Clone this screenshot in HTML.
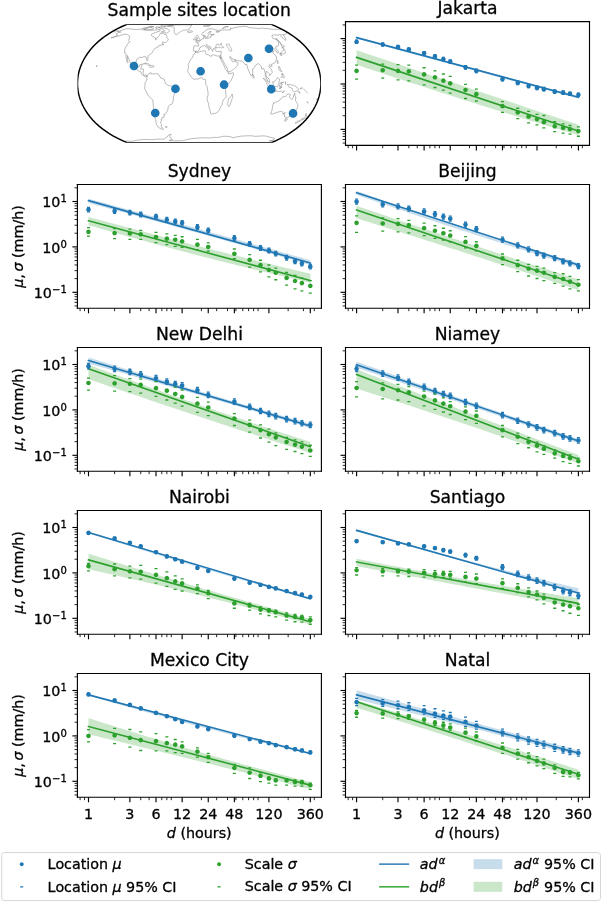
<!DOCTYPE html>
<html><head><meta charset="utf-8"><title>Figure</title>
<style>html,body{margin:0;padding:0;background:#fff;width:602px;height:902px;overflow:hidden}svg{display:block}text{stroke:#000;stroke-width:0.3px}</style>
</head><body>
<svg width="602" height="902" viewBox="0 0 602 902" version="1.1"><defs><style type="text/css">*{stroke-linejoin: round; stroke-linecap: butt}</style></defs><g><g><path d="M 0 902 L 602 902 L 602 0 L 0 0 z " style="fill: #ffffff"/></g><g><g><path d="M 345.5 145.4 L 589.5 145.4 L 589.5 21.6 L 345.5 21.6 z " style="fill: #ffffff"/></g><g><defs><path id="m960c90e449" d="M 356.59 -865.38 L 356.59 -863.31 L 360.35 -862.28 L 364.11 -861.25 L 367.86 -860.23 L 371.62 -859.20 L 375.38 -858.18 L 379.14 -857.15 L 382.90 -856.13 L 386.66 -855.10 L 390.42 -854.08 L 394.18 -853.05 L 397.94 -852.03 L 401.70 -851.01 L 405.46 -849.99 L 409.22 -848.97 L 412.98 -847.95 L 416.74 -846.93 L 420.50 -845.91 L 424.26 -844.89 L 428.02 -843.87 L 431.78 -842.85 L 435.54 -841.83 L 439.30 -840.81 L 443.06 -839.80 L 446.82 -838.78 L 450.58 -837.77 L 454.34 -836.75 L 458.10 -835.73 L 461.86 -834.72 L 465.62 -833.71 L 469.37 -832.69 L 473.13 -831.68 L 476.89 -830.67 L 480.65 -829.65 L 484.41 -828.64 L 488.17 -827.63 L 491.93 -826.62 L 495.69 -825.61 L 499.45 -824.60 L 503.21 -823.59 L 506.97 -822.58 L 510.73 -821.57 L 514.49 -820.57 L 518.25 -819.56 L 522.01 -818.55 L 525.77 -817.55 L 529.53 -816.54 L 533.29 -815.53 L 537.05 -814.53 L 540.81 -813.53 L 544.57 -812.52 L 548.33 -811.52 L 552.09 -810.51 L 555.85 -809.51 L 559.61 -808.51 L 563.37 -807.51 L 567.13 -806.51 L 570.88 -805.51 L 574.64 -804.51 L 578.40 -803.51 L 578.40 -806.00 L 578.40 -806.00 L 574.64 -806.98 L 570.88 -807.96 L 567.13 -808.94 L 563.37 -809.92 L 559.61 -810.90 L 555.85 -811.89 L 552.09 -812.87 L 548.33 -813.86 L 544.57 -814.84 L 540.81 -815.83 L 537.05 -816.82 L 533.29 -817.81 L 529.53 -818.80 L 525.77 -819.79 L 522.01 -820.78 L 518.25 -821.77 L 514.49 -822.77 L 510.73 -823.76 L 506.97 -824.76 L 503.21 -825.76 L 499.45 -826.75 L 495.69 -827.75 L 491.93 -828.75 L 488.17 -829.75 L 484.41 -830.76 L 480.65 -831.76 L 476.89 -832.76 L 473.13 -833.77 L 469.37 -834.77 L 465.62 -835.78 L 461.86 -836.79 L 458.10 -837.80 L 454.34 -838.80 L 450.58 -839.81 L 446.82 -840.83 L 443.06 -841.84 L 439.30 -842.85 L 435.54 -843.87 L 431.78 -844.88 L 428.02 -845.90 L 424.26 -846.91 L 420.50 -847.93 L 416.74 -848.95 L 412.98 -849.97 L 409.22 -850.99 L 405.46 -852.01 L 401.70 -853.04 L 397.94 -854.06 L 394.18 -855.08 L 390.42 -856.11 L 386.66 -857.14 L 382.90 -858.16 L 379.14 -859.19 L 375.38 -860.22 L 371.62 -861.25 L 367.86 -862.28 L 364.11 -863.32 L 360.35 -864.35 L 356.59 -865.38 z "/></defs><g clip-path="url(#pa91a265807)"><use href="#m960c90e449" x="0" y="902" style="fill: #1f77b4; fill-opacity: 0.25"/></g></g><g><defs><path id="mf3bcea6b9d" d="M 356.59 -851.89 L 356.59 -837.35 L 360.35 -836.09 L 364.11 -834.82 L 367.86 -833.56 L 371.62 -832.30 L 375.38 -831.05 L 379.14 -829.79 L 382.90 -828.54 L 386.66 -827.29 L 390.42 -826.05 L 394.18 -824.80 L 397.94 -823.56 L 401.70 -822.32 L 405.46 -821.08 L 409.22 -819.85 L 412.98 -818.62 L 416.74 -817.39 L 420.50 -816.16 L 424.26 -814.93 L 428.02 -813.71 L 431.78 -812.49 L 435.54 -811.27 L 439.30 -810.06 L 443.06 -808.84 L 446.82 -807.63 L 450.58 -806.42 L 454.34 -805.22 L 458.10 -804.01 L 461.86 -802.81 L 465.62 -801.61 L 469.37 -800.42 L 473.13 -799.22 L 476.89 -798.03 L 480.65 -796.84 L 484.41 -795.65 L 488.17 -794.47 L 491.93 -793.29 L 495.69 -792.11 L 499.45 -790.93 L 503.21 -789.76 L 506.97 -788.58 L 510.73 -787.41 L 514.49 -786.24 L 518.25 -785.08 L 522.01 -783.92 L 525.77 -782.75 L 529.53 -781.60 L 533.29 -780.44 L 537.05 -779.29 L 540.81 -778.14 L 544.57 -776.99 L 548.33 -775.84 L 552.09 -774.70 L 555.85 -773.55 L 559.61 -772.41 L 563.37 -771.28 L 567.13 -770.14 L 570.88 -769.01 L 574.64 -767.88 L 578.40 -766.75 L 578.40 -777.14 L 578.40 -777.14 L 574.64 -778.40 L 570.88 -779.67 L 567.13 -780.94 L 563.37 -782.20 L 559.61 -783.47 L 555.85 -784.74 L 552.09 -786.00 L 548.33 -787.27 L 544.57 -788.54 L 540.81 -789.81 L 537.05 -791.07 L 533.29 -792.34 L 529.53 -793.61 L 525.77 -794.87 L 522.01 -796.14 L 518.25 -797.41 L 514.49 -798.67 L 510.73 -799.94 L 506.97 -801.21 L 503.21 -802.48 L 499.45 -803.74 L 495.69 -805.01 L 491.93 -806.28 L 488.17 -807.54 L 484.41 -808.81 L 480.65 -810.08 L 476.89 -811.34 L 473.13 -812.61 L 469.37 -813.88 L 465.62 -815.15 L 461.86 -816.41 L 458.10 -817.68 L 454.34 -818.95 L 450.58 -820.21 L 446.82 -821.48 L 443.06 -822.75 L 439.30 -824.01 L 435.54 -825.28 L 431.78 -826.55 L 428.02 -827.81 L 424.26 -829.08 L 420.50 -830.35 L 416.74 -831.62 L 412.98 -832.88 L 409.22 -834.15 L 405.46 -835.42 L 401.70 -836.68 L 397.94 -837.95 L 394.18 -839.22 L 390.42 -840.48 L 386.66 -841.75 L 382.90 -843.02 L 379.14 -844.29 L 375.38 -845.55 L 371.62 -846.82 L 367.86 -848.09 L 364.11 -849.35 L 360.35 -850.62 L 356.59 -851.89 z "/></defs><g clip-path="url(#pa91a265807)"><use href="#mf3bcea6b9d" x="0" y="902" style="fill: #2ca02c; fill-opacity: 0.25"/></g></g><g><g><g><defs><path id="m2c01bbbdb9" d="M 0 0 L 0 5.00 " style="stroke: #000000; stroke-width: 1.14"/></defs><g><use href="#m2c01bbbdb9" x="356.59" y="145.4" style="stroke: #000000; stroke-width: 1.14"/></g></g></g><use href="#m2c01bbbdb9" x="397.99" y="145.4" style="stroke: #000000; stroke-width: 1.14"/><use href="#m2c01bbbdb9" x="424.11" y="145.4" style="stroke: #000000; stroke-width: 1.14"/><use href="#m2c01bbbdb9" x="450.23" y="145.4" style="stroke: #000000; stroke-width: 1.14"/><use href="#m2c01bbbdb9" x="476.35" y="145.4" style="stroke: #000000; stroke-width: 1.14"/><use href="#m2c01bbbdb9" x="502.47" y="145.4" style="stroke: #000000; stroke-width: 1.14"/><use href="#m2c01bbbdb9" x="537.00" y="145.4" style="stroke: #000000; stroke-width: 1.14"/><use href="#m2c01bbbdb9" x="578.40" y="145.4" style="stroke: #000000; stroke-width: 1.14"/><g><g><defs><path id="m645ac34a00" d="M 0 0 L 0 2.86 " style="stroke: #000000; stroke-width: 0.85"/></defs><g><use href="#m645ac34a00" x="348.18" y="145.4" style="stroke: #000000; stroke-width: 0.85"/></g></g></g><use href="#m645ac34a00" x="352.62" y="145.4" style="stroke: #000000; stroke-width: 0.85"/><use href="#m645ac34a00" x="382.71" y="145.4" style="stroke: #000000; stroke-width: 0.85"/><use href="#m645ac34a00" x="408.83" y="145.4" style="stroke: #000000; stroke-width: 0.85"/><use href="#m645ac34a00" x="417.24" y="145.4" style="stroke: #000000; stroke-width: 0.85"/><use href="#m645ac34a00" x="429.92" y="145.4" style="stroke: #000000; stroke-width: 0.85"/><use href="#m645ac34a00" x="434.95" y="145.4" style="stroke: #000000; stroke-width: 0.85"/><use href="#m645ac34a00" x="439.39" y="145.4" style="stroke: #000000; stroke-width: 0.85"/><use href="#m645ac34a00" x="469.48" y="145.4" style="stroke: #000000; stroke-width: 0.85"/><use href="#m645ac34a00" x="484.76" y="145.4" style="stroke: #000000; stroke-width: 0.85"/><use href="#m645ac34a00" x="495.60" y="145.4" style="stroke: #000000; stroke-width: 0.85"/><use href="#m645ac34a00" x="504.01" y="145.4" style="stroke: #000000; stroke-width: 0.85"/><use href="#m645ac34a00" x="510.88" y="145.4" style="stroke: #000000; stroke-width: 0.85"/><use href="#m645ac34a00" x="516.69" y="145.4" style="stroke: #000000; stroke-width: 0.85"/><use href="#m645ac34a00" x="521.72" y="145.4" style="stroke: #000000; stroke-width: 0.85"/><use href="#m645ac34a00" x="526.16" y="145.4" style="stroke: #000000; stroke-width: 0.85"/><use href="#m645ac34a00" x="556.25" y="145.4" style="stroke: #000000; stroke-width: 0.85"/><use href="#m645ac34a00" x="571.53" y="145.4" style="stroke: #000000; stroke-width: 0.85"/><use href="#m645ac34a00" x="582.37" y="145.4" style="stroke: #000000; stroke-width: 0.85"/></g><g><g><g><defs><path id="m370a196e71" d="M 0 0 L -5.00 0 " style="stroke: #000000; stroke-width: 1.14"/></defs><g><use href="#m370a196e71" x="345.5" y="129.4" style="stroke: #000000; stroke-width: 1.14"/></g></g></g><use href="#m370a196e71" x="345.5" y="84" style="stroke: #000000; stroke-width: 1.14"/><use href="#m370a196e71" x="345.5" y="38.6" style="stroke: #000000; stroke-width: 1.14"/><g><g><defs><path id="m23b3c730b1" d="M 0 0 L -2.86 0 " style="stroke: #000000; stroke-width: 0.85"/></defs><g><use href="#m23b3c730b1" x="345.5" y="143.06" style="stroke: #000000; stroke-width: 0.85"/></g></g></g><use href="#m23b3c730b1" x="345.5" y="139.47" style="stroke: #000000; stroke-width: 0.85"/><use href="#m23b3c730b1" x="345.5" y="136.43" style="stroke: #000000; stroke-width: 0.85"/><use href="#m23b3c730b1" x="345.5" y="133.79" style="stroke: #000000; stroke-width: 0.85"/><use href="#m23b3c730b1" x="345.5" y="131.47" style="stroke: #000000; stroke-width: 0.85"/><use href="#m23b3c730b1" x="345.5" y="115.73" style="stroke: #000000; stroke-width: 0.85"/><use href="#m23b3c730b1" x="345.5" y="107.73" style="stroke: #000000; stroke-width: 0.85"/><use href="#m23b3c730b1" x="345.5" y="102.06" style="stroke: #000000; stroke-width: 0.85"/><use href="#m23b3c730b1" x="345.5" y="97.66" style="stroke: #000000; stroke-width: 0.85"/><use href="#m23b3c730b1" x="345.5" y="94.07" style="stroke: #000000; stroke-width: 0.85"/><use href="#m23b3c730b1" x="345.5" y="91.03" style="stroke: #000000; stroke-width: 0.85"/><use href="#m23b3c730b1" x="345.5" y="88.39" style="stroke: #000000; stroke-width: 0.85"/><use href="#m23b3c730b1" x="345.5" y="86.07" style="stroke: #000000; stroke-width: 0.85"/><use href="#m23b3c730b1" x="345.5" y="70.33" style="stroke: #000000; stroke-width: 0.85"/><use href="#m23b3c730b1" x="345.5" y="62.33" style="stroke: #000000; stroke-width: 0.85"/><use href="#m23b3c730b1" x="345.5" y="56.66" style="stroke: #000000; stroke-width: 0.85"/><use href="#m23b3c730b1" x="345.5" y="52.26" style="stroke: #000000; stroke-width: 0.85"/><use href="#m23b3c730b1" x="345.5" y="48.67" style="stroke: #000000; stroke-width: 0.85"/><use href="#m23b3c730b1" x="345.5" y="45.63" style="stroke: #000000; stroke-width: 0.85"/><use href="#m23b3c730b1" x="345.5" y="42.99" style="stroke: #000000; stroke-width: 0.85"/><use href="#m23b3c730b1" x="345.5" y="40.67" style="stroke: #000000; stroke-width: 0.85"/><use href="#m23b3c730b1" x="345.5" y="24.93" style="stroke: #000000; stroke-width: 0.85"/></g><g><path d="M 356.59 37.64 L 578.40 97.24 " clip-path="url(#pa91a265807)" style="fill: none; stroke: #1f77b4; stroke-width: 1.6; stroke-linecap: square"/></g><g><path d="M 356.59 57.37 L 578.40 131.08 " clip-path="url(#pa91a265807)" style="fill: none; stroke: #2ca02c; stroke-width: 1.6; stroke-linecap: square"/></g><g><defs><path id="m92d5d42935" d="M 1.5 0 L -1.5 -0 " style="stroke: #1f77b4; stroke-width: 1.3"/></defs><g clip-path="url(#pa91a265807)"><use href="#m92d5d42935" x="356.59" y="40.14" style="fill: #1f77b4; stroke: #1f77b4; stroke-width: 1.3"/><use href="#m92d5d42935" x="382.71" y="42.84" style="fill: #1f77b4; stroke: #1f77b4; stroke-width: 1.3"/><use href="#m92d5d42935" x="397.99" y="45.33" style="fill: #1f77b4; stroke: #1f77b4; stroke-width: 1.3"/><use href="#m92d5d42935" x="408.83" y="47.82" style="fill: #1f77b4; stroke: #1f77b4; stroke-width: 1.3"/><use href="#m92d5d42935" x="424.11" y="51.56" style="fill: #1f77b4; stroke: #1f77b4; stroke-width: 1.3"/><use href="#m92d5d42935" x="434.95" y="54.67" style="fill: #1f77b4; stroke: #1f77b4; stroke-width: 1.3"/><use href="#m92d5d42935" x="443.36" y="57.37" style="fill: #1f77b4; stroke: #1f77b4; stroke-width: 1.3"/><use href="#m92d5d42935" x="450.23" y="59.86" style="fill: #1f77b4; stroke: #1f77b4; stroke-width: 1.3"/><use href="#m92d5d42935" x="465.51" y="65.68" style="fill: #1f77b4; stroke: #1f77b4; stroke-width: 1.3"/><use href="#m92d5d42935" x="476.35" y="69.21" style="fill: #1f77b4; stroke: #1f77b4; stroke-width: 1.3"/><use href="#m92d5d42935" x="502.47" y="77.51" style="fill: #1f77b4; stroke: #1f77b4; stroke-width: 1.3"/><use href="#m92d5d42935" x="517.75" y="81.25" style="fill: #1f77b4; stroke: #1f77b4; stroke-width: 1.3"/><use href="#m92d5d42935" x="528.59" y="84.36" style="fill: #1f77b4; stroke: #1f77b4; stroke-width: 1.3"/><use href="#m92d5d42935" x="537.00" y="86.23" style="fill: #1f77b4; stroke: #1f77b4; stroke-width: 1.3"/><use href="#m92d5d42935" x="543.87" y="87.48" style="fill: #1f77b4; stroke: #1f77b4; stroke-width: 1.3"/><use href="#m92d5d42935" x="554.71" y="89.97" style="fill: #1f77b4; stroke: #1f77b4; stroke-width: 1.3"/><use href="#m92d5d42935" x="563.12" y="91.01" style="fill: #1f77b4; stroke: #1f77b4; stroke-width: 1.3"/><use href="#m92d5d42935" x="569.99" y="92.05" style="fill: #1f77b4; stroke: #1f77b4; stroke-width: 1.3"/><use href="#m92d5d42935" x="578.40" y="93.08" style="fill: #1f77b4; stroke: #1f77b4; stroke-width: 1.3"/></g></g><g><g clip-path="url(#pa91a265807)"><use href="#m92d5d42935" x="356.59" y="43.46" style="fill: #1f77b4; stroke: #1f77b4; stroke-width: 1.3"/><use href="#m92d5d42935" x="382.71" y="46.16" style="fill: #1f77b4; stroke: #1f77b4; stroke-width: 1.3"/><use href="#m92d5d42935" x="397.99" y="48.65" style="fill: #1f77b4; stroke: #1f77b4; stroke-width: 1.3"/><use href="#m92d5d42935" x="408.83" y="51.14" style="fill: #1f77b4; stroke: #1f77b4; stroke-width: 1.3"/><use href="#m92d5d42935" x="424.11" y="54.88" style="fill: #1f77b4; stroke: #1f77b4; stroke-width: 1.3"/><use href="#m92d5d42935" x="434.95" y="57.99" style="fill: #1f77b4; stroke: #1f77b4; stroke-width: 1.3"/><use href="#m92d5d42935" x="443.36" y="60.69" style="fill: #1f77b4; stroke: #1f77b4; stroke-width: 1.3"/><use href="#m92d5d42935" x="450.23" y="63.18" style="fill: #1f77b4; stroke: #1f77b4; stroke-width: 1.3"/><use href="#m92d5d42935" x="465.51" y="69.00" style="fill: #1f77b4; stroke: #1f77b4; stroke-width: 1.3"/><use href="#m92d5d42935" x="476.35" y="72.53" style="fill: #1f77b4; stroke: #1f77b4; stroke-width: 1.3"/><use href="#m92d5d42935" x="502.47" y="80.83" style="fill: #1f77b4; stroke: #1f77b4; stroke-width: 1.3"/><use href="#m92d5d42935" x="517.75" y="84.57" style="fill: #1f77b4; stroke: #1f77b4; stroke-width: 1.3"/><use href="#m92d5d42935" x="528.59" y="87.69" style="fill: #1f77b4; stroke: #1f77b4; stroke-width: 1.3"/><use href="#m92d5d42935" x="537.00" y="89.55" style="fill: #1f77b4; stroke: #1f77b4; stroke-width: 1.3"/><use href="#m92d5d42935" x="543.87" y="90.80" style="fill: #1f77b4; stroke: #1f77b4; stroke-width: 1.3"/><use href="#m92d5d42935" x="554.71" y="93.29" style="fill: #1f77b4; stroke: #1f77b4; stroke-width: 1.3"/><use href="#m92d5d42935" x="563.12" y="94.33" style="fill: #1f77b4; stroke: #1f77b4; stroke-width: 1.3"/><use href="#m92d5d42935" x="569.99" y="95.37" style="fill: #1f77b4; stroke: #1f77b4; stroke-width: 1.3"/><use href="#m92d5d42935" x="578.40" y="96.41" style="fill: #1f77b4; stroke: #1f77b4; stroke-width: 1.3"/></g></g><g><defs><path id="m8536452fce" d="M 1.5 0 L -1.5 -0 " style="stroke: #2ca02c; stroke-width: 1.3"/></defs><g clip-path="url(#pa91a265807)"><use href="#m8536452fce" x="356.59" y="65.05" style="fill: #2ca02c; stroke: #2ca02c; stroke-width: 1.3"/><use href="#m8536452fce" x="382.71" y="64.22" style="fill: #2ca02c; stroke: #2ca02c; stroke-width: 1.3"/><use href="#m8536452fce" x="397.99" y="64.64" style="fill: #2ca02c; stroke: #2ca02c; stroke-width: 1.3"/><use href="#m8536452fce" x="408.83" y="65.05" style="fill: #2ca02c; stroke: #2ca02c; stroke-width: 1.3"/><use href="#m8536452fce" x="424.11" y="67.75" style="fill: #2ca02c; stroke: #2ca02c; stroke-width: 1.3"/><use href="#m8536452fce" x="434.95" y="70.87" style="fill: #2ca02c; stroke: #2ca02c; stroke-width: 1.3"/><use href="#m8536452fce" x="443.36" y="73.98" style="fill: #2ca02c; stroke: #2ca02c; stroke-width: 1.3"/><use href="#m8536452fce" x="450.23" y="76.47" style="fill: #2ca02c; stroke: #2ca02c; stroke-width: 1.3"/><use href="#m8536452fce" x="465.51" y="84.36" style="fill: #2ca02c; stroke: #2ca02c; stroke-width: 1.3"/><use href="#m8536452fce" x="476.35" y="89.14" style="fill: #2ca02c; stroke: #2ca02c; stroke-width: 1.3"/><use href="#m8536452fce" x="502.47" y="101.60" style="fill: #2ca02c; stroke: #2ca02c; stroke-width: 1.3"/><use href="#m8536452fce" x="517.75" y="108.24" style="fill: #2ca02c; stroke: #2ca02c; stroke-width: 1.3"/><use href="#m8536452fce" x="528.59" y="111.36" style="fill: #2ca02c; stroke: #2ca02c; stroke-width: 1.3"/><use href="#m8536452fce" x="537.00" y="114.47" style="fill: #2ca02c; stroke: #2ca02c; stroke-width: 1.3"/><use href="#m8536452fce" x="543.87" y="115.51" style="fill: #2ca02c; stroke: #2ca02c; stroke-width: 1.3"/><use href="#m8536452fce" x="554.71" y="121.74" style="fill: #2ca02c; stroke: #2ca02c; stroke-width: 1.3"/><use href="#m8536452fce" x="563.12" y="123.82" style="fill: #2ca02c; stroke: #2ca02c; stroke-width: 1.3"/><use href="#m8536452fce" x="569.99" y="125.48" style="fill: #2ca02c; stroke: #2ca02c; stroke-width: 1.3"/><use href="#m8536452fce" x="578.40" y="126.93" style="fill: #2ca02c; stroke: #2ca02c; stroke-width: 1.3"/></g></g><g><g clip-path="url(#pa91a265807)"><use href="#m8536452fce" x="356.59" y="79.17" style="fill: #2ca02c; stroke: #2ca02c; stroke-width: 1.3"/><use href="#m8536452fce" x="382.71" y="78.13" style="fill: #2ca02c; stroke: #2ca02c; stroke-width: 1.3"/><use href="#m8536452fce" x="397.99" y="79.80" style="fill: #2ca02c; stroke: #2ca02c; stroke-width: 1.3"/><use href="#m8536452fce" x="408.83" y="80.83" style="fill: #2ca02c; stroke: #2ca02c; stroke-width: 1.3"/><use href="#m8536452fce" x="424.11" y="84.78" style="fill: #2ca02c; stroke: #2ca02c; stroke-width: 1.3"/><use href="#m8536452fce" x="434.95" y="87.48" style="fill: #2ca02c; stroke: #2ca02c; stroke-width: 1.3"/><use href="#m8536452fce" x="443.36" y="90.18" style="fill: #2ca02c; stroke: #2ca02c; stroke-width: 1.3"/><use href="#m8536452fce" x="450.23" y="93.08" style="fill: #2ca02c; stroke: #2ca02c; stroke-width: 1.3"/><use href="#m8536452fce" x="465.51" y="98.48" style="fill: #2ca02c; stroke: #2ca02c; stroke-width: 1.3"/><use href="#m8536452fce" x="476.35" y="100.98" style="fill: #2ca02c; stroke: #2ca02c; stroke-width: 1.3"/><use href="#m8536452fce" x="502.47" y="112.40" style="fill: #2ca02c; stroke: #2ca02c; stroke-width: 1.3"/><use href="#m8536452fce" x="517.75" y="118.62" style="fill: #2ca02c; stroke: #2ca02c; stroke-width: 1.3"/><use href="#m8536452fce" x="528.59" y="122.78" style="fill: #2ca02c; stroke: #2ca02c; stroke-width: 1.3"/><use href="#m8536452fce" x="537.00" y="124.85" style="fill: #2ca02c; stroke: #2ca02c; stroke-width: 1.3"/><use href="#m8536452fce" x="543.87" y="127.97" style="fill: #2ca02c; stroke: #2ca02c; stroke-width: 1.3"/><use href="#m8536452fce" x="554.71" y="131.71" style="fill: #2ca02c; stroke: #2ca02c; stroke-width: 1.3"/><use href="#m8536452fce" x="563.12" y="133.16" style="fill: #2ca02c; stroke: #2ca02c; stroke-width: 1.3"/><use href="#m8536452fce" x="569.99" y="134.20" style="fill: #2ca02c; stroke: #2ca02c; stroke-width: 1.3"/><use href="#m8536452fce" x="578.40" y="136.27" style="fill: #2ca02c; stroke: #2ca02c; stroke-width: 1.3"/></g></g><g><defs><path id="m392b33b074" d="M 0 2.3 C 0.60 2.3 1.19 2.05 1.62 1.62 C 2.05 1.19 2.3 0.60 2.3 0 C 2.3 -0.60 2.05 -1.19 1.62 -1.62 C 1.19 -2.05 0.60 -2.3 0 -2.3 C -0.60 -2.3 -1.19 -2.05 -1.62 -1.62 C -2.05 -1.19 -2.3 -0.60 -2.3 0 C -2.3 0.60 -2.05 1.19 -1.62 1.62 C -1.19 2.05 -0.60 2.3 0 2.3 z "/></defs><g clip-path="url(#pa91a265807)"><use href="#m392b33b074" x="356.59" y="41.80" style="fill: #1f77b4"/><use href="#m392b33b074" x="382.71" y="44.50" style="fill: #1f77b4"/><use href="#m392b33b074" x="397.99" y="46.99" style="fill: #1f77b4"/><use href="#m392b33b074" x="408.83" y="49.48" style="fill: #1f77b4"/><use href="#m392b33b074" x="424.11" y="53.22" style="fill: #1f77b4"/><use href="#m392b33b074" x="434.95" y="56.33" style="fill: #1f77b4"/><use href="#m392b33b074" x="443.36" y="59.03" style="fill: #1f77b4"/><use href="#m392b33b074" x="450.23" y="61.52" style="fill: #1f77b4"/><use href="#m392b33b074" x="465.51" y="67.34" style="fill: #1f77b4"/><use href="#m392b33b074" x="476.35" y="70.87" style="fill: #1f77b4"/><use href="#m392b33b074" x="502.47" y="79.17" style="fill: #1f77b4"/><use href="#m392b33b074" x="517.75" y="82.91" style="fill: #1f77b4"/><use href="#m392b33b074" x="528.59" y="86.02" style="fill: #1f77b4"/><use href="#m392b33b074" x="537.00" y="87.89" style="fill: #1f77b4"/><use href="#m392b33b074" x="543.87" y="89.14" style="fill: #1f77b4"/><use href="#m392b33b074" x="554.71" y="91.63" style="fill: #1f77b4"/><use href="#m392b33b074" x="563.12" y="92.67" style="fill: #1f77b4"/><use href="#m392b33b074" x="569.99" y="93.71" style="fill: #1f77b4"/><use href="#m392b33b074" x="578.40" y="94.75" style="fill: #1f77b4"/></g></g><g><defs><path id="mb3e0cefdb7" d="M 0 2.3 C 0.60 2.3 1.19 2.05 1.62 1.62 C 2.05 1.19 2.3 0.60 2.3 0 C 2.3 -0.60 2.05 -1.19 1.62 -1.62 C 1.19 -2.05 0.60 -2.3 0 -2.3 C -0.60 -2.3 -1.19 -2.05 -1.62 -1.62 C -2.05 -1.19 -2.3 -0.60 -2.3 0 C -2.3 0.60 -2.05 1.19 -1.62 1.62 C -1.19 2.05 -0.60 2.3 0 2.3 z "/></defs><g clip-path="url(#pa91a265807)"><use href="#mb3e0cefdb7" x="356.59" y="70.87" style="fill: #2ca02c"/><use href="#mb3e0cefdb7" x="382.71" y="70.24" style="fill: #2ca02c"/><use href="#mb3e0cefdb7" x="397.99" y="70.87" style="fill: #2ca02c"/><use href="#mb3e0cefdb7" x="408.83" y="71.28" style="fill: #2ca02c"/><use href="#mb3e0cefdb7" x="424.11" y="74.40" style="fill: #2ca02c"/><use href="#mb3e0cefdb7" x="434.95" y="77.30" style="fill: #2ca02c"/><use href="#mb3e0cefdb7" x="443.36" y="80.63" style="fill: #2ca02c"/><use href="#mb3e0cefdb7" x="450.23" y="83.33" style="fill: #2ca02c"/><use href="#mb3e0cefdb7" x="465.51" y="89.97" style="fill: #2ca02c"/><use href="#mb3e0cefdb7" x="476.35" y="94.12" style="fill: #2ca02c"/><use href="#mb3e0cefdb7" x="502.47" y="106.17" style="fill: #2ca02c"/><use href="#mb3e0cefdb7" x="517.75" y="112.40" style="fill: #2ca02c"/><use href="#mb3e0cefdb7" x="528.59" y="116.55" style="fill: #2ca02c"/><use href="#mb3e0cefdb7" x="537.00" y="119.25" style="fill: #2ca02c"/><use href="#mb3e0cefdb7" x="543.87" y="122.15" style="fill: #2ca02c"/><use href="#mb3e0cefdb7" x="554.71" y="126.31" style="fill: #2ca02c"/><use href="#mb3e0cefdb7" x="563.12" y="127.97" style="fill: #2ca02c"/><use href="#mb3e0cefdb7" x="569.99" y="129.01" style="fill: #2ca02c"/><use href="#mb3e0cefdb7" x="578.40" y="131.08" style="fill: #2ca02c"/></g></g><g><path d="M 345.5 145.4 L 345.5 21.6 " style="fill: none; stroke: #000000; stroke-width: 1.14; stroke-linejoin: miter; stroke-linecap: square"/></g><g><path d="M 589.5 145.4 L 589.5 21.6 " style="fill: none; stroke: #000000; stroke-width: 1.14; stroke-linejoin: miter; stroke-linecap: square"/></g><g><path d="M 345.5 145.4 L 589.5 145.4 " style="fill: none; stroke: #000000; stroke-width: 1.14; stroke-linejoin: miter; stroke-linecap: square"/></g><g><path d="M 345.5 21.6 L 589.5 21.6 " style="fill: none; stroke: #000000; stroke-width: 1.14; stroke-linejoin: miter; stroke-linecap: square"/></g><g><text style="font-size: 17.16px; font-family: 'DejaVu Sans', 'Liberation Sans', sans-serif; text-anchor: middle" x="467.5" y="13.92" transform="rotate(-0 467.5 13.92)">Jakarta</text></g></g><g><g><path d="M 77.4 308.3 L 321.4 308.3 L 321.4 184.5 L 77.4 184.5 z " style="fill: #ffffff"/></g><g><defs><path id="m7b9474c66c" d="M 88.49 -703.21 L 88.49 -699.06 L 92.25 -698.06 L 96.01 -697.05 L 99.76 -696.04 L 103.52 -695.04 L 107.28 -694.03 L 111.04 -693.01 L 114.80 -692.00 L 118.56 -690.98 L 122.32 -689.97 L 126.08 -688.95 L 129.84 -687.93 L 133.60 -686.91 L 137.36 -685.88 L 141.12 -684.86 L 144.88 -683.83 L 148.64 -682.80 L 152.40 -681.77 L 156.16 -680.74 L 159.92 -679.70 L 163.68 -678.67 L 167.44 -677.63 L 171.20 -676.59 L 174.96 -675.55 L 178.72 -674.51 L 182.48 -673.46 L 186.24 -672.42 L 190.00 -671.37 L 193.76 -670.32 L 197.52 -669.27 L 201.27 -668.22 L 205.03 -667.17 L 208.79 -666.11 L 212.55 -665.05 L 216.31 -663.99 L 220.07 -662.93 L 223.83 -661.87 L 227.59 -660.81 L 231.35 -659.74 L 235.11 -658.67 L 238.87 -657.60 L 242.63 -656.53 L 246.39 -655.46 L 250.15 -654.39 L 253.91 -653.31 L 257.67 -652.23 L 261.43 -651.16 L 265.19 -650.08 L 268.95 -648.99 L 272.71 -647.91 L 276.47 -646.82 L 280.23 -645.74 L 283.99 -644.65 L 287.75 -643.56 L 291.51 -642.46 L 295.27 -641.37 L 299.03 -640.27 L 302.78 -639.18 L 306.54 -638.08 L 310.30 -636.98 L 310.30 -641.75 L 310.30 -641.75 L 306.54 -642.82 L 302.78 -643.89 L 299.03 -644.96 L 295.27 -646.02 L 291.51 -647.09 L 287.75 -648.15 L 283.99 -649.22 L 280.23 -650.28 L 276.47 -651.34 L 272.71 -652.40 L 268.95 -653.46 L 265.19 -654.52 L 261.43 -655.58 L 257.67 -656.64 L 253.91 -657.69 L 250.15 -658.75 L 246.39 -659.80 L 242.63 -660.86 L 238.87 -661.91 L 235.11 -662.96 L 231.35 -664.01 L 227.59 -665.06 L 223.83 -666.11 L 220.07 -667.15 L 216.31 -668.20 L 212.55 -669.25 L 208.79 -670.29 L 205.03 -671.33 L 201.27 -672.38 L 197.52 -673.42 L 193.76 -674.46 L 190.00 -675.50 L 186.24 -676.54 L 182.48 -677.58 L 178.72 -678.61 L 174.96 -679.65 L 171.20 -680.68 L 167.44 -681.72 L 163.68 -682.75 L 159.92 -683.78 L 156.16 -684.82 L 152.40 -685.85 L 148.64 -686.87 L 144.88 -687.90 L 141.12 -688.93 L 137.36 -689.96 L 133.60 -690.98 L 129.84 -692.01 L 126.08 -693.03 L 122.32 -694.05 L 118.56 -695.08 L 114.80 -696.10 L 111.04 -697.12 L 107.28 -698.13 L 103.52 -699.15 L 99.76 -700.17 L 96.01 -701.19 L 92.25 -702.20 L 88.49 -703.21 z "/></defs><g clip-path="url(#pf2905efbd2)"><use href="#m7b9474c66c" x="0" y="902" style="fill: #1f77b4; fill-opacity: 0.25"/></g></g><g><defs><path id="mca5d4ab418" d="M 88.49 -685.15 L 88.49 -676.84 L 92.25 -675.75 L 96.01 -674.66 L 99.76 -673.58 L 103.52 -672.50 L 107.28 -671.42 L 111.04 -670.35 L 114.80 -669.28 L 118.56 -668.22 L 122.32 -667.16 L 126.08 -666.10 L 129.84 -665.05 L 133.60 -664.00 L 137.36 -662.96 L 141.12 -661.92 L 144.88 -660.88 L 148.64 -659.85 L 152.40 -658.82 L 156.16 -657.80 L 159.92 -656.78 L 163.68 -655.76 L 167.44 -654.75 L 171.20 -653.75 L 174.96 -652.74 L 178.72 -651.74 L 182.48 -650.75 L 186.24 -649.76 L 190.00 -648.77 L 193.76 -647.79 L 197.52 -646.81 L 201.27 -645.83 L 205.03 -644.86 L 208.79 -643.90 L 212.55 -642.93 L 216.31 -641.97 L 220.07 -641.02 L 223.83 -640.07 L 227.59 -639.12 L 231.35 -638.18 L 235.11 -637.24 L 238.87 -636.31 L 242.63 -635.38 L 246.39 -634.45 L 250.15 -633.53 L 253.91 -632.61 L 257.67 -631.70 L 261.43 -630.79 L 265.19 -629.88 L 268.95 -628.98 L 272.71 -628.08 L 276.47 -627.19 L 280.23 -626.30 L 283.99 -625.41 L 287.75 -624.53 L 291.51 -623.65 L 295.27 -622.78 L 299.03 -621.91 L 302.78 -621.05 L 306.54 -620.18 L 310.30 -619.33 L 310.30 -628.26 L 310.30 -628.26 L 306.54 -629.15 L 302.78 -630.05 L 299.03 -630.95 L 295.27 -631.85 L 291.51 -632.76 L 287.75 -633.66 L 283.99 -634.57 L 280.23 -635.48 L 276.47 -636.40 L 272.71 -637.31 L 268.95 -638.23 L 265.19 -639.15 L 261.43 -640.08 L 257.67 -641.00 L 253.91 -641.93 L 250.15 -642.86 L 246.39 -643.80 L 242.63 -644.73 L 238.87 -645.67 L 235.11 -646.61 L 231.35 -647.55 L 227.59 -648.50 L 223.83 -649.45 L 220.07 -650.40 L 216.31 -651.35 L 212.55 -652.30 L 208.79 -653.26 L 205.03 -654.22 L 201.27 -655.18 L 197.52 -656.15 L 193.76 -657.11 L 190.00 -658.08 L 186.24 -659.05 L 182.48 -660.03 L 178.72 -661.00 L 174.96 -661.98 L 171.20 -662.96 L 167.44 -663.95 L 163.68 -664.93 L 159.92 -665.92 L 156.16 -666.91 L 152.40 -667.90 L 148.64 -668.90 L 144.88 -669.90 L 141.12 -670.90 L 137.36 -671.90 L 133.60 -672.91 L 129.84 -673.91 L 126.08 -674.92 L 122.32 -675.93 L 118.56 -676.95 L 114.80 -677.97 L 111.04 -678.98 L 107.28 -680.01 L 103.52 -681.03 L 99.76 -682.06 L 96.01 -683.08 L 92.25 -684.12 L 88.49 -685.15 z "/></defs><g clip-path="url(#pf2905efbd2)"><use href="#mca5d4ab418" x="0" y="902" style="fill: #2ca02c; fill-opacity: 0.25"/></g></g><g><use href="#m2c01bbbdb9" x="88.49" y="308.3" style="stroke: #000000; stroke-width: 1.14"/><use href="#m2c01bbbdb9" x="129.89" y="308.3" style="stroke: #000000; stroke-width: 1.14"/><use href="#m2c01bbbdb9" x="156.01" y="308.3" style="stroke: #000000; stroke-width: 1.14"/><use href="#m2c01bbbdb9" x="182.13" y="308.3" style="stroke: #000000; stroke-width: 1.14"/><use href="#m2c01bbbdb9" x="208.25" y="308.3" style="stroke: #000000; stroke-width: 1.14"/><use href="#m2c01bbbdb9" x="234.37" y="308.3" style="stroke: #000000; stroke-width: 1.14"/><use href="#m2c01bbbdb9" x="268.90" y="308.3" style="stroke: #000000; stroke-width: 1.14"/><use href="#m2c01bbbdb9" x="310.30" y="308.3" style="stroke: #000000; stroke-width: 1.14"/><use href="#m645ac34a00" x="80.08" y="308.3" style="stroke: #000000; stroke-width: 0.85"/><use href="#m645ac34a00" x="84.52" y="308.3" style="stroke: #000000; stroke-width: 0.85"/><use href="#m645ac34a00" x="114.61" y="308.3" style="stroke: #000000; stroke-width: 0.85"/><use href="#m645ac34a00" x="140.73" y="308.3" style="stroke: #000000; stroke-width: 0.85"/><use href="#m645ac34a00" x="149.14" y="308.3" style="stroke: #000000; stroke-width: 0.85"/><use href="#m645ac34a00" x="161.82" y="308.3" style="stroke: #000000; stroke-width: 0.85"/><use href="#m645ac34a00" x="166.85" y="308.3" style="stroke: #000000; stroke-width: 0.85"/><use href="#m645ac34a00" x="171.29" y="308.3" style="stroke: #000000; stroke-width: 0.85"/><use href="#m645ac34a00" x="201.38" y="308.3" style="stroke: #000000; stroke-width: 0.85"/><use href="#m645ac34a00" x="216.66" y="308.3" style="stroke: #000000; stroke-width: 0.85"/><use href="#m645ac34a00" x="227.50" y="308.3" style="stroke: #000000; stroke-width: 0.85"/><use href="#m645ac34a00" x="235.91" y="308.3" style="stroke: #000000; stroke-width: 0.85"/><use href="#m645ac34a00" x="242.78" y="308.3" style="stroke: #000000; stroke-width: 0.85"/><use href="#m645ac34a00" x="248.59" y="308.3" style="stroke: #000000; stroke-width: 0.85"/><use href="#m645ac34a00" x="253.62" y="308.3" style="stroke: #000000; stroke-width: 0.85"/><use href="#m645ac34a00" x="258.06" y="308.3" style="stroke: #000000; stroke-width: 0.85"/><use href="#m645ac34a00" x="288.15" y="308.3" style="stroke: #000000; stroke-width: 0.85"/><use href="#m645ac34a00" x="303.43" y="308.3" style="stroke: #000000; stroke-width: 0.85"/><use href="#m645ac34a00" x="314.27" y="308.3" style="stroke: #000000; stroke-width: 0.85"/></g><g><g><g><g><use href="#m370a196e71" x="77.4" y="292.3" style="stroke: #000000; stroke-width: 1.14"/></g></g><g><g transform="translate(33.78 298.73)"><text><tspan x="0" y="-0.49" style="font-size: 14.3px; font-family: 'DejaVu Sans', 'Liberation Sans', sans-serif">1</tspan><tspan x="9.06" y="-0.49" style="font-size: 14.3px; font-family: 'DejaVu Sans', 'Liberation Sans', sans-serif">0</tspan><tspan x="18.26" y="-5.85" style="font-size: 10.01px; font-family: 'DejaVu Sans', 'Liberation Sans', sans-serif">−</tspan><tspan x="26.62" y="-5.85" style="font-size: 10.01px; font-family: 'DejaVu Sans', 'Liberation Sans', sans-serif">1</tspan></text></g></g></g><g><g><g><use href="#m370a196e71" x="77.4" y="246.9" style="stroke: #000000; stroke-width: 1.14"/></g></g><g><g transform="translate(42.22 253.33)"><text><tspan x="0" y="-0.36" style="font-size: 14.3px; font-family: 'DejaVu Sans', 'Liberation Sans', sans-serif">1</tspan><tspan x="9.06" y="-0.36" style="font-size: 14.3px; font-family: 'DejaVu Sans', 'Liberation Sans', sans-serif">0</tspan><tspan x="18.26" y="-5.72" style="font-size: 10.01px; font-family: 'DejaVu Sans', 'Liberation Sans', sans-serif">0</tspan></text></g></g></g><g><g><g><use href="#m370a196e71" x="77.4" y="201.5" style="stroke: #000000; stroke-width: 1.14"/></g></g><g><g transform="translate(42.22 207.93)"><text><tspan x="0" y="-0.49" style="font-size: 14.3px; font-family: 'DejaVu Sans', 'Liberation Sans', sans-serif">1</tspan><tspan x="9.06" y="-0.49" style="font-size: 14.3px; font-family: 'DejaVu Sans', 'Liberation Sans', sans-serif">0</tspan><tspan x="18.26" y="-5.85" style="font-size: 10.01px; font-family: 'DejaVu Sans', 'Liberation Sans', sans-serif">1</tspan></text></g></g></g><use href="#m23b3c730b1" x="77.4" y="305.96" style="stroke: #000000; stroke-width: 0.85"/><use href="#m23b3c730b1" x="77.4" y="302.37" style="stroke: #000000; stroke-width: 0.85"/><use href="#m23b3c730b1" x="77.4" y="299.33" style="stroke: #000000; stroke-width: 0.85"/><use href="#m23b3c730b1" x="77.4" y="296.69" style="stroke: #000000; stroke-width: 0.85"/><use href="#m23b3c730b1" x="77.4" y="294.37" style="stroke: #000000; stroke-width: 0.85"/><use href="#m23b3c730b1" x="77.4" y="278.63" style="stroke: #000000; stroke-width: 0.85"/><use href="#m23b3c730b1" x="77.4" y="270.63" style="stroke: #000000; stroke-width: 0.85"/><use href="#m23b3c730b1" x="77.4" y="264.96" style="stroke: #000000; stroke-width: 0.85"/><use href="#m23b3c730b1" x="77.4" y="260.56" style="stroke: #000000; stroke-width: 0.85"/><use href="#m23b3c730b1" x="77.4" y="256.97" style="stroke: #000000; stroke-width: 0.85"/><use href="#m23b3c730b1" x="77.4" y="253.93" style="stroke: #000000; stroke-width: 0.85"/><use href="#m23b3c730b1" x="77.4" y="251.29" style="stroke: #000000; stroke-width: 0.85"/><use href="#m23b3c730b1" x="77.4" y="248.97" style="stroke: #000000; stroke-width: 0.85"/><use href="#m23b3c730b1" x="77.4" y="233.23" style="stroke: #000000; stroke-width: 0.85"/><use href="#m23b3c730b1" x="77.4" y="225.23" style="stroke: #000000; stroke-width: 0.85"/><use href="#m23b3c730b1" x="77.4" y="219.56" style="stroke: #000000; stroke-width: 0.85"/><use href="#m23b3c730b1" x="77.4" y="215.16" style="stroke: #000000; stroke-width: 0.85"/><use href="#m23b3c730b1" x="77.4" y="211.57" style="stroke: #000000; stroke-width: 0.85"/><use href="#m23b3c730b1" x="77.4" y="208.53" style="stroke: #000000; stroke-width: 0.85"/><use href="#m23b3c730b1" x="77.4" y="205.89" style="stroke: #000000; stroke-width: 0.85"/><use href="#m23b3c730b1" x="77.4" y="203.57" style="stroke: #000000; stroke-width: 0.85"/><use href="#m23b3c730b1" x="77.4" y="187.83" style="stroke: #000000; stroke-width: 0.85"/><g><g transform="translate(22.86 287.87) rotate(-90)"><text><tspan x="0" y="-0.35" style="font-style: oblique; font-size: 14.3px; font-family: 'DejaVu Sans', 'Liberation Sans', sans-serif">μ</tspan><tspan x="16.37" y="-0.35" style="font-style: oblique; font-size: 14.3px; font-family: 'DejaVu Sans', 'Liberation Sans', sans-serif">σ</tspan><tspan x="9.06" y="-0.35" style="font-size: 14.3px; font-family: 'DejaVu Sans', 'Liberation Sans', sans-serif">,</tspan><tspan x="25.40" y="-0.35" style="font-size: 14.3px; font-family: 'DejaVu Sans', 'Liberation Sans', sans-serif"></tspan><tspan x="29.93" y="-0.35" style="font-size: 14.3px; font-family: 'DejaVu Sans', 'Liberation Sans', sans-serif">(</tspan><tspan x="35.49" y="-0.35" style="font-size: 14.3px; font-family: 'DejaVu Sans', 'Liberation Sans', sans-serif">m</tspan><tspan x="49.37" y="-0.35" style="font-size: 14.3px; font-family: 'DejaVu Sans', 'Liberation Sans', sans-serif">m</tspan><tspan x="63.25" y="-0.35" style="font-size: 14.3px; font-family: 'DejaVu Sans', 'Liberation Sans', sans-serif">/</tspan><tspan x="68.05" y="-0.35" style="font-size: 14.3px; font-family: 'DejaVu Sans', 'Liberation Sans', sans-serif">h</tspan><tspan x="77.08" y="-0.35" style="font-size: 14.3px; font-family: 'DejaVu Sans', 'Liberation Sans', sans-serif">)</tspan></text></g></g></g><g><path d="M 88.49 200.64 L 310.30 262.94 " clip-path="url(#pf2905efbd2)" style="fill: none; stroke: #1f77b4; stroke-width: 1.6; stroke-linecap: square"/></g><g><path d="M 88.49 220.79 L 310.30 280.59 " clip-path="url(#pf2905efbd2)" style="fill: none; stroke: #2ca02c; stroke-width: 1.6; stroke-linecap: square"/></g><g><g clip-path="url(#pf2905efbd2)"><use href="#m92d5d42935" x="88.49" y="207.29" style="fill: #1f77b4; stroke: #1f77b4; stroke-width: 1.3"/><use href="#m92d5d42935" x="114.61" y="208.74" style="fill: #1f77b4; stroke: #1f77b4; stroke-width: 1.3"/><use href="#m92d5d42935" x="129.89" y="210.40" style="fill: #1f77b4; stroke: #1f77b4; stroke-width: 1.3"/><use href="#m92d5d42935" x="140.73" y="212.27" style="fill: #1f77b4; stroke: #1f77b4; stroke-width: 1.3"/><use href="#m92d5d42935" x="156.01" y="214.35" style="fill: #1f77b4; stroke: #1f77b4; stroke-width: 1.3"/><use href="#m92d5d42935" x="166.85" y="217.46" style="fill: #1f77b4; stroke: #1f77b4; stroke-width: 1.3"/><use href="#m92d5d42935" x="175.26" y="219.12" style="fill: #1f77b4; stroke: #1f77b4; stroke-width: 1.3"/><use href="#m92d5d42935" x="182.13" y="220.58" style="fill: #1f77b4; stroke: #1f77b4; stroke-width: 1.3"/><use href="#m92d5d42935" x="197.41" y="224.73" style="fill: #1f77b4; stroke: #1f77b4; stroke-width: 1.3"/><use href="#m92d5d42935" x="208.25" y="228.05" style="fill: #1f77b4; stroke: #1f77b4; stroke-width: 1.3"/><use href="#m92d5d42935" x="234.37" y="235.74" style="fill: #1f77b4; stroke: #1f77b4; stroke-width: 1.3"/><use href="#m92d5d42935" x="249.65" y="241.55" style="fill: #1f77b4; stroke: #1f77b4; stroke-width: 1.3"/><use href="#m92d5d42935" x="260.49" y="245.70" style="fill: #1f77b4; stroke: #1f77b4; stroke-width: 1.3"/><use href="#m92d5d42935" x="268.90" y="248.19" style="fill: #1f77b4; stroke: #1f77b4; stroke-width: 1.3"/><use href="#m92d5d42935" x="275.77" y="251.31" style="fill: #1f77b4; stroke: #1f77b4; stroke-width: 1.3"/><use href="#m92d5d42935" x="286.61" y="255.46" style="fill: #1f77b4; stroke: #1f77b4; stroke-width: 1.3"/><use href="#m92d5d42935" x="295.02" y="258.99" style="fill: #1f77b4; stroke: #1f77b4; stroke-width: 1.3"/><use href="#m92d5d42935" x="301.89" y="261.28" style="fill: #1f77b4; stroke: #1f77b4; stroke-width: 1.3"/><use href="#m92d5d42935" x="310.30" y="264.39" style="fill: #1f77b4; stroke: #1f77b4; stroke-width: 1.3"/></g></g><g><g clip-path="url(#pf2905efbd2)"><use href="#m92d5d42935" x="88.49" y="211.86" style="fill: #1f77b4; stroke: #1f77b4; stroke-width: 1.3"/><use href="#m92d5d42935" x="114.61" y="213.31" style="fill: #1f77b4; stroke: #1f77b4; stroke-width: 1.3"/><use href="#m92d5d42935" x="129.89" y="214.97" style="fill: #1f77b4; stroke: #1f77b4; stroke-width: 1.3"/><use href="#m92d5d42935" x="140.73" y="216.84" style="fill: #1f77b4; stroke: #1f77b4; stroke-width: 1.3"/><use href="#m92d5d42935" x="156.01" y="218.92" style="fill: #1f77b4; stroke: #1f77b4; stroke-width: 1.3"/><use href="#m92d5d42935" x="166.85" y="222.03" style="fill: #1f77b4; stroke: #1f77b4; stroke-width: 1.3"/><use href="#m92d5d42935" x="175.26" y="223.69" style="fill: #1f77b4; stroke: #1f77b4; stroke-width: 1.3"/><use href="#m92d5d42935" x="182.13" y="225.15" style="fill: #1f77b4; stroke: #1f77b4; stroke-width: 1.3"/><use href="#m92d5d42935" x="197.41" y="229.30" style="fill: #1f77b4; stroke: #1f77b4; stroke-width: 1.3"/><use href="#m92d5d42935" x="208.25" y="232.62" style="fill: #1f77b4; stroke: #1f77b4; stroke-width: 1.3"/><use href="#m92d5d42935" x="234.37" y="240.30" style="fill: #1f77b4; stroke: #1f77b4; stroke-width: 1.3"/><use href="#m92d5d42935" x="249.65" y="246.12" style="fill: #1f77b4; stroke: #1f77b4; stroke-width: 1.3"/><use href="#m92d5d42935" x="260.49" y="250.27" style="fill: #1f77b4; stroke: #1f77b4; stroke-width: 1.3"/><use href="#m92d5d42935" x="268.90" y="252.76" style="fill: #1f77b4; stroke: #1f77b4; stroke-width: 1.3"/><use href="#m92d5d42935" x="275.77" y="255.88" style="fill: #1f77b4; stroke: #1f77b4; stroke-width: 1.3"/><use href="#m92d5d42935" x="286.61" y="260.03" style="fill: #1f77b4; stroke: #1f77b4; stroke-width: 1.3"/><use href="#m92d5d42935" x="295.02" y="263.56" style="fill: #1f77b4; stroke: #1f77b4; stroke-width: 1.3"/><use href="#m92d5d42935" x="301.89" y="265.84" style="fill: #1f77b4; stroke: #1f77b4; stroke-width: 1.3"/><use href="#m92d5d42935" x="310.30" y="268.96" style="fill: #1f77b4; stroke: #1f77b4; stroke-width: 1.3"/></g></g><g><g clip-path="url(#pf2905efbd2)"><use href="#m8536452fce" x="88.49" y="227.64" style="fill: #2ca02c; stroke: #2ca02c; stroke-width: 1.3"/><use href="#m8536452fce" x="114.61" y="228.68" style="fill: #2ca02c; stroke: #2ca02c; stroke-width: 1.3"/><use href="#m8536452fce" x="129.89" y="229.09" style="fill: #2ca02c; stroke: #2ca02c; stroke-width: 1.3"/><use href="#m8536452fce" x="140.73" y="230.34" style="fill: #2ca02c; stroke: #2ca02c; stroke-width: 1.3"/><use href="#m8536452fce" x="156.01" y="232.41" style="fill: #2ca02c; stroke: #2ca02c; stroke-width: 1.3"/><use href="#m8536452fce" x="166.85" y="233.87" style="fill: #2ca02c; stroke: #2ca02c; stroke-width: 1.3"/><use href="#m8536452fce" x="175.26" y="235.32" style="fill: #2ca02c; stroke: #2ca02c; stroke-width: 1.3"/><use href="#m8536452fce" x="182.13" y="236.77" style="fill: #2ca02c; stroke: #2ca02c; stroke-width: 1.3"/><use href="#m8536452fce" x="197.41" y="239.47" style="fill: #2ca02c; stroke: #2ca02c; stroke-width: 1.3"/><use href="#m8536452fce" x="208.25" y="242.80" style="fill: #2ca02c; stroke: #2ca02c; stroke-width: 1.3"/><use href="#m8536452fce" x="234.37" y="249.02" style="fill: #2ca02c; stroke: #2ca02c; stroke-width: 1.3"/><use href="#m8536452fce" x="249.65" y="254.63" style="fill: #2ca02c; stroke: #2ca02c; stroke-width: 1.3"/><use href="#m8536452fce" x="260.49" y="260.24" style="fill: #2ca02c; stroke: #2ca02c; stroke-width: 1.3"/><use href="#m8536452fce" x="268.90" y="265.01" style="fill: #2ca02c; stroke: #2ca02c; stroke-width: 1.3"/><use href="#m8536452fce" x="275.77" y="268.13" style="fill: #2ca02c; stroke: #2ca02c; stroke-width: 1.3"/><use href="#m8536452fce" x="286.61" y="272.28" style="fill: #2ca02c; stroke: #2ca02c; stroke-width: 1.3"/><use href="#m8536452fce" x="295.02" y="275.40" style="fill: #2ca02c; stroke: #2ca02c; stroke-width: 1.3"/><use href="#m8536452fce" x="301.89" y="278.09" style="fill: #2ca02c; stroke: #2ca02c; stroke-width: 1.3"/><use href="#m8536452fce" x="310.30" y="280.59" style="fill: #2ca02c; stroke: #2ca02c; stroke-width: 1.3"/></g></g><g><g clip-path="url(#pf2905efbd2)"><use href="#m8536452fce" x="88.49" y="236.15" style="fill: #2ca02c; stroke: #2ca02c; stroke-width: 1.3"/><use href="#m8536452fce" x="114.61" y="238.64" style="fill: #2ca02c; stroke: #2ca02c; stroke-width: 1.3"/><use href="#m8536452fce" x="129.89" y="239.47" style="fill: #2ca02c; stroke: #2ca02c; stroke-width: 1.3"/><use href="#m8536452fce" x="140.73" y="239.47" style="fill: #2ca02c; stroke: #2ca02c; stroke-width: 1.3"/><use href="#m8536452fce" x="156.01" y="242.59" style="fill: #2ca02c; stroke: #2ca02c; stroke-width: 1.3"/><use href="#m8536452fce" x="166.85" y="244.66" style="fill: #2ca02c; stroke: #2ca02c; stroke-width: 1.3"/><use href="#m8536452fce" x="175.26" y="246.33" style="fill: #2ca02c; stroke: #2ca02c; stroke-width: 1.3"/><use href="#m8536452fce" x="182.13" y="247.36" style="fill: #2ca02c; stroke: #2ca02c; stroke-width: 1.3"/><use href="#m8536452fce" x="197.41" y="249.86" style="fill: #2ca02c; stroke: #2ca02c; stroke-width: 1.3"/><use href="#m8536452fce" x="208.25" y="251.10" style="fill: #2ca02c; stroke: #2ca02c; stroke-width: 1.3"/><use href="#m8536452fce" x="234.37" y="258.58" style="fill: #2ca02c; stroke: #2ca02c; stroke-width: 1.3"/><use href="#m8536452fce" x="249.65" y="267.09" style="fill: #2ca02c; stroke: #2ca02c; stroke-width: 1.3"/><use href="#m8536452fce" x="260.49" y="271.87" style="fill: #2ca02c; stroke: #2ca02c; stroke-width: 1.3"/><use href="#m8536452fce" x="268.90" y="276.85" style="fill: #2ca02c; stroke: #2ca02c; stroke-width: 1.3"/><use href="#m8536452fce" x="275.77" y="279.76" style="fill: #2ca02c; stroke: #2ca02c; stroke-width: 1.3"/><use href="#m8536452fce" x="286.61" y="285.15" style="fill: #2ca02c; stroke: #2ca02c; stroke-width: 1.3"/><use href="#m8536452fce" x="295.02" y="288.89" style="fill: #2ca02c; stroke: #2ca02c; stroke-width: 1.3"/><use href="#m8536452fce" x="301.89" y="290.97" style="fill: #2ca02c; stroke: #2ca02c; stroke-width: 1.3"/><use href="#m8536452fce" x="310.30" y="293.04" style="fill: #2ca02c; stroke: #2ca02c; stroke-width: 1.3"/></g></g><g><g clip-path="url(#pf2905efbd2)"><use href="#m392b33b074" x="88.49" y="209.57" style="fill: #1f77b4"/><use href="#m392b33b074" x="114.61" y="211.03" style="fill: #1f77b4"/><use href="#m392b33b074" x="129.89" y="212.69" style="fill: #1f77b4"/><use href="#m392b33b074" x="140.73" y="214.56" style="fill: #1f77b4"/><use href="#m392b33b074" x="156.01" y="216.63" style="fill: #1f77b4"/><use href="#m392b33b074" x="166.85" y="219.75" style="fill: #1f77b4"/><use href="#m392b33b074" x="175.26" y="221.41" style="fill: #1f77b4"/><use href="#m392b33b074" x="182.13" y="222.86" style="fill: #1f77b4"/><use href="#m392b33b074" x="197.41" y="227.01" style="fill: #1f77b4"/><use href="#m392b33b074" x="208.25" y="230.34" style="fill: #1f77b4"/><use href="#m392b33b074" x="234.37" y="238.02" style="fill: #1f77b4"/><use href="#m392b33b074" x="249.65" y="243.83" style="fill: #1f77b4"/><use href="#m392b33b074" x="260.49" y="247.99" style="fill: #1f77b4"/><use href="#m392b33b074" x="268.90" y="250.48" style="fill: #1f77b4"/><use href="#m392b33b074" x="275.77" y="253.59" style="fill: #1f77b4"/><use href="#m392b33b074" x="286.61" y="257.75" style="fill: #1f77b4"/><use href="#m392b33b074" x="295.02" y="261.28" style="fill: #1f77b4"/><use href="#m392b33b074" x="301.89" y="263.56" style="fill: #1f77b4"/><use href="#m392b33b074" x="310.30" y="266.67" style="fill: #1f77b4"/></g></g><g><g clip-path="url(#pf2905efbd2)"><use href="#mb3e0cefdb7" x="88.49" y="231.79" style="fill: #2ca02c"/><use href="#mb3e0cefdb7" x="114.61" y="233.04" style="fill: #2ca02c"/><use href="#mb3e0cefdb7" x="129.89" y="233.45" style="fill: #2ca02c"/><use href="#mb3e0cefdb7" x="140.73" y="234.28" style="fill: #2ca02c"/><use href="#mb3e0cefdb7" x="156.01" y="236.98" style="fill: #2ca02c"/><use href="#mb3e0cefdb7" x="166.85" y="238.64" style="fill: #2ca02c"/><use href="#mb3e0cefdb7" x="175.26" y="239.68" style="fill: #2ca02c"/><use href="#mb3e0cefdb7" x="182.13" y="241.34" style="fill: #2ca02c"/><use href="#mb3e0cefdb7" x="197.41" y="244.66" style="fill: #2ca02c"/><use href="#mb3e0cefdb7" x="208.25" y="246.95" style="fill: #2ca02c"/><use href="#mb3e0cefdb7" x="234.37" y="253.80" style="fill: #2ca02c"/><use href="#mb3e0cefdb7" x="249.65" y="259.82" style="fill: #2ca02c"/><use href="#mb3e0cefdb7" x="260.49" y="265.01" style="fill: #2ca02c"/><use href="#mb3e0cefdb7" x="268.90" y="269.79" style="fill: #2ca02c"/><use href="#mb3e0cefdb7" x="275.77" y="272.70" style="fill: #2ca02c"/><use href="#mb3e0cefdb7" x="286.61" y="277.89" style="fill: #2ca02c"/><use href="#mb3e0cefdb7" x="295.02" y="281.00" style="fill: #2ca02c"/><use href="#mb3e0cefdb7" x="301.89" y="283.08" style="fill: #2ca02c"/><use href="#mb3e0cefdb7" x="310.30" y="285.78" style="fill: #2ca02c"/></g></g><g><path d="M 77.4 308.3 L 77.4 184.5 " style="fill: none; stroke: #000000; stroke-width: 1.14; stroke-linejoin: miter; stroke-linecap: square"/></g><g><path d="M 321.4 308.3 L 321.4 184.5 " style="fill: none; stroke: #000000; stroke-width: 1.14; stroke-linejoin: miter; stroke-linecap: square"/></g><g><path d="M 77.4 308.3 L 321.4 308.3 " style="fill: none; stroke: #000000; stroke-width: 1.14; stroke-linejoin: miter; stroke-linecap: square"/></g><g><path d="M 77.4 184.5 L 321.4 184.5 " style="fill: none; stroke: #000000; stroke-width: 1.14; stroke-linejoin: miter; stroke-linecap: square"/></g><g><text style="font-size: 17.16px; font-family: 'DejaVu Sans', 'Liberation Sans', sans-serif; text-anchor: middle" x="199.4" y="176.82" transform="rotate(-0 199.4 176.82)">Sydney</text></g></g><g><g><path d="M 345.5 308.3 L 589.5 308.3 L 589.5 184.5 L 345.5 184.5 z " style="fill: #ffffff"/></g><g><defs><path id="mdbd561e580" d="M 356.59 -711.10 L 356.59 -707.16 L 360.35 -705.85 L 364.11 -704.55 L 367.86 -703.24 L 371.62 -701.95 L 375.38 -700.65 L 379.14 -699.36 L 382.90 -698.07 L 386.66 -696.78 L 390.42 -695.49 L 394.18 -694.21 L 397.94 -692.93 L 401.70 -691.66 L 405.46 -690.38 L 409.22 -689.11 L 412.98 -687.84 L 416.74 -686.58 L 420.50 -685.32 L 424.26 -684.06 L 428.02 -682.80 L 431.78 -681.55 L 435.54 -680.30 L 439.30 -679.05 L 443.06 -677.81 L 446.82 -676.56 L 450.58 -675.32 L 454.34 -674.09 L 458.10 -672.85 L 461.86 -671.62 L 465.62 -670.40 L 469.37 -669.17 L 473.13 -667.95 L 476.89 -666.73 L 480.65 -665.52 L 484.41 -664.30 L 488.17 -663.09 L 491.93 -661.88 L 495.69 -660.68 L 499.45 -659.48 L 503.21 -658.28 L 506.97 -657.08 L 510.73 -655.89 L 514.49 -654.70 L 518.25 -653.51 L 522.01 -652.33 L 525.77 -651.14 L 529.53 -649.97 L 533.29 -648.79 L 537.05 -647.62 L 540.81 -646.45 L 544.57 -645.28 L 548.33 -644.11 L 552.09 -642.95 L 555.85 -641.79 L 559.61 -640.64 L 563.37 -639.48 L 567.13 -638.33 L 570.88 -637.19 L 574.64 -636.04 L 578.40 -634.90 L 578.40 -639.05 L 578.40 -639.05 L 574.64 -640.16 L 570.88 -641.26 L 567.13 -642.38 L 563.37 -643.49 L 559.61 -644.61 L 555.85 -645.74 L 552.09 -646.86 L 548.33 -648.00 L 544.57 -649.13 L 540.81 -650.27 L 537.05 -651.42 L 533.29 -652.56 L 529.53 -653.72 L 525.77 -654.87 L 522.01 -656.03 L 518.25 -657.20 L 514.49 -658.37 L 510.73 -659.54 L 506.97 -660.71 L 503.21 -661.90 L 499.45 -663.08 L 495.69 -664.27 L 491.93 -665.46 L 488.17 -666.66 L 484.41 -667.86 L 480.65 -669.06 L 476.89 -670.27 L 473.13 -671.49 L 469.37 -672.70 L 465.62 -673.93 L 461.86 -675.15 L 458.10 -676.38 L 454.34 -677.61 L 450.58 -678.85 L 446.82 -680.09 L 443.06 -681.34 L 439.30 -682.59 L 435.54 -683.84 L 431.78 -685.10 L 428.02 -686.36 L 424.26 -687.63 L 420.50 -688.90 L 416.74 -690.17 L 412.98 -691.45 L 409.22 -692.73 L 405.46 -694.02 L 401.70 -695.31 L 397.94 -696.60 L 394.18 -697.90 L 390.42 -699.20 L 386.66 -700.51 L 382.90 -701.82 L 379.14 -703.13 L 375.38 -704.45 L 371.62 -705.77 L 367.86 -707.10 L 364.11 -708.43 L 360.35 -709.77 L 356.59 -711.10 z "/></defs><g clip-path="url(#p554a6df7d1)"><use href="#mdbd561e580" x="0" y="902" style="fill: #1f77b4; fill-opacity: 0.25"/></g></g><g><defs><path id="m043b8ddde7" d="M 356.59 -696.15 L 356.59 -683.70 L 360.35 -682.52 L 364.11 -681.34 L 367.86 -680.15 L 371.62 -678.97 L 375.38 -677.79 L 379.14 -676.60 L 382.90 -675.41 L 386.66 -674.23 L 390.42 -673.04 L 394.18 -671.85 L 397.94 -670.66 L 401.70 -669.46 L 405.46 -668.27 L 409.22 -667.07 L 412.98 -665.88 L 416.74 -664.68 L 420.50 -663.48 L 424.26 -662.28 L 428.02 -661.08 L 431.78 -659.88 L 435.54 -658.67 L 439.30 -657.47 L 443.06 -656.26 L 446.82 -655.06 L 450.58 -653.85 L 454.34 -652.64 L 458.10 -651.43 L 461.86 -650.22 L 465.62 -649.00 L 469.37 -647.79 L 473.13 -646.57 L 476.89 -645.36 L 480.65 -644.14 L 484.41 -642.92 L 488.17 -641.70 L 491.93 -640.48 L 495.69 -639.26 L 499.45 -638.03 L 503.21 -636.81 L 506.97 -635.58 L 510.73 -634.36 L 514.49 -633.13 L 518.25 -631.90 L 522.01 -630.67 L 525.77 -629.43 L 529.53 -628.20 L 533.29 -626.97 L 537.05 -625.73 L 540.81 -624.49 L 544.57 -623.26 L 548.33 -622.02 L 552.09 -620.78 L 555.85 -619.53 L 559.61 -618.29 L 563.37 -617.05 L 567.13 -615.80 L 570.88 -614.56 L 574.64 -613.31 L 578.40 -612.06 L 578.40 -622.44 L 578.40 -622.44 L 574.64 -623.66 L 570.88 -624.87 L 567.13 -626.09 L 563.37 -627.31 L 559.61 -628.53 L 555.85 -629.75 L 552.09 -630.97 L 548.33 -632.19 L 544.57 -633.42 L 540.81 -634.64 L 537.05 -635.87 L 533.29 -637.10 L 529.53 -638.33 L 525.77 -639.56 L 522.01 -640.79 L 518.25 -642.02 L 514.49 -643.26 L 510.73 -644.49 L 506.97 -645.73 L 503.21 -646.96 L 499.45 -648.20 L 495.69 -649.44 L 491.93 -650.68 L 488.17 -651.93 L 484.41 -653.17 L 480.65 -654.41 L 476.89 -655.66 L 473.13 -656.91 L 469.37 -658.15 L 465.62 -659.40 L 461.86 -660.65 L 458.10 -661.91 L 454.34 -663.16 L 450.58 -664.41 L 446.82 -665.67 L 443.06 -666.93 L 439.30 -668.18 L 435.54 -669.44 L 431.78 -670.70 L 428.02 -671.96 L 424.26 -673.23 L 420.50 -674.49 L 416.74 -675.75 L 412.98 -677.02 L 409.22 -678.29 L 405.46 -679.56 L 401.70 -680.83 L 397.94 -682.10 L 394.18 -683.37 L 390.42 -684.64 L 386.66 -685.92 L 382.90 -687.19 L 379.14 -688.47 L 375.38 -689.75 L 371.62 -691.03 L 367.86 -692.31 L 364.11 -693.59 L 360.35 -694.87 L 356.59 -696.15 z "/></defs><g clip-path="url(#p554a6df7d1)"><use href="#m043b8ddde7" x="0" y="902" style="fill: #2ca02c; fill-opacity: 0.25"/></g></g><g><use href="#m2c01bbbdb9" x="356.59" y="308.3" style="stroke: #000000; stroke-width: 1.14"/><use href="#m2c01bbbdb9" x="397.99" y="308.3" style="stroke: #000000; stroke-width: 1.14"/><use href="#m2c01bbbdb9" x="424.11" y="308.3" style="stroke: #000000; stroke-width: 1.14"/><use href="#m2c01bbbdb9" x="450.23" y="308.3" style="stroke: #000000; stroke-width: 1.14"/><use href="#m2c01bbbdb9" x="476.35" y="308.3" style="stroke: #000000; stroke-width: 1.14"/><use href="#m2c01bbbdb9" x="502.47" y="308.3" style="stroke: #000000; stroke-width: 1.14"/><use href="#m2c01bbbdb9" x="537.00" y="308.3" style="stroke: #000000; stroke-width: 1.14"/><use href="#m2c01bbbdb9" x="578.40" y="308.3" style="stroke: #000000; stroke-width: 1.14"/><use href="#m645ac34a00" x="348.18" y="308.3" style="stroke: #000000; stroke-width: 0.85"/><use href="#m645ac34a00" x="352.62" y="308.3" style="stroke: #000000; stroke-width: 0.85"/><use href="#m645ac34a00" x="382.71" y="308.3" style="stroke: #000000; stroke-width: 0.85"/><use href="#m645ac34a00" x="408.83" y="308.3" style="stroke: #000000; stroke-width: 0.85"/><use href="#m645ac34a00" x="417.24" y="308.3" style="stroke: #000000; stroke-width: 0.85"/><use href="#m645ac34a00" x="429.92" y="308.3" style="stroke: #000000; stroke-width: 0.85"/><use href="#m645ac34a00" x="434.95" y="308.3" style="stroke: #000000; stroke-width: 0.85"/><use href="#m645ac34a00" x="439.39" y="308.3" style="stroke: #000000; stroke-width: 0.85"/><use href="#m645ac34a00" x="469.48" y="308.3" style="stroke: #000000; stroke-width: 0.85"/><use href="#m645ac34a00" x="484.76" y="308.3" style="stroke: #000000; stroke-width: 0.85"/><use href="#m645ac34a00" x="495.60" y="308.3" style="stroke: #000000; stroke-width: 0.85"/><use href="#m645ac34a00" x="504.01" y="308.3" style="stroke: #000000; stroke-width: 0.85"/><use href="#m645ac34a00" x="510.88" y="308.3" style="stroke: #000000; stroke-width: 0.85"/><use href="#m645ac34a00" x="516.69" y="308.3" style="stroke: #000000; stroke-width: 0.85"/><use href="#m645ac34a00" x="521.72" y="308.3" style="stroke: #000000; stroke-width: 0.85"/><use href="#m645ac34a00" x="526.16" y="308.3" style="stroke: #000000; stroke-width: 0.85"/><use href="#m645ac34a00" x="556.25" y="308.3" style="stroke: #000000; stroke-width: 0.85"/><use href="#m645ac34a00" x="571.53" y="308.3" style="stroke: #000000; stroke-width: 0.85"/><use href="#m645ac34a00" x="582.37" y="308.3" style="stroke: #000000; stroke-width: 0.85"/></g><g><use href="#m370a196e71" x="345.5" y="292.3" style="stroke: #000000; stroke-width: 1.14"/><use href="#m370a196e71" x="345.5" y="246.9" style="stroke: #000000; stroke-width: 1.14"/><use href="#m370a196e71" x="345.5" y="201.5" style="stroke: #000000; stroke-width: 1.14"/><use href="#m23b3c730b1" x="345.5" y="305.96" style="stroke: #000000; stroke-width: 0.85"/><use href="#m23b3c730b1" x="345.5" y="302.37" style="stroke: #000000; stroke-width: 0.85"/><use href="#m23b3c730b1" x="345.5" y="299.33" style="stroke: #000000; stroke-width: 0.85"/><use href="#m23b3c730b1" x="345.5" y="296.69" style="stroke: #000000; stroke-width: 0.85"/><use href="#m23b3c730b1" x="345.5" y="294.37" style="stroke: #000000; stroke-width: 0.85"/><use href="#m23b3c730b1" x="345.5" y="278.63" style="stroke: #000000; stroke-width: 0.85"/><use href="#m23b3c730b1" x="345.5" y="270.63" style="stroke: #000000; stroke-width: 0.85"/><use href="#m23b3c730b1" x="345.5" y="264.96" style="stroke: #000000; stroke-width: 0.85"/><use href="#m23b3c730b1" x="345.5" y="260.56" style="stroke: #000000; stroke-width: 0.85"/><use href="#m23b3c730b1" x="345.5" y="256.97" style="stroke: #000000; stroke-width: 0.85"/><use href="#m23b3c730b1" x="345.5" y="253.93" style="stroke: #000000; stroke-width: 0.85"/><use href="#m23b3c730b1" x="345.5" y="251.29" style="stroke: #000000; stroke-width: 0.85"/><use href="#m23b3c730b1" x="345.5" y="248.97" style="stroke: #000000; stroke-width: 0.85"/><use href="#m23b3c730b1" x="345.5" y="233.23" style="stroke: #000000; stroke-width: 0.85"/><use href="#m23b3c730b1" x="345.5" y="225.23" style="stroke: #000000; stroke-width: 0.85"/><use href="#m23b3c730b1" x="345.5" y="219.56" style="stroke: #000000; stroke-width: 0.85"/><use href="#m23b3c730b1" x="345.5" y="215.16" style="stroke: #000000; stroke-width: 0.85"/><use href="#m23b3c730b1" x="345.5" y="211.57" style="stroke: #000000; stroke-width: 0.85"/><use href="#m23b3c730b1" x="345.5" y="208.53" style="stroke: #000000; stroke-width: 0.85"/><use href="#m23b3c730b1" x="345.5" y="205.89" style="stroke: #000000; stroke-width: 0.85"/><use href="#m23b3c730b1" x="345.5" y="203.57" style="stroke: #000000; stroke-width: 0.85"/><use href="#m23b3c730b1" x="345.5" y="187.83" style="stroke: #000000; stroke-width: 0.85"/></g><g><path d="M 356.59 192.75 L 578.40 265.01 " clip-path="url(#p554a6df7d1)" style="fill: none; stroke: #1f77b4; stroke-width: 1.6; stroke-linecap: square"/></g><g><path d="M 356.59 209.99 L 578.40 284.74 " clip-path="url(#p554a6df7d1)" style="fill: none; stroke: #2ca02c; stroke-width: 1.6; stroke-linecap: square"/></g><g><g clip-path="url(#p554a6df7d1)"><use href="#m92d5d42935" x="356.59" y="199.19" style="fill: #1f77b4; stroke: #1f77b4; stroke-width: 1.3"/><use href="#m92d5d42935" x="382.71" y="201.89" style="fill: #1f77b4; stroke: #1f77b4; stroke-width: 1.3"/><use href="#m92d5d42935" x="397.99" y="203.97" style="fill: #1f77b4; stroke: #1f77b4; stroke-width: 1.3"/><use href="#m92d5d42935" x="408.83" y="206.04" style="fill: #1f77b4; stroke: #1f77b4; stroke-width: 1.3"/><use href="#m92d5d42935" x="424.11" y="208.95" style="fill: #1f77b4; stroke: #1f77b4; stroke-width: 1.3"/><use href="#m92d5d42935" x="434.95" y="211.65" style="fill: #1f77b4; stroke: #1f77b4; stroke-width: 1.3"/><use href="#m92d5d42935" x="443.36" y="214.14" style="fill: #1f77b4; stroke: #1f77b4; stroke-width: 1.3"/><use href="#m92d5d42935" x="450.23" y="216.22" style="fill: #1f77b4; stroke: #1f77b4; stroke-width: 1.3"/><use href="#m92d5d42935" x="465.51" y="222.03" style="fill: #1f77b4; stroke: #1f77b4; stroke-width: 1.3"/><use href="#m92d5d42935" x="476.35" y="226.60" style="fill: #1f77b4; stroke: #1f77b4; stroke-width: 1.3"/><use href="#m92d5d42935" x="502.47" y="237.19" style="fill: #1f77b4; stroke: #1f77b4; stroke-width: 1.3"/><use href="#m92d5d42935" x="517.75" y="242.80" style="fill: #1f77b4; stroke: #1f77b4; stroke-width: 1.3"/><use href="#m92d5d42935" x="528.59" y="246.95" style="fill: #1f77b4; stroke: #1f77b4; stroke-width: 1.3"/><use href="#m92d5d42935" x="537.00" y="250.69" style="fill: #1f77b4; stroke: #1f77b4; stroke-width: 1.3"/><use href="#m92d5d42935" x="543.87" y="253.18" style="fill: #1f77b4; stroke: #1f77b4; stroke-width: 1.3"/><use href="#m92d5d42935" x="554.71" y="255.67" style="fill: #1f77b4; stroke: #1f77b4; stroke-width: 1.3"/><use href="#m92d5d42935" x="563.12" y="258.78" style="fill: #1f77b4; stroke: #1f77b4; stroke-width: 1.3"/><use href="#m92d5d42935" x="569.99" y="260.86" style="fill: #1f77b4; stroke: #1f77b4; stroke-width: 1.3"/><use href="#m92d5d42935" x="578.40" y="263.56" style="fill: #1f77b4; stroke: #1f77b4; stroke-width: 1.3"/></g></g><g><g clip-path="url(#p554a6df7d1)"><use href="#m92d5d42935" x="356.59" y="204.17" style="fill: #1f77b4; stroke: #1f77b4; stroke-width: 1.3"/><use href="#m92d5d42935" x="382.71" y="206.87" style="fill: #1f77b4; stroke: #1f77b4; stroke-width: 1.3"/><use href="#m92d5d42935" x="397.99" y="208.95" style="fill: #1f77b4; stroke: #1f77b4; stroke-width: 1.3"/><use href="#m92d5d42935" x="408.83" y="211.03" style="fill: #1f77b4; stroke: #1f77b4; stroke-width: 1.3"/><use href="#m92d5d42935" x="424.11" y="213.93" style="fill: #1f77b4; stroke: #1f77b4; stroke-width: 1.3"/><use href="#m92d5d42935" x="434.95" y="216.63" style="fill: #1f77b4; stroke: #1f77b4; stroke-width: 1.3"/><use href="#m92d5d42935" x="443.36" y="219.12" style="fill: #1f77b4; stroke: #1f77b4; stroke-width: 1.3"/><use href="#m92d5d42935" x="450.23" y="221.20" style="fill: #1f77b4; stroke: #1f77b4; stroke-width: 1.3"/><use href="#m92d5d42935" x="465.51" y="227.01" style="fill: #1f77b4; stroke: #1f77b4; stroke-width: 1.3"/><use href="#m92d5d42935" x="476.35" y="231.58" style="fill: #1f77b4; stroke: #1f77b4; stroke-width: 1.3"/><use href="#m92d5d42935" x="502.47" y="242.17" style="fill: #1f77b4; stroke: #1f77b4; stroke-width: 1.3"/><use href="#m92d5d42935" x="517.75" y="247.78" style="fill: #1f77b4; stroke: #1f77b4; stroke-width: 1.3"/><use href="#m92d5d42935" x="528.59" y="251.93" style="fill: #1f77b4; stroke: #1f77b4; stroke-width: 1.3"/><use href="#m92d5d42935" x="537.00" y="255.67" style="fill: #1f77b4; stroke: #1f77b4; stroke-width: 1.3"/><use href="#m92d5d42935" x="543.87" y="258.16" style="fill: #1f77b4; stroke: #1f77b4; stroke-width: 1.3"/><use href="#m92d5d42935" x="554.71" y="260.65" style="fill: #1f77b4; stroke: #1f77b4; stroke-width: 1.3"/><use href="#m92d5d42935" x="563.12" y="263.77" style="fill: #1f77b4; stroke: #1f77b4; stroke-width: 1.3"/><use href="#m92d5d42935" x="569.99" y="265.84" style="fill: #1f77b4; stroke: #1f77b4; stroke-width: 1.3"/><use href="#m92d5d42935" x="578.40" y="268.54" style="fill: #1f77b4; stroke: #1f77b4; stroke-width: 1.3"/></g></g><g><g clip-path="url(#p554a6df7d1)"><use href="#m8536452fce" x="356.59" y="215.80" style="fill: #2ca02c; stroke: #2ca02c; stroke-width: 1.3"/><use href="#m8536452fce" x="382.71" y="217.88" style="fill: #2ca02c; stroke: #2ca02c; stroke-width: 1.3"/><use href="#m8536452fce" x="397.99" y="218.71" style="fill: #2ca02c; stroke: #2ca02c; stroke-width: 1.3"/><use href="#m8536452fce" x="408.83" y="220.37" style="fill: #2ca02c; stroke: #2ca02c; stroke-width: 1.3"/><use href="#m8536452fce" x="424.11" y="223.07" style="fill: #2ca02c; stroke: #2ca02c; stroke-width: 1.3"/><use href="#m8536452fce" x="434.95" y="225.77" style="fill: #2ca02c; stroke: #2ca02c; stroke-width: 1.3"/><use href="#m8536452fce" x="443.36" y="228.26" style="fill: #2ca02c; stroke: #2ca02c; stroke-width: 1.3"/><use href="#m8536452fce" x="450.23" y="230.75" style="fill: #2ca02c; stroke: #2ca02c; stroke-width: 1.3"/><use href="#m8536452fce" x="465.51" y="236.57" style="fill: #2ca02c; stroke: #2ca02c; stroke-width: 1.3"/><use href="#m8536452fce" x="476.35" y="241.76" style="fill: #2ca02c; stroke: #2ca02c; stroke-width: 1.3"/><use href="#m8536452fce" x="502.47" y="254.01" style="fill: #2ca02c; stroke: #2ca02c; stroke-width: 1.3"/><use href="#m8536452fce" x="517.75" y="260.24" style="fill: #2ca02c; stroke: #2ca02c; stroke-width: 1.3"/><use href="#m8536452fce" x="528.59" y="264.39" style="fill: #2ca02c; stroke: #2ca02c; stroke-width: 1.3"/><use href="#m8536452fce" x="537.00" y="266.47" style="fill: #2ca02c; stroke: #2ca02c; stroke-width: 1.3"/><use href="#m8536452fce" x="543.87" y="268.13" style="fill: #2ca02c; stroke: #2ca02c; stroke-width: 1.3"/><use href="#m8536452fce" x="554.71" y="272.70" style="fill: #2ca02c; stroke: #2ca02c; stroke-width: 1.3"/><use href="#m8536452fce" x="563.12" y="273.73" style="fill: #2ca02c; stroke: #2ca02c; stroke-width: 1.3"/><use href="#m8536452fce" x="569.99" y="276.43" style="fill: #2ca02c; stroke: #2ca02c; stroke-width: 1.3"/><use href="#m8536452fce" x="578.40" y="279.55" style="fill: #2ca02c; stroke: #2ca02c; stroke-width: 1.3"/></g></g><g><g clip-path="url(#p554a6df7d1)"><use href="#m8536452fce" x="356.59" y="232.41" style="fill: #2ca02c; stroke: #2ca02c; stroke-width: 1.3"/><use href="#m8536452fce" x="382.71" y="231.17" style="fill: #2ca02c; stroke: #2ca02c; stroke-width: 1.3"/><use href="#m8536452fce" x="397.99" y="231.79" style="fill: #2ca02c; stroke: #2ca02c; stroke-width: 1.3"/><use href="#m8536452fce" x="408.83" y="232.83" style="fill: #2ca02c; stroke: #2ca02c; stroke-width: 1.3"/><use href="#m8536452fce" x="424.11" y="235.53" style="fill: #2ca02c; stroke: #2ca02c; stroke-width: 1.3"/><use href="#m8536452fce" x="434.95" y="238.44" style="fill: #2ca02c; stroke: #2ca02c; stroke-width: 1.3"/><use href="#m8536452fce" x="443.36" y="240.10" style="fill: #2ca02c; stroke: #2ca02c; stroke-width: 1.3"/><use href="#m8536452fce" x="450.23" y="241.76" style="fill: #2ca02c; stroke: #2ca02c; stroke-width: 1.3"/><use href="#m8536452fce" x="465.51" y="247.78" style="fill: #2ca02c; stroke: #2ca02c; stroke-width: 1.3"/><use href="#m8536452fce" x="476.35" y="250.89" style="fill: #2ca02c; stroke: #2ca02c; stroke-width: 1.3"/><use href="#m8536452fce" x="502.47" y="264.60" style="fill: #2ca02c; stroke: #2ca02c; stroke-width: 1.3"/><use href="#m8536452fce" x="517.75" y="271.66" style="fill: #2ca02c; stroke: #2ca02c; stroke-width: 1.3"/><use href="#m8536452fce" x="528.59" y="276.02" style="fill: #2ca02c; stroke: #2ca02c; stroke-width: 1.3"/><use href="#m8536452fce" x="537.00" y="278.51" style="fill: #2ca02c; stroke: #2ca02c; stroke-width: 1.3"/><use href="#m8536452fce" x="543.87" y="280.59" style="fill: #2ca02c; stroke: #2ca02c; stroke-width: 1.3"/><use href="#m8536452fce" x="554.71" y="283.29" style="fill: #2ca02c; stroke: #2ca02c; stroke-width: 1.3"/><use href="#m8536452fce" x="563.12" y="286.19" style="fill: #2ca02c; stroke: #2ca02c; stroke-width: 1.3"/><use href="#m8536452fce" x="569.99" y="288.89" style="fill: #2ca02c; stroke: #2ca02c; stroke-width: 1.3"/><use href="#m8536452fce" x="578.40" y="290.97" style="fill: #2ca02c; stroke: #2ca02c; stroke-width: 1.3"/></g></g><g><g clip-path="url(#p554a6df7d1)"><use href="#m392b33b074" x="356.59" y="201.68" style="fill: #1f77b4"/><use href="#m392b33b074" x="382.71" y="204.38" style="fill: #1f77b4"/><use href="#m392b33b074" x="397.99" y="206.46" style="fill: #1f77b4"/><use href="#m392b33b074" x="408.83" y="208.53" style="fill: #1f77b4"/><use href="#m392b33b074" x="424.11" y="211.44" style="fill: #1f77b4"/><use href="#m392b33b074" x="434.95" y="214.14" style="fill: #1f77b4"/><use href="#m392b33b074" x="443.36" y="216.63" style="fill: #1f77b4"/><use href="#m392b33b074" x="450.23" y="218.71" style="fill: #1f77b4"/><use href="#m392b33b074" x="465.51" y="224.52" style="fill: #1f77b4"/><use href="#m392b33b074" x="476.35" y="229.09" style="fill: #1f77b4"/><use href="#m392b33b074" x="502.47" y="239.68" style="fill: #1f77b4"/><use href="#m392b33b074" x="517.75" y="245.29" style="fill: #1f77b4"/><use href="#m392b33b074" x="528.59" y="249.44" style="fill: #1f77b4"/><use href="#m392b33b074" x="537.00" y="253.18" style="fill: #1f77b4"/><use href="#m392b33b074" x="543.87" y="255.67" style="fill: #1f77b4"/><use href="#m392b33b074" x="554.71" y="258.16" style="fill: #1f77b4"/><use href="#m392b33b074" x="563.12" y="261.28" style="fill: #1f77b4"/><use href="#m392b33b074" x="569.99" y="263.35" style="fill: #1f77b4"/><use href="#m392b33b074" x="578.40" y="266.05" style="fill: #1f77b4"/></g></g><g><g clip-path="url(#p554a6df7d1)"><use href="#mb3e0cefdb7" x="356.59" y="222.86" style="fill: #2ca02c"/><use href="#mb3e0cefdb7" x="382.71" y="223.49" style="fill: #2ca02c"/><use href="#mb3e0cefdb7" x="397.99" y="223.90" style="fill: #2ca02c"/><use href="#mb3e0cefdb7" x="408.83" y="225.15" style="fill: #2ca02c"/><use href="#mb3e0cefdb7" x="424.11" y="228.05" style="fill: #2ca02c"/><use href="#mb3e0cefdb7" x="434.95" y="230.75" style="fill: #2ca02c"/><use href="#mb3e0cefdb7" x="443.36" y="233.24" style="fill: #2ca02c"/><use href="#mb3e0cefdb7" x="450.23" y="235.53" style="fill: #2ca02c"/><use href="#mb3e0cefdb7" x="465.51" y="241.76" style="fill: #2ca02c"/><use href="#mb3e0cefdb7" x="476.35" y="245.91" style="fill: #2ca02c"/><use href="#mb3e0cefdb7" x="502.47" y="258.37" style="fill: #2ca02c"/><use href="#mb3e0cefdb7" x="517.75" y="265.01" style="fill: #2ca02c"/><use href="#mb3e0cefdb7" x="528.59" y="268.54" style="fill: #2ca02c"/><use href="#mb3e0cefdb7" x="537.00" y="270.62" style="fill: #2ca02c"/><use href="#mb3e0cefdb7" x="543.87" y="272.70" style="fill: #2ca02c"/><use href="#mb3e0cefdb7" x="554.71" y="276.85" style="fill: #2ca02c"/><use href="#mb3e0cefdb7" x="563.12" y="278.93" style="fill: #2ca02c"/><use href="#mb3e0cefdb7" x="569.99" y="281.62" style="fill: #2ca02c"/><use href="#mb3e0cefdb7" x="578.40" y="284.74" style="fill: #2ca02c"/></g></g><g><path d="M 345.5 308.3 L 345.5 184.5 " style="fill: none; stroke: #000000; stroke-width: 1.14; stroke-linejoin: miter; stroke-linecap: square"/></g><g><path d="M 589.5 308.3 L 589.5 184.5 " style="fill: none; stroke: #000000; stroke-width: 1.14; stroke-linejoin: miter; stroke-linecap: square"/></g><g><path d="M 345.5 308.3 L 589.5 308.3 " style="fill: none; stroke: #000000; stroke-width: 1.14; stroke-linejoin: miter; stroke-linecap: square"/></g><g><path d="M 345.5 184.5 L 589.5 184.5 " style="fill: none; stroke: #000000; stroke-width: 1.14; stroke-linejoin: miter; stroke-linecap: square"/></g><g><text style="font-size: 17.16px; font-family: 'DejaVu Sans', 'Liberation Sans', sans-serif; text-anchor: middle" x="467.5" y="176.82" transform="rotate(-0 467.5 176.82)">Beijing</text></g></g><g><g><path d="M 77.4 471.3 L 321.4 471.3 L 321.4 347.5 L 77.4 347.5 z " style="fill: #ffffff"/></g><g><defs><path id="md75912716e" d="M 88.49 -544.57 L 88.49 -538.35 L 92.25 -537.31 L 96.01 -536.27 L 99.76 -535.23 L 103.52 -534.19 L 107.28 -533.15 L 111.04 -532.10 L 114.80 -531.06 L 118.56 -530.01 L 122.32 -528.96 L 126.08 -527.90 L 129.84 -526.85 L 133.60 -525.79 L 137.36 -524.73 L 141.12 -523.67 L 144.88 -522.61 L 148.64 -521.55 L 152.40 -520.48 L 156.16 -519.41 L 159.92 -518.34 L 163.68 -517.27 L 167.44 -516.20 L 171.20 -515.12 L 174.96 -514.04 L 178.72 -512.96 L 182.48 -511.88 L 186.24 -510.80 L 190.00 -509.71 L 193.76 -508.63 L 197.52 -507.54 L 201.27 -506.45 L 205.03 -505.35 L 208.79 -504.26 L 212.55 -503.16 L 216.31 -502.06 L 220.07 -500.96 L 223.83 -499.86 L 227.59 -498.76 L 231.35 -497.65 L 235.11 -496.54 L 238.87 -495.43 L 242.63 -494.32 L 246.39 -493.21 L 250.15 -492.09 L 253.91 -490.97 L 257.67 -489.85 L 261.43 -488.73 L 265.19 -487.61 L 268.95 -486.48 L 272.71 -485.35 L 276.47 -484.23 L 280.23 -483.09 L 283.99 -481.96 L 287.75 -480.83 L 291.51 -479.69 L 295.27 -478.55 L 299.03 -477.41 L 302.78 -476.27 L 306.54 -475.12 L 310.30 -473.98 L 310.30 -478.13 L 310.30 -478.13 L 306.54 -479.21 L 302.78 -480.30 L 299.03 -481.39 L 295.27 -482.48 L 291.51 -483.57 L 287.75 -484.66 L 283.99 -485.75 L 280.23 -486.85 L 276.47 -487.94 L 272.71 -489.04 L 268.95 -490.14 L 265.19 -491.24 L 261.43 -492.34 L 257.67 -493.45 L 253.91 -494.55 L 250.15 -495.66 L 246.39 -496.76 L 242.63 -497.87 L 238.87 -498.98 L 235.11 -500.10 L 231.35 -501.21 L 227.59 -502.32 L 223.83 -503.44 L 220.07 -504.56 L 216.31 -505.68 L 212.55 -506.80 L 208.79 -507.92 L 205.03 -509.04 L 201.27 -510.17 L 197.52 -511.29 L 193.76 -512.42 L 190.00 -513.55 L 186.24 -514.68 L 182.48 -515.81 L 178.72 -516.94 L 174.96 -518.08 L 171.20 -519.22 L 167.44 -520.35 L 163.68 -521.49 L 159.92 -522.63 L 156.16 -523.78 L 152.40 -524.92 L 148.64 -526.06 L 144.88 -527.21 L 141.12 -528.36 L 137.36 -529.51 L 133.60 -530.66 L 129.84 -531.81 L 126.08 -532.96 L 122.32 -534.12 L 118.56 -535.27 L 114.80 -536.43 L 111.04 -537.59 L 107.28 -538.75 L 103.52 -539.91 L 99.76 -541.08 L 96.01 -542.24 L 92.25 -543.41 L 88.49 -544.57 z "/></defs><g clip-path="url(#p6c016c74ef)"><use href="#md75912716e" x="0" y="902" style="fill: #1f77b4; fill-opacity: 0.25"/></g></g><g><defs><path id="m23f2579cc5" d="M 88.49 -537.31 L 88.49 -522.77 L 92.25 -521.49 L 96.01 -520.21 L 99.76 -518.92 L 103.52 -517.64 L 107.28 -516.36 L 111.04 -515.09 L 114.80 -513.81 L 118.56 -512.53 L 122.32 -511.26 L 126.08 -509.99 L 129.84 -508.71 L 133.60 -507.44 L 137.36 -506.17 L 141.12 -504.91 L 144.88 -503.64 L 148.64 -502.37 L 152.40 -501.11 L 156.16 -499.84 L 159.92 -498.58 L 163.68 -497.32 L 167.44 -496.06 L 171.20 -494.80 L 174.96 -493.54 L 178.72 -492.29 L 182.48 -491.03 L 186.24 -489.78 L 190.00 -488.52 L 193.76 -487.27 L 197.52 -486.02 L 201.27 -484.77 L 205.03 -483.52 L 208.79 -482.28 L 212.55 -481.03 L 216.31 -479.79 L 220.07 -478.54 L 223.83 -477.30 L 227.59 -476.06 L 231.35 -474.82 L 235.11 -473.58 L 238.87 -472.34 L 242.63 -471.11 L 246.39 -469.87 L 250.15 -468.64 L 253.91 -467.41 L 257.67 -466.18 L 261.43 -464.94 L 265.19 -463.72 L 268.95 -462.49 L 272.71 -461.26 L 276.47 -460.04 L 280.23 -458.81 L 283.99 -457.59 L 287.75 -456.37 L 291.51 -455.15 L 295.27 -453.93 L 299.03 -452.71 L 302.78 -451.49 L 306.54 -450.27 L 310.30 -449.06 L 310.30 -460.06 L 310.30 -460.06 L 306.54 -461.28 L 302.78 -462.49 L 299.03 -463.71 L 295.27 -464.93 L 291.51 -466.16 L 287.75 -467.39 L 283.99 -468.62 L 280.23 -469.86 L 276.47 -471.10 L 272.71 -472.34 L 268.95 -473.58 L 265.19 -474.83 L 261.43 -476.09 L 257.67 -477.34 L 253.91 -478.60 L 250.15 -479.86 L 246.39 -481.13 L 242.63 -482.40 L 238.87 -483.67 L 235.11 -484.95 L 231.35 -486.23 L 227.59 -487.51 L 223.83 -488.79 L 220.07 -490.08 L 216.31 -491.37 L 212.55 -492.67 L 208.79 -493.97 L 205.03 -495.27 L 201.27 -496.58 L 197.52 -497.89 L 193.76 -499.20 L 190.00 -500.52 L 186.24 -501.84 L 182.48 -503.16 L 178.72 -504.48 L 174.96 -505.81 L 171.20 -507.15 L 167.44 -508.48 L 163.68 -509.82 L 159.92 -511.16 L 156.16 -512.51 L 152.40 -513.86 L 148.64 -515.21 L 144.88 -516.57 L 141.12 -517.93 L 137.36 -519.29 L 133.60 -520.65 L 129.84 -522.02 L 126.08 -523.40 L 122.32 -524.77 L 118.56 -526.15 L 114.80 -527.53 L 111.04 -528.92 L 107.28 -530.31 L 103.52 -531.70 L 99.76 -533.10 L 96.01 -534.50 L 92.25 -535.90 L 88.49 -537.31 z "/></defs><g clip-path="url(#p6c016c74ef)"><use href="#m23f2579cc5" x="0" y="902" style="fill: #2ca02c; fill-opacity: 0.25"/></g></g><g><use href="#m2c01bbbdb9" x="88.49" y="471.3" style="stroke: #000000; stroke-width: 1.14"/><use href="#m2c01bbbdb9" x="129.89" y="471.3" style="stroke: #000000; stroke-width: 1.14"/><use href="#m2c01bbbdb9" x="156.01" y="471.3" style="stroke: #000000; stroke-width: 1.14"/><use href="#m2c01bbbdb9" x="182.13" y="471.3" style="stroke: #000000; stroke-width: 1.14"/><use href="#m2c01bbbdb9" x="208.25" y="471.3" style="stroke: #000000; stroke-width: 1.14"/><use href="#m2c01bbbdb9" x="234.37" y="471.3" style="stroke: #000000; stroke-width: 1.14"/><use href="#m2c01bbbdb9" x="268.90" y="471.3" style="stroke: #000000; stroke-width: 1.14"/><use href="#m2c01bbbdb9" x="310.30" y="471.3" style="stroke: #000000; stroke-width: 1.14"/><use href="#m645ac34a00" x="80.08" y="471.3" style="stroke: #000000; stroke-width: 0.85"/><use href="#m645ac34a00" x="84.52" y="471.3" style="stroke: #000000; stroke-width: 0.85"/><use href="#m645ac34a00" x="114.61" y="471.3" style="stroke: #000000; stroke-width: 0.85"/><use href="#m645ac34a00" x="140.73" y="471.3" style="stroke: #000000; stroke-width: 0.85"/><use href="#m645ac34a00" x="149.14" y="471.3" style="stroke: #000000; stroke-width: 0.85"/><use href="#m645ac34a00" x="161.82" y="471.3" style="stroke: #000000; stroke-width: 0.85"/><use href="#m645ac34a00" x="166.85" y="471.3" style="stroke: #000000; stroke-width: 0.85"/><use href="#m645ac34a00" x="171.29" y="471.3" style="stroke: #000000; stroke-width: 0.85"/><use href="#m645ac34a00" x="201.38" y="471.3" style="stroke: #000000; stroke-width: 0.85"/><use href="#m645ac34a00" x="216.66" y="471.3" style="stroke: #000000; stroke-width: 0.85"/><use href="#m645ac34a00" x="227.50" y="471.3" style="stroke: #000000; stroke-width: 0.85"/><use href="#m645ac34a00" x="235.91" y="471.3" style="stroke: #000000; stroke-width: 0.85"/><use href="#m645ac34a00" x="242.78" y="471.3" style="stroke: #000000; stroke-width: 0.85"/><use href="#m645ac34a00" x="248.59" y="471.3" style="stroke: #000000; stroke-width: 0.85"/><use href="#m645ac34a00" x="253.62" y="471.3" style="stroke: #000000; stroke-width: 0.85"/><use href="#m645ac34a00" x="258.06" y="471.3" style="stroke: #000000; stroke-width: 0.85"/><use href="#m645ac34a00" x="288.15" y="471.3" style="stroke: #000000; stroke-width: 0.85"/><use href="#m645ac34a00" x="303.43" y="471.3" style="stroke: #000000; stroke-width: 0.85"/><use href="#m645ac34a00" x="314.27" y="471.3" style="stroke: #000000; stroke-width: 0.85"/></g><g><g><g><g><use href="#m370a196e71" x="77.4" y="455.3" style="stroke: #000000; stroke-width: 1.14"/></g></g><g><g transform="translate(33.78 461.73)"><text><tspan x="0" y="-0.49" style="font-size: 14.3px; font-family: 'DejaVu Sans', 'Liberation Sans', sans-serif">1</tspan><tspan x="9.06" y="-0.49" style="font-size: 14.3px; font-family: 'DejaVu Sans', 'Liberation Sans', sans-serif">0</tspan><tspan x="18.26" y="-5.85" style="font-size: 10.01px; font-family: 'DejaVu Sans', 'Liberation Sans', sans-serif">−</tspan><tspan x="26.62" y="-5.85" style="font-size: 10.01px; font-family: 'DejaVu Sans', 'Liberation Sans', sans-serif">1</tspan></text></g></g></g><g><g><g><use href="#m370a196e71" x="77.4" y="409.9" style="stroke: #000000; stroke-width: 1.14"/></g></g><g><g transform="translate(42.22 416.33)"><text><tspan x="0" y="-0.36" style="font-size: 14.3px; font-family: 'DejaVu Sans', 'Liberation Sans', sans-serif">1</tspan><tspan x="9.06" y="-0.36" style="font-size: 14.3px; font-family: 'DejaVu Sans', 'Liberation Sans', sans-serif">0</tspan><tspan x="18.26" y="-5.72" style="font-size: 10.01px; font-family: 'DejaVu Sans', 'Liberation Sans', sans-serif">0</tspan></text></g></g></g><g><g><g><use href="#m370a196e71" x="77.4" y="364.5" style="stroke: #000000; stroke-width: 1.14"/></g></g><g><g transform="translate(42.22 370.93)"><text><tspan x="0" y="-0.49" style="font-size: 14.3px; font-family: 'DejaVu Sans', 'Liberation Sans', sans-serif">1</tspan><tspan x="9.06" y="-0.49" style="font-size: 14.3px; font-family: 'DejaVu Sans', 'Liberation Sans', sans-serif">0</tspan><tspan x="18.26" y="-5.85" style="font-size: 10.01px; font-family: 'DejaVu Sans', 'Liberation Sans', sans-serif">1</tspan></text></g></g></g><use href="#m23b3c730b1" x="77.4" y="468.96" style="stroke: #000000; stroke-width: 0.85"/><use href="#m23b3c730b1" x="77.4" y="465.37" style="stroke: #000000; stroke-width: 0.85"/><use href="#m23b3c730b1" x="77.4" y="462.33" style="stroke: #000000; stroke-width: 0.85"/><use href="#m23b3c730b1" x="77.4" y="459.69" style="stroke: #000000; stroke-width: 0.85"/><use href="#m23b3c730b1" x="77.4" y="457.37" style="stroke: #000000; stroke-width: 0.85"/><use href="#m23b3c730b1" x="77.4" y="441.63" style="stroke: #000000; stroke-width: 0.85"/><use href="#m23b3c730b1" x="77.4" y="433.63" style="stroke: #000000; stroke-width: 0.85"/><use href="#m23b3c730b1" x="77.4" y="427.96" style="stroke: #000000; stroke-width: 0.85"/><use href="#m23b3c730b1" x="77.4" y="423.56" style="stroke: #000000; stroke-width: 0.85"/><use href="#m23b3c730b1" x="77.4" y="419.97" style="stroke: #000000; stroke-width: 0.85"/><use href="#m23b3c730b1" x="77.4" y="416.93" style="stroke: #000000; stroke-width: 0.85"/><use href="#m23b3c730b1" x="77.4" y="414.29" style="stroke: #000000; stroke-width: 0.85"/><use href="#m23b3c730b1" x="77.4" y="411.97" style="stroke: #000000; stroke-width: 0.85"/><use href="#m23b3c730b1" x="77.4" y="396.23" style="stroke: #000000; stroke-width: 0.85"/><use href="#m23b3c730b1" x="77.4" y="388.23" style="stroke: #000000; stroke-width: 0.85"/><use href="#m23b3c730b1" x="77.4" y="382.56" style="stroke: #000000; stroke-width: 0.85"/><use href="#m23b3c730b1" x="77.4" y="378.16" style="stroke: #000000; stroke-width: 0.85"/><use href="#m23b3c730b1" x="77.4" y="374.57" style="stroke: #000000; stroke-width: 0.85"/><use href="#m23b3c730b1" x="77.4" y="371.53" style="stroke: #000000; stroke-width: 0.85"/><use href="#m23b3c730b1" x="77.4" y="368.89" style="stroke: #000000; stroke-width: 0.85"/><use href="#m23b3c730b1" x="77.4" y="366.57" style="stroke: #000000; stroke-width: 0.85"/><use href="#m23b3c730b1" x="77.4" y="350.83" style="stroke: #000000; stroke-width: 0.85"/><g><g transform="translate(22.86 450.87) rotate(-90)"><text><tspan x="0" y="-0.35" style="font-style: oblique; font-size: 14.3px; font-family: 'DejaVu Sans', 'Liberation Sans', sans-serif">μ</tspan><tspan x="16.37" y="-0.35" style="font-style: oblique; font-size: 14.3px; font-family: 'DejaVu Sans', 'Liberation Sans', sans-serif">σ</tspan><tspan x="9.06" y="-0.35" style="font-size: 14.3px; font-family: 'DejaVu Sans', 'Liberation Sans', sans-serif">,</tspan><tspan x="25.40" y="-0.35" style="font-size: 14.3px; font-family: 'DejaVu Sans', 'Liberation Sans', sans-serif"></tspan><tspan x="29.93" y="-0.35" style="font-size: 14.3px; font-family: 'DejaVu Sans', 'Liberation Sans', sans-serif">(</tspan><tspan x="35.49" y="-0.35" style="font-size: 14.3px; font-family: 'DejaVu Sans', 'Liberation Sans', sans-serif">m</tspan><tspan x="49.37" y="-0.35" style="font-size: 14.3px; font-family: 'DejaVu Sans', 'Liberation Sans', sans-serif">m</tspan><tspan x="63.25" y="-0.35" style="font-size: 14.3px; font-family: 'DejaVu Sans', 'Liberation Sans', sans-serif">/</tspan><tspan x="68.05" y="-0.35" style="font-size: 14.3px; font-family: 'DejaVu Sans', 'Liberation Sans', sans-serif">h</tspan><tspan x="77.08" y="-0.35" style="font-size: 14.3px; font-family: 'DejaVu Sans', 'Liberation Sans', sans-serif">)</tspan></text></g></g></g><g><path d="M 88.49 360.53 L 310.30 425.94 " clip-path="url(#p6c016c74ef)" style="fill: none; stroke: #1f77b4; stroke-width: 1.6; stroke-linecap: square"/></g><g><path d="M 88.49 368.84 L 310.30 446.70 " clip-path="url(#p6c016c74ef)" style="fill: none; stroke: #2ca02c; stroke-width: 1.6; stroke-linecap: square"/></g><g><g clip-path="url(#p6c016c74ef)"><use href="#m92d5d42935" x="88.49" y="363.44" style="fill: #1f77b4; stroke: #1f77b4; stroke-width: 1.3"/><use href="#m92d5d42935" x="114.61" y="366.14" style="fill: #1f77b4; stroke: #1f77b4; stroke-width: 1.3"/><use href="#m92d5d42935" x="129.89" y="369.25" style="fill: #1f77b4; stroke: #1f77b4; stroke-width: 1.3"/><use href="#m92d5d42935" x="140.73" y="371.74" style="fill: #1f77b4; stroke: #1f77b4; stroke-width: 1.3"/><use href="#m92d5d42935" x="156.01" y="375.48" style="fill: #1f77b4; stroke: #1f77b4; stroke-width: 1.3"/><use href="#m92d5d42935" x="166.85" y="379.01" style="fill: #1f77b4; stroke: #1f77b4; stroke-width: 1.3"/><use href="#m92d5d42935" x="175.26" y="381.29" style="fill: #1f77b4; stroke: #1f77b4; stroke-width: 1.3"/><use href="#m92d5d42935" x="182.13" y="382.75" style="fill: #1f77b4; stroke: #1f77b4; stroke-width: 1.3"/><use href="#m92d5d42935" x="197.41" y="387.52" style="fill: #1f77b4; stroke: #1f77b4; stroke-width: 1.3"/><use href="#m92d5d42935" x="208.25" y="392.09" style="fill: #1f77b4; stroke: #1f77b4; stroke-width: 1.3"/><use href="#m92d5d42935" x="234.37" y="398.94" style="fill: #1f77b4; stroke: #1f77b4; stroke-width: 1.3"/><use href="#m92d5d42935" x="249.65" y="404.13" style="fill: #1f77b4; stroke: #1f77b4; stroke-width: 1.3"/><use href="#m92d5d42935" x="260.49" y="408.29" style="fill: #1f77b4; stroke: #1f77b4; stroke-width: 1.3"/><use href="#m92d5d42935" x="268.90" y="411.19" style="fill: #1f77b4; stroke: #1f77b4; stroke-width: 1.3"/><use href="#m92d5d42935" x="275.77" y="413.48" style="fill: #1f77b4; stroke: #1f77b4; stroke-width: 1.3"/><use href="#m92d5d42935" x="286.61" y="416.39" style="fill: #1f77b4; stroke: #1f77b4; stroke-width: 1.3"/><use href="#m92d5d42935" x="295.02" y="418.46" style="fill: #1f77b4; stroke: #1f77b4; stroke-width: 1.3"/><use href="#m92d5d42935" x="301.89" y="420.54" style="fill: #1f77b4; stroke: #1f77b4; stroke-width: 1.3"/><use href="#m92d5d42935" x="310.30" y="422.20" style="fill: #1f77b4; stroke: #1f77b4; stroke-width: 1.3"/></g></g><g><g clip-path="url(#p6c016c74ef)"><use href="#m92d5d42935" x="88.49" y="368.84" style="fill: #1f77b4; stroke: #1f77b4; stroke-width: 1.3"/><use href="#m92d5d42935" x="114.61" y="371.53" style="fill: #1f77b4; stroke: #1f77b4; stroke-width: 1.3"/><use href="#m92d5d42935" x="129.89" y="374.65" style="fill: #1f77b4; stroke: #1f77b4; stroke-width: 1.3"/><use href="#m92d5d42935" x="140.73" y="377.14" style="fill: #1f77b4; stroke: #1f77b4; stroke-width: 1.3"/><use href="#m92d5d42935" x="156.01" y="380.88" style="fill: #1f77b4; stroke: #1f77b4; stroke-width: 1.3"/><use href="#m92d5d42935" x="166.85" y="384.41" style="fill: #1f77b4; stroke: #1f77b4; stroke-width: 1.3"/><use href="#m92d5d42935" x="175.26" y="386.69" style="fill: #1f77b4; stroke: #1f77b4; stroke-width: 1.3"/><use href="#m92d5d42935" x="182.13" y="388.15" style="fill: #1f77b4; stroke: #1f77b4; stroke-width: 1.3"/><use href="#m92d5d42935" x="197.41" y="392.92" style="fill: #1f77b4; stroke: #1f77b4; stroke-width: 1.3"/><use href="#m92d5d42935" x="208.25" y="397.49" style="fill: #1f77b4; stroke: #1f77b4; stroke-width: 1.3"/><use href="#m92d5d42935" x="234.37" y="404.34" style="fill: #1f77b4; stroke: #1f77b4; stroke-width: 1.3"/><use href="#m92d5d42935" x="249.65" y="409.53" style="fill: #1f77b4; stroke: #1f77b4; stroke-width: 1.3"/><use href="#m92d5d42935" x="260.49" y="413.69" style="fill: #1f77b4; stroke: #1f77b4; stroke-width: 1.3"/><use href="#m92d5d42935" x="268.90" y="416.59" style="fill: #1f77b4; stroke: #1f77b4; stroke-width: 1.3"/><use href="#m92d5d42935" x="275.77" y="418.88" style="fill: #1f77b4; stroke: #1f77b4; stroke-width: 1.3"/><use href="#m92d5d42935" x="286.61" y="421.78" style="fill: #1f77b4; stroke: #1f77b4; stroke-width: 1.3"/><use href="#m92d5d42935" x="295.02" y="423.86" style="fill: #1f77b4; stroke: #1f77b4; stroke-width: 1.3"/><use href="#m92d5d42935" x="301.89" y="425.94" style="fill: #1f77b4; stroke: #1f77b4; stroke-width: 1.3"/><use href="#m92d5d42935" x="310.30" y="427.60" style="fill: #1f77b4; stroke: #1f77b4; stroke-width: 1.3"/></g></g><g><g clip-path="url(#p6c016c74ef)"><use href="#m8536452fce" x="88.49" y="378.18" style="fill: #2ca02c; stroke: #2ca02c; stroke-width: 1.3"/><use href="#m8536452fce" x="114.61" y="375.69" style="fill: #2ca02c; stroke: #2ca02c; stroke-width: 1.3"/><use href="#m8536452fce" x="129.89" y="378.59" style="fill: #2ca02c; stroke: #2ca02c; stroke-width: 1.3"/><use href="#m8536452fce" x="140.73" y="379.22" style="fill: #2ca02c; stroke: #2ca02c; stroke-width: 1.3"/><use href="#m8536452fce" x="156.01" y="381.71" style="fill: #2ca02c; stroke: #2ca02c; stroke-width: 1.3"/><use href="#m8536452fce" x="166.85" y="381.29" style="fill: #2ca02c; stroke: #2ca02c; stroke-width: 1.3"/><use href="#m8536452fce" x="175.26" y="387.11" style="fill: #2ca02c; stroke: #2ca02c; stroke-width: 1.3"/><use href="#m8536452fce" x="182.13" y="390.01" style="fill: #2ca02c; stroke: #2ca02c; stroke-width: 1.3"/><use href="#m8536452fce" x="197.41" y="397.28" style="fill: #2ca02c; stroke: #2ca02c; stroke-width: 1.3"/><use href="#m8536452fce" x="208.25" y="402.06" style="fill: #2ca02c; stroke: #2ca02c; stroke-width: 1.3"/><use href="#m8536452fce" x="234.37" y="413.69" style="fill: #2ca02c; stroke: #2ca02c; stroke-width: 1.3"/><use href="#m8536452fce" x="249.65" y="420.12" style="fill: #2ca02c; stroke: #2ca02c; stroke-width: 1.3"/><use href="#m8536452fce" x="260.49" y="424.90" style="fill: #2ca02c; stroke: #2ca02c; stroke-width: 1.3"/><use href="#m8536452fce" x="268.90" y="429.05" style="fill: #2ca02c; stroke: #2ca02c; stroke-width: 1.3"/><use href="#m8536452fce" x="275.77" y="432.79" style="fill: #2ca02c; stroke: #2ca02c; stroke-width: 1.3"/><use href="#m8536452fce" x="286.61" y="437.36" style="fill: #2ca02c; stroke: #2ca02c; stroke-width: 1.3"/><use href="#m8536452fce" x="295.02" y="439.85" style="fill: #2ca02c; stroke: #2ca02c; stroke-width: 1.3"/><use href="#m8536452fce" x="301.89" y="441.93" style="fill: #2ca02c; stroke: #2ca02c; stroke-width: 1.3"/><use href="#m8536452fce" x="310.30" y="445.25" style="fill: #2ca02c; stroke: #2ca02c; stroke-width: 1.3"/></g></g><g><g clip-path="url(#p6c016c74ef)"><use href="#m8536452fce" x="88.49" y="390.22" style="fill: #2ca02c; stroke: #2ca02c; stroke-width: 1.3"/><use href="#m8536452fce" x="114.61" y="391.05" style="fill: #2ca02c; stroke: #2ca02c; stroke-width: 1.3"/><use href="#m8536452fce" x="129.89" y="391.68" style="fill: #2ca02c; stroke: #2ca02c; stroke-width: 1.3"/><use href="#m8536452fce" x="140.73" y="393.13" style="fill: #2ca02c; stroke: #2ca02c; stroke-width: 1.3"/><use href="#m8536452fce" x="156.01" y="396.45" style="fill: #2ca02c; stroke: #2ca02c; stroke-width: 1.3"/><use href="#m8536452fce" x="166.85" y="399.98" style="fill: #2ca02c; stroke: #2ca02c; stroke-width: 1.3"/><use href="#m8536452fce" x="175.26" y="403.10" style="fill: #2ca02c; stroke: #2ca02c; stroke-width: 1.3"/><use href="#m8536452fce" x="182.13" y="406.21" style="fill: #2ca02c; stroke: #2ca02c; stroke-width: 1.3"/><use href="#m8536452fce" x="197.41" y="412.44" style="fill: #2ca02c; stroke: #2ca02c; stroke-width: 1.3"/><use href="#m8536452fce" x="208.25" y="415.55" style="fill: #2ca02c; stroke: #2ca02c; stroke-width: 1.3"/><use href="#m8536452fce" x="234.37" y="425.52" style="fill: #2ca02c; stroke: #2ca02c; stroke-width: 1.3"/><use href="#m8536452fce" x="249.65" y="432.17" style="fill: #2ca02c; stroke: #2ca02c; stroke-width: 1.3"/><use href="#m8536452fce" x="260.49" y="437.98" style="fill: #2ca02c; stroke: #2ca02c; stroke-width: 1.3"/><use href="#m8536452fce" x="268.90" y="442.13" style="fill: #2ca02c; stroke: #2ca02c; stroke-width: 1.3"/><use href="#m8536452fce" x="275.77" y="445.66" style="fill: #2ca02c; stroke: #2ca02c; stroke-width: 1.3"/><use href="#m8536452fce" x="286.61" y="449.40" style="fill: #2ca02c; stroke: #2ca02c; stroke-width: 1.3"/><use href="#m8536452fce" x="295.02" y="451.48" style="fill: #2ca02c; stroke: #2ca02c; stroke-width: 1.3"/><use href="#m8536452fce" x="301.89" y="453.55" style="fill: #2ca02c; stroke: #2ca02c; stroke-width: 1.3"/><use href="#m8536452fce" x="310.30" y="456.46" style="fill: #2ca02c; stroke: #2ca02c; stroke-width: 1.3"/></g></g><g><g clip-path="url(#p6c016c74ef)"><use href="#m392b33b074" x="88.49" y="366.14" style="fill: #1f77b4"/><use href="#m392b33b074" x="114.61" y="368.84" style="fill: #1f77b4"/><use href="#m392b33b074" x="129.89" y="371.95" style="fill: #1f77b4"/><use href="#m392b33b074" x="140.73" y="374.44" style="fill: #1f77b4"/><use href="#m392b33b074" x="156.01" y="378.18" style="fill: #1f77b4"/><use href="#m392b33b074" x="166.85" y="381.71" style="fill: #1f77b4"/><use href="#m392b33b074" x="175.26" y="383.99" style="fill: #1f77b4"/><use href="#m392b33b074" x="182.13" y="385.45" style="fill: #1f77b4"/><use href="#m392b33b074" x="197.41" y="390.22" style="fill: #1f77b4"/><use href="#m392b33b074" x="208.25" y="394.79" style="fill: #1f77b4"/><use href="#m392b33b074" x="234.37" y="401.64" style="fill: #1f77b4"/><use href="#m392b33b074" x="249.65" y="406.83" style="fill: #1f77b4"/><use href="#m392b33b074" x="260.49" y="410.99" style="fill: #1f77b4"/><use href="#m392b33b074" x="268.90" y="413.89" style="fill: #1f77b4"/><use href="#m392b33b074" x="275.77" y="416.18" style="fill: #1f77b4"/><use href="#m392b33b074" x="286.61" y="419.08" style="fill: #1f77b4"/><use href="#m392b33b074" x="295.02" y="421.16" style="fill: #1f77b4"/><use href="#m392b33b074" x="301.89" y="423.24" style="fill: #1f77b4"/><use href="#m392b33b074" x="310.30" y="424.90" style="fill: #1f77b4"/></g></g><g><g clip-path="url(#p6c016c74ef)"><use href="#mb3e0cefdb7" x="88.49" y="382.96" style="fill: #2ca02c"/><use href="#mb3e0cefdb7" x="114.61" y="383.37" style="fill: #2ca02c"/><use href="#mb3e0cefdb7" x="129.89" y="383.79" style="fill: #2ca02c"/><use href="#mb3e0cefdb7" x="140.73" y="384.82" style="fill: #2ca02c"/><use href="#mb3e0cefdb7" x="156.01" y="388.15" style="fill: #2ca02c"/><use href="#mb3e0cefdb7" x="166.85" y="390.64" style="fill: #2ca02c"/><use href="#mb3e0cefdb7" x="175.26" y="393.96" style="fill: #2ca02c"/><use href="#mb3e0cefdb7" x="182.13" y="396.87" style="fill: #2ca02c"/><use href="#mb3e0cefdb7" x="197.41" y="403.51" style="fill: #2ca02c"/><use href="#mb3e0cefdb7" x="208.25" y="407.46" style="fill: #2ca02c"/><use href="#mb3e0cefdb7" x="234.37" y="418.67" style="fill: #2ca02c"/><use href="#mb3e0cefdb7" x="249.65" y="424.90" style="fill: #2ca02c"/><use href="#mb3e0cefdb7" x="260.49" y="430.09" style="fill: #2ca02c"/><use href="#mb3e0cefdb7" x="268.90" y="434.24" style="fill: #2ca02c"/><use href="#mb3e0cefdb7" x="275.77" y="437.36" style="fill: #2ca02c"/><use href="#mb3e0cefdb7" x="286.61" y="441.93" style="fill: #2ca02c"/><use href="#mb3e0cefdb7" x="295.02" y="444.62" style="fill: #2ca02c"/><use href="#mb3e0cefdb7" x="301.89" y="446.70" style="fill: #2ca02c"/><use href="#mb3e0cefdb7" x="310.30" y="450.44" style="fill: #2ca02c"/></g></g><g><path d="M 77.4 471.3 L 77.4 347.5 " style="fill: none; stroke: #000000; stroke-width: 1.14; stroke-linejoin: miter; stroke-linecap: square"/></g><g><path d="M 321.4 471.3 L 321.4 347.5 " style="fill: none; stroke: #000000; stroke-width: 1.14; stroke-linejoin: miter; stroke-linecap: square"/></g><g><path d="M 77.4 471.3 L 321.4 471.3 " style="fill: none; stroke: #000000; stroke-width: 1.14; stroke-linejoin: miter; stroke-linecap: square"/></g><g><path d="M 77.4 347.5 L 321.4 347.5 " style="fill: none; stroke: #000000; stroke-width: 1.14; stroke-linejoin: miter; stroke-linecap: square"/></g><g><text style="font-size: 17.16px; font-family: 'DejaVu Sans', 'Liberation Sans', sans-serif; text-anchor: middle" x="199.4" y="339.82" transform="rotate(-0 199.4 339.82)">New Delhi</text></g></g><g><g><path d="M 345.5 471.3 L 589.5 471.3 L 589.5 347.5 L 345.5 347.5 z " style="fill: #ffffff"/></g><g><defs><path id="mb0dd748820" d="M 356.59 -540.42 L 356.59 -534.19 L 360.35 -532.94 L 364.11 -531.68 L 367.86 -530.42 L 371.62 -529.16 L 375.38 -527.90 L 379.14 -526.64 L 382.90 -525.38 L 386.66 -524.12 L 390.42 -522.86 L 394.18 -521.59 L 397.94 -520.33 L 401.70 -519.06 L 405.46 -517.80 L 409.22 -516.53 L 412.98 -515.27 L 416.74 -514.00 L 420.50 -512.73 L 424.26 -511.46 L 428.02 -510.19 L 431.78 -508.92 L 435.54 -507.65 L 439.30 -506.38 L 443.06 -505.11 L 446.82 -503.83 L 450.58 -502.56 L 454.34 -501.28 L 458.10 -500.01 L 461.86 -498.73 L 465.62 -497.46 L 469.37 -496.18 L 473.13 -494.90 L 476.89 -493.62 L 480.65 -492.34 L 484.41 -491.06 L 488.17 -489.78 L 491.93 -488.50 L 495.69 -487.22 L 499.45 -485.93 L 503.21 -484.65 L 506.97 -483.36 L 510.73 -482.08 L 514.49 -480.79 L 518.25 -479.51 L 522.01 -478.22 L 525.77 -476.93 L 529.53 -475.64 L 533.29 -474.35 L 537.05 -473.06 L 540.81 -471.77 L 544.57 -470.48 L 548.33 -469.19 L 552.09 -467.89 L 555.85 -466.60 L 559.61 -465.30 L 563.37 -464.01 L 567.13 -462.71 L 570.88 -461.41 L 574.64 -460.12 L 578.40 -458.82 L 578.40 -462.97 L 578.40 -462.97 L 574.64 -464.24 L 570.88 -465.50 L 567.13 -466.77 L 563.37 -468.04 L 559.61 -469.31 L 555.85 -470.58 L 552.09 -471.86 L 548.33 -473.13 L 544.57 -474.41 L 540.81 -475.69 L 537.05 -476.97 L 533.29 -478.25 L 529.53 -479.54 L 525.77 -480.82 L 522.01 -482.11 L 518.25 -483.40 L 514.49 -484.69 L 510.73 -485.98 L 506.97 -487.28 L 503.21 -488.57 L 499.45 -489.87 L 495.69 -491.17 L 491.93 -492.47 L 488.17 -493.78 L 484.41 -495.08 L 480.65 -496.39 L 476.89 -497.69 L 473.13 -499.00 L 469.37 -500.31 L 465.62 -501.63 L 461.86 -502.94 L 458.10 -504.26 L 454.34 -505.57 L 450.58 -506.89 L 446.82 -508.22 L 443.06 -509.54 L 439.30 -510.86 L 435.54 -512.19 L 431.78 -513.52 L 428.02 -514.85 L 424.26 -516.18 L 420.50 -517.51 L 416.74 -518.84 L 412.98 -520.18 L 409.22 -521.52 L 405.46 -522.86 L 401.70 -524.20 L 397.94 -525.54 L 394.18 -526.89 L 390.42 -528.23 L 386.66 -529.58 L 382.90 -530.93 L 379.14 -532.28 L 375.38 -533.63 L 371.62 -534.99 L 367.86 -536.34 L 364.11 -537.70 L 360.35 -539.06 L 356.59 -540.42 z "/></defs><g clip-path="url(#p555539c6d3)"><use href="#mb0dd748820" x="0" y="902" style="fill: #1f77b4; fill-opacity: 0.25"/></g></g><g><defs><path id="m52dea821ff" d="M 356.59 -532.74 L 356.59 -513.43 L 360.35 -512.23 L 364.11 -511.03 L 367.86 -509.83 L 371.62 -508.62 L 375.38 -507.42 L 379.14 -506.21 L 382.90 -504.99 L 386.66 -503.78 L 390.42 -502.56 L 394.18 -501.34 L 397.94 -500.12 L 401.70 -498.90 L 405.46 -497.67 L 409.22 -496.44 L 412.98 -495.21 L 416.74 -493.98 L 420.50 -492.74 L 424.26 -491.50 L 428.02 -490.26 L 431.78 -489.02 L 435.54 -487.77 L 439.30 -486.53 L 443.06 -485.28 L 446.82 -484.02 L 450.58 -482.77 L 454.34 -481.51 L 458.10 -480.25 L 461.86 -478.99 L 465.62 -477.72 L 469.37 -476.46 L 473.13 -475.19 L 476.89 -473.92 L 480.65 -472.64 L 484.41 -471.37 L 488.17 -470.09 L 491.93 -468.81 L 495.69 -467.52 L 499.45 -466.24 L 503.21 -464.95 L 506.97 -463.66 L 510.73 -462.36 L 514.49 -461.07 L 518.25 -459.77 L 522.01 -458.47 L 525.77 -457.17 L 529.53 -455.86 L 533.29 -454.55 L 537.05 -453.24 L 540.81 -451.93 L 544.57 -450.62 L 548.33 -449.30 L 552.09 -447.98 L 555.85 -446.66 L 559.61 -445.33 L 563.37 -444.01 L 567.13 -442.68 L 570.88 -441.35 L 574.64 -440.01 L 578.40 -438.68 L 578.40 -446.98 L 578.40 -446.98 L 574.64 -448.42 L 570.88 -449.85 L 567.13 -451.28 L 563.37 -452.72 L 559.61 -454.15 L 555.85 -455.59 L 552.09 -457.03 L 548.33 -458.47 L 544.57 -459.90 L 540.81 -461.34 L 537.05 -462.78 L 533.29 -464.22 L 529.53 -465.66 L 525.77 -467.11 L 522.01 -468.55 L 518.25 -469.99 L 514.49 -471.44 L 510.73 -472.88 L 506.97 -474.33 L 503.21 -475.77 L 499.45 -477.22 L 495.69 -478.67 L 491.93 -480.12 L 488.17 -481.57 L 484.41 -483.02 L 480.65 -484.47 L 476.89 -485.92 L 473.13 -487.37 L 469.37 -488.82 L 465.62 -490.28 L 461.86 -491.73 L 458.10 -493.19 L 454.34 -494.64 L 450.58 -496.10 L 446.82 -497.55 L 443.06 -499.01 L 439.30 -500.47 L 435.54 -501.93 L 431.78 -503.39 L 428.02 -504.85 L 424.26 -506.31 L 420.50 -507.77 L 416.74 -509.24 L 412.98 -510.70 L 409.22 -512.16 L 405.46 -513.63 L 401.70 -515.10 L 397.94 -516.56 L 394.18 -518.03 L 390.42 -519.50 L 386.66 -520.97 L 382.90 -522.43 L 379.14 -523.90 L 375.38 -525.38 L 371.62 -526.85 L 367.86 -528.32 L 364.11 -529.79 L 360.35 -531.26 L 356.59 -532.74 z "/></defs><g clip-path="url(#p555539c6d3)"><use href="#m52dea821ff" x="0" y="902" style="fill: #2ca02c; fill-opacity: 0.25"/></g></g><g><use href="#m2c01bbbdb9" x="356.59" y="471.3" style="stroke: #000000; stroke-width: 1.14"/><use href="#m2c01bbbdb9" x="397.99" y="471.3" style="stroke: #000000; stroke-width: 1.14"/><use href="#m2c01bbbdb9" x="424.11" y="471.3" style="stroke: #000000; stroke-width: 1.14"/><use href="#m2c01bbbdb9" x="450.23" y="471.3" style="stroke: #000000; stroke-width: 1.14"/><use href="#m2c01bbbdb9" x="476.35" y="471.3" style="stroke: #000000; stroke-width: 1.14"/><use href="#m2c01bbbdb9" x="502.47" y="471.3" style="stroke: #000000; stroke-width: 1.14"/><use href="#m2c01bbbdb9" x="537.00" y="471.3" style="stroke: #000000; stroke-width: 1.14"/><use href="#m2c01bbbdb9" x="578.40" y="471.3" style="stroke: #000000; stroke-width: 1.14"/><use href="#m645ac34a00" x="348.18" y="471.3" style="stroke: #000000; stroke-width: 0.85"/><use href="#m645ac34a00" x="352.62" y="471.3" style="stroke: #000000; stroke-width: 0.85"/><use href="#m645ac34a00" x="382.71" y="471.3" style="stroke: #000000; stroke-width: 0.85"/><use href="#m645ac34a00" x="408.83" y="471.3" style="stroke: #000000; stroke-width: 0.85"/><use href="#m645ac34a00" x="417.24" y="471.3" style="stroke: #000000; stroke-width: 0.85"/><use href="#m645ac34a00" x="429.92" y="471.3" style="stroke: #000000; stroke-width: 0.85"/><use href="#m645ac34a00" x="434.95" y="471.3" style="stroke: #000000; stroke-width: 0.85"/><use href="#m645ac34a00" x="439.39" y="471.3" style="stroke: #000000; stroke-width: 0.85"/><use href="#m645ac34a00" x="469.48" y="471.3" style="stroke: #000000; stroke-width: 0.85"/><use href="#m645ac34a00" x="484.76" y="471.3" style="stroke: #000000; stroke-width: 0.85"/><use href="#m645ac34a00" x="495.60" y="471.3" style="stroke: #000000; stroke-width: 0.85"/><use href="#m645ac34a00" x="504.01" y="471.3" style="stroke: #000000; stroke-width: 0.85"/><use href="#m645ac34a00" x="510.88" y="471.3" style="stroke: #000000; stroke-width: 0.85"/><use href="#m645ac34a00" x="516.69" y="471.3" style="stroke: #000000; stroke-width: 0.85"/><use href="#m645ac34a00" x="521.72" y="471.3" style="stroke: #000000; stroke-width: 0.85"/><use href="#m645ac34a00" x="526.16" y="471.3" style="stroke: #000000; stroke-width: 0.85"/><use href="#m645ac34a00" x="556.25" y="471.3" style="stroke: #000000; stroke-width: 0.85"/><use href="#m645ac34a00" x="571.53" y="471.3" style="stroke: #000000; stroke-width: 0.85"/><use href="#m645ac34a00" x="582.37" y="471.3" style="stroke: #000000; stroke-width: 0.85"/></g><g><use href="#m370a196e71" x="345.5" y="455.3" style="stroke: #000000; stroke-width: 1.14"/><use href="#m370a196e71" x="345.5" y="409.9" style="stroke: #000000; stroke-width: 1.14"/><use href="#m370a196e71" x="345.5" y="364.5" style="stroke: #000000; stroke-width: 1.14"/><use href="#m23b3c730b1" x="345.5" y="468.96" style="stroke: #000000; stroke-width: 0.85"/><use href="#m23b3c730b1" x="345.5" y="465.37" style="stroke: #000000; stroke-width: 0.85"/><use href="#m23b3c730b1" x="345.5" y="462.33" style="stroke: #000000; stroke-width: 0.85"/><use href="#m23b3c730b1" x="345.5" y="459.69" style="stroke: #000000; stroke-width: 0.85"/><use href="#m23b3c730b1" x="345.5" y="457.37" style="stroke: #000000; stroke-width: 0.85"/><use href="#m23b3c730b1" x="345.5" y="441.63" style="stroke: #000000; stroke-width: 0.85"/><use href="#m23b3c730b1" x="345.5" y="433.63" style="stroke: #000000; stroke-width: 0.85"/><use href="#m23b3c730b1" x="345.5" y="427.96" style="stroke: #000000; stroke-width: 0.85"/><use href="#m23b3c730b1" x="345.5" y="423.56" style="stroke: #000000; stroke-width: 0.85"/><use href="#m23b3c730b1" x="345.5" y="419.97" style="stroke: #000000; stroke-width: 0.85"/><use href="#m23b3c730b1" x="345.5" y="416.93" style="stroke: #000000; stroke-width: 0.85"/><use href="#m23b3c730b1" x="345.5" y="414.29" style="stroke: #000000; stroke-width: 0.85"/><use href="#m23b3c730b1" x="345.5" y="411.97" style="stroke: #000000; stroke-width: 0.85"/><use href="#m23b3c730b1" x="345.5" y="396.23" style="stroke: #000000; stroke-width: 0.85"/><use href="#m23b3c730b1" x="345.5" y="388.23" style="stroke: #000000; stroke-width: 0.85"/><use href="#m23b3c730b1" x="345.5" y="382.56" style="stroke: #000000; stroke-width: 0.85"/><use href="#m23b3c730b1" x="345.5" y="378.16" style="stroke: #000000; stroke-width: 0.85"/><use href="#m23b3c730b1" x="345.5" y="374.57" style="stroke: #000000; stroke-width: 0.85"/><use href="#m23b3c730b1" x="345.5" y="371.53" style="stroke: #000000; stroke-width: 0.85"/><use href="#m23b3c730b1" x="345.5" y="368.89" style="stroke: #000000; stroke-width: 0.85"/><use href="#m23b3c730b1" x="345.5" y="366.57" style="stroke: #000000; stroke-width: 0.85"/><use href="#m23b3c730b1" x="345.5" y="350.83" style="stroke: #000000; stroke-width: 0.85"/></g><g><path d="M 356.59 364.68 L 578.40 441.09 " clip-path="url(#p555539c6d3)" style="fill: none; stroke: #1f77b4; stroke-width: 1.6; stroke-linecap: square"/></g><g><path d="M 356.59 374.44 L 578.40 459.16 " clip-path="url(#p555539c6d3)" style="fill: none; stroke: #2ca02c; stroke-width: 1.6; stroke-linecap: square"/></g><g><g clip-path="url(#p555539c6d3)"><use href="#m92d5d42935" x="356.59" y="366.14" style="fill: #1f77b4; stroke: #1f77b4; stroke-width: 1.3"/><use href="#m92d5d42935" x="382.71" y="370.91" style="fill: #1f77b4; stroke: #1f77b4; stroke-width: 1.3"/><use href="#m92d5d42935" x="397.99" y="374.86" style="fill: #1f77b4; stroke: #1f77b4; stroke-width: 1.3"/><use href="#m92d5d42935" x="408.83" y="379.22" style="fill: #1f77b4; stroke: #1f77b4; stroke-width: 1.3"/><use href="#m92d5d42935" x="424.11" y="384.20" style="fill: #1f77b4; stroke: #1f77b4; stroke-width: 1.3"/><use href="#m92d5d42935" x="434.95" y="388.35" style="fill: #1f77b4; stroke: #1f77b4; stroke-width: 1.3"/><use href="#m92d5d42935" x="443.36" y="391.47" style="fill: #1f77b4; stroke: #1f77b4; stroke-width: 1.3"/><use href="#m92d5d42935" x="450.23" y="393.13" style="fill: #1f77b4; stroke: #1f77b4; stroke-width: 1.3"/><use href="#m92d5d42935" x="465.51" y="399.36" style="fill: #1f77b4; stroke: #1f77b4; stroke-width: 1.3"/><use href="#m92d5d42935" x="476.35" y="403.10" style="fill: #1f77b4; stroke: #1f77b4; stroke-width: 1.3"/><use href="#m92d5d42935" x="502.47" y="412.44" style="fill: #1f77b4; stroke: #1f77b4; stroke-width: 1.3"/><use href="#m92d5d42935" x="517.75" y="418.05" style="fill: #1f77b4; stroke: #1f77b4; stroke-width: 1.3"/><use href="#m92d5d42935" x="528.59" y="421.78" style="fill: #1f77b4; stroke: #1f77b4; stroke-width: 1.3"/><use href="#m92d5d42935" x="537.00" y="424.69" style="fill: #1f77b4; stroke: #1f77b4; stroke-width: 1.3"/><use href="#m92d5d42935" x="543.87" y="427.39" style="fill: #1f77b4; stroke: #1f77b4; stroke-width: 1.3"/><use href="#m92d5d42935" x="554.71" y="430.50" style="fill: #1f77b4; stroke: #1f77b4; stroke-width: 1.3"/><use href="#m92d5d42935" x="563.12" y="433.62" style="fill: #1f77b4; stroke: #1f77b4; stroke-width: 1.3"/><use href="#m92d5d42935" x="569.99" y="435.70" style="fill: #1f77b4; stroke: #1f77b4; stroke-width: 1.3"/><use href="#m92d5d42935" x="578.40" y="437.77" style="fill: #1f77b4; stroke: #1f77b4; stroke-width: 1.3"/></g></g><g><g clip-path="url(#p555539c6d3)"><use href="#m92d5d42935" x="356.59" y="371.53" style="fill: #1f77b4; stroke: #1f77b4; stroke-width: 1.3"/><use href="#m92d5d42935" x="382.71" y="376.31" style="fill: #1f77b4; stroke: #1f77b4; stroke-width: 1.3"/><use href="#m92d5d42935" x="397.99" y="380.26" style="fill: #1f77b4; stroke: #1f77b4; stroke-width: 1.3"/><use href="#m92d5d42935" x="408.83" y="384.62" style="fill: #1f77b4; stroke: #1f77b4; stroke-width: 1.3"/><use href="#m92d5d42935" x="424.11" y="389.60" style="fill: #1f77b4; stroke: #1f77b4; stroke-width: 1.3"/><use href="#m92d5d42935" x="434.95" y="393.75" style="fill: #1f77b4; stroke: #1f77b4; stroke-width: 1.3"/><use href="#m92d5d42935" x="443.36" y="396.87" style="fill: #1f77b4; stroke: #1f77b4; stroke-width: 1.3"/><use href="#m92d5d42935" x="450.23" y="398.53" style="fill: #1f77b4; stroke: #1f77b4; stroke-width: 1.3"/><use href="#m92d5d42935" x="465.51" y="404.76" style="fill: #1f77b4; stroke: #1f77b4; stroke-width: 1.3"/><use href="#m92d5d42935" x="476.35" y="408.5" style="fill: #1f77b4; stroke: #1f77b4; stroke-width: 1.3"/><use href="#m92d5d42935" x="502.47" y="417.84" style="fill: #1f77b4; stroke: #1f77b4; stroke-width: 1.3"/><use href="#m92d5d42935" x="517.75" y="423.45" style="fill: #1f77b4; stroke: #1f77b4; stroke-width: 1.3"/><use href="#m92d5d42935" x="528.59" y="427.18" style="fill: #1f77b4; stroke: #1f77b4; stroke-width: 1.3"/><use href="#m92d5d42935" x="537.00" y="430.09" style="fill: #1f77b4; stroke: #1f77b4; stroke-width: 1.3"/><use href="#m92d5d42935" x="543.87" y="432.79" style="fill: #1f77b4; stroke: #1f77b4; stroke-width: 1.3"/><use href="#m92d5d42935" x="554.71" y="435.90" style="fill: #1f77b4; stroke: #1f77b4; stroke-width: 1.3"/><use href="#m92d5d42935" x="563.12" y="439.02" style="fill: #1f77b4; stroke: #1f77b4; stroke-width: 1.3"/><use href="#m92d5d42935" x="569.99" y="441.09" style="fill: #1f77b4; stroke: #1f77b4; stroke-width: 1.3"/><use href="#m92d5d42935" x="578.40" y="443.17" style="fill: #1f77b4; stroke: #1f77b4; stroke-width: 1.3"/></g></g><g><g clip-path="url(#p555539c6d3)"><use href="#m8536452fce" x="356.59" y="381.71" style="fill: #2ca02c; stroke: #2ca02c; stroke-width: 1.3"/><use href="#m8536452fce" x="382.71" y="382.96" style="fill: #2ca02c; stroke: #2ca02c; stroke-width: 1.3"/><use href="#m8536452fce" x="397.99" y="384.41" style="fill: #2ca02c; stroke: #2ca02c; stroke-width: 1.3"/><use href="#m8536452fce" x="408.83" y="386.49" style="fill: #2ca02c; stroke: #2ca02c; stroke-width: 1.3"/><use href="#m8536452fce" x="424.11" y="391.05" style="fill: #2ca02c; stroke: #2ca02c; stroke-width: 1.3"/><use href="#m8536452fce" x="434.95" y="393.75" style="fill: #2ca02c; stroke: #2ca02c; stroke-width: 1.3"/><use href="#m8536452fce" x="443.36" y="397.91" style="fill: #2ca02c; stroke: #2ca02c; stroke-width: 1.3"/><use href="#m8536452fce" x="450.23" y="401.64" style="fill: #2ca02c; stroke: #2ca02c; stroke-width: 1.3"/><use href="#m8536452fce" x="465.51" y="406.83" style="fill: #2ca02c; stroke: #2ca02c; stroke-width: 1.3"/><use href="#m8536452fce" x="476.35" y="410.99" style="fill: #2ca02c; stroke: #2ca02c; stroke-width: 1.3"/><use href="#m8536452fce" x="502.47" y="425.52" style="fill: #2ca02c; stroke: #2ca02c; stroke-width: 1.3"/><use href="#m8536452fce" x="517.75" y="433.20" style="fill: #2ca02c; stroke: #2ca02c; stroke-width: 1.3"/><use href="#m8536452fce" x="528.59" y="437.77" style="fill: #2ca02c; stroke: #2ca02c; stroke-width: 1.3"/><use href="#m8536452fce" x="537.00" y="442.13" style="fill: #2ca02c; stroke: #2ca02c; stroke-width: 1.3"/><use href="#m8536452fce" x="543.87" y="445.66" style="fill: #2ca02c; stroke: #2ca02c; stroke-width: 1.3"/><use href="#m8536452fce" x="554.71" y="449.82" style="fill: #2ca02c; stroke: #2ca02c; stroke-width: 1.3"/><use href="#m8536452fce" x="563.12" y="453.35" style="fill: #2ca02c; stroke: #2ca02c; stroke-width: 1.3"/><use href="#m8536452fce" x="569.99" y="455.01" style="fill: #2ca02c; stroke: #2ca02c; stroke-width: 1.3"/><use href="#m8536452fce" x="578.40" y="458.12" style="fill: #2ca02c; stroke: #2ca02c; stroke-width: 1.3"/></g></g><g><g clip-path="url(#p555539c6d3)"><use href="#m8536452fce" x="356.59" y="396.87" style="fill: #2ca02c; stroke: #2ca02c; stroke-width: 1.3"/><use href="#m8536452fce" x="382.71" y="398.94" style="fill: #2ca02c; stroke: #2ca02c; stroke-width: 1.3"/><use href="#m8536452fce" x="397.99" y="399.98" style="fill: #2ca02c; stroke: #2ca02c; stroke-width: 1.3"/><use href="#m8536452fce" x="408.83" y="401.64" style="fill: #2ca02c; stroke: #2ca02c; stroke-width: 1.3"/><use href="#m8536452fce" x="424.11" y="405.80" style="fill: #2ca02c; stroke: #2ca02c; stroke-width: 1.3"/><use href="#m8536452fce" x="434.95" y="409.33" style="fill: #2ca02c; stroke: #2ca02c; stroke-width: 1.3"/><use href="#m8536452fce" x="443.36" y="412.02" style="fill: #2ca02c; stroke: #2ca02c; stroke-width: 1.3"/><use href="#m8536452fce" x="450.23" y="414.52" style="fill: #2ca02c; stroke: #2ca02c; stroke-width: 1.3"/><use href="#m8536452fce" x="465.51" y="419.71" style="fill: #2ca02c; stroke: #2ca02c; stroke-width: 1.3"/><use href="#m8536452fce" x="476.35" y="423.45" style="fill: #2ca02c; stroke: #2ca02c; stroke-width: 1.3"/><use href="#m8536452fce" x="502.47" y="436.94" style="fill: #2ca02c; stroke: #2ca02c; stroke-width: 1.3"/><use href="#m8536452fce" x="517.75" y="443.59" style="fill: #2ca02c; stroke: #2ca02c; stroke-width: 1.3"/><use href="#m8536452fce" x="528.59" y="447.74" style="fill: #2ca02c; stroke: #2ca02c; stroke-width: 1.3"/><use href="#m8536452fce" x="537.00" y="451.89" style="fill: #2ca02c; stroke: #2ca02c; stroke-width: 1.3"/><use href="#m8536452fce" x="543.87" y="454.38" style="fill: #2ca02c; stroke: #2ca02c; stroke-width: 1.3"/><use href="#m8536452fce" x="554.71" y="458.12" style="fill: #2ca02c; stroke: #2ca02c; stroke-width: 1.3"/><use href="#m8536452fce" x="563.12" y="461.65" style="fill: #2ca02c; stroke: #2ca02c; stroke-width: 1.3"/><use href="#m8536452fce" x="569.99" y="463.31" style="fill: #2ca02c; stroke: #2ca02c; stroke-width: 1.3"/><use href="#m8536452fce" x="578.40" y="466.01" style="fill: #2ca02c; stroke: #2ca02c; stroke-width: 1.3"/></g></g><g><g clip-path="url(#p555539c6d3)"><use href="#m392b33b074" x="356.59" y="368.84" style="fill: #1f77b4"/><use href="#m392b33b074" x="382.71" y="373.61" style="fill: #1f77b4"/><use href="#m392b33b074" x="397.99" y="377.56" style="fill: #1f77b4"/><use href="#m392b33b074" x="408.83" y="381.92" style="fill: #1f77b4"/><use href="#m392b33b074" x="424.11" y="386.90" style="fill: #1f77b4"/><use href="#m392b33b074" x="434.95" y="391.05" style="fill: #1f77b4"/><use href="#m392b33b074" x="443.36" y="394.17" style="fill: #1f77b4"/><use href="#m392b33b074" x="450.23" y="395.83" style="fill: #1f77b4"/><use href="#m392b33b074" x="465.51" y="402.06" style="fill: #1f77b4"/><use href="#m392b33b074" x="476.35" y="405.80" style="fill: #1f77b4"/><use href="#m392b33b074" x="502.47" y="415.14" style="fill: #1f77b4"/><use href="#m392b33b074" x="517.75" y="420.75" style="fill: #1f77b4"/><use href="#m392b33b074" x="528.59" y="424.48" style="fill: #1f77b4"/><use href="#m392b33b074" x="537.00" y="427.39" style="fill: #1f77b4"/><use href="#m392b33b074" x="543.87" y="430.09" style="fill: #1f77b4"/><use href="#m392b33b074" x="554.71" y="433.20" style="fill: #1f77b4"/><use href="#m392b33b074" x="563.12" y="436.32" style="fill: #1f77b4"/><use href="#m392b33b074" x="569.99" y="438.40" style="fill: #1f77b4"/><use href="#m392b33b074" x="578.40" y="440.47" style="fill: #1f77b4"/></g></g><g><g clip-path="url(#p555539c6d3)"><use href="#mb3e0cefdb7" x="356.59" y="387.94" style="fill: #2ca02c"/><use href="#mb3e0cefdb7" x="382.71" y="388.98" style="fill: #2ca02c"/><use href="#mb3e0cefdb7" x="397.99" y="390.22" style="fill: #2ca02c"/><use href="#mb3e0cefdb7" x="408.83" y="392.30" style="fill: #2ca02c"/><use href="#mb3e0cefdb7" x="424.11" y="396.45" style="fill: #2ca02c"/><use href="#mb3e0cefdb7" x="434.95" y="400.40" style="fill: #2ca02c"/><use href="#mb3e0cefdb7" x="443.36" y="403.51" style="fill: #2ca02c"/><use href="#mb3e0cefdb7" x="450.23" y="406.21" style="fill: #2ca02c"/><use href="#mb3e0cefdb7" x="465.51" y="411.61" style="fill: #2ca02c"/><use href="#mb3e0cefdb7" x="476.35" y="415.76" style="fill: #2ca02c"/><use href="#mb3e0cefdb7" x="502.47" y="430.09" style="fill: #2ca02c"/><use href="#mb3e0cefdb7" x="517.75" y="436.73" style="fill: #2ca02c"/><use href="#mb3e0cefdb7" x="528.59" y="441.93" style="fill: #2ca02c"/><use href="#mb3e0cefdb7" x="537.00" y="445.66" style="fill: #2ca02c"/><use href="#mb3e0cefdb7" x="543.87" y="448.78" style="fill: #2ca02c"/><use href="#mb3e0cefdb7" x="554.71" y="453.35" style="fill: #2ca02c"/><use href="#mb3e0cefdb7" x="563.12" y="456.04" style="fill: #2ca02c"/><use href="#mb3e0cefdb7" x="569.99" y="458.12" style="fill: #2ca02c"/><use href="#mb3e0cefdb7" x="578.40" y="461.24" style="fill: #2ca02c"/></g></g><g><path d="M 345.5 471.3 L 345.5 347.5 " style="fill: none; stroke: #000000; stroke-width: 1.14; stroke-linejoin: miter; stroke-linecap: square"/></g><g><path d="M 589.5 471.3 L 589.5 347.5 " style="fill: none; stroke: #000000; stroke-width: 1.14; stroke-linejoin: miter; stroke-linecap: square"/></g><g><path d="M 345.5 471.3 L 589.5 471.3 " style="fill: none; stroke: #000000; stroke-width: 1.14; stroke-linejoin: miter; stroke-linecap: square"/></g><g><path d="M 345.5 347.5 L 589.5 347.5 " style="fill: none; stroke: #000000; stroke-width: 1.14; stroke-linejoin: miter; stroke-linecap: square"/></g><g><text style="font-size: 17.16px; font-family: 'DejaVu Sans', 'Liberation Sans', sans-serif; text-anchor: middle" x="467.5" y="339.82" transform="rotate(-0 467.5 339.82)">Niamey</text></g></g><g><g><path d="M 77.4 634.3 L 321.4 634.3 L 321.4 510.5 L 77.4 510.5 z " style="fill: #ffffff"/></g><g><defs><path id="m7ac5c30056" d="M 88.49 -370.36 L 88.49 -368.70 L 92.25 -367.52 L 96.01 -366.34 L 99.76 -365.16 L 103.52 -363.99 L 107.28 -362.81 L 111.04 -361.64 L 114.80 -360.47 L 118.56 -359.30 L 122.32 -358.14 L 126.08 -356.97 L 129.84 -355.81 L 133.60 -354.65 L 137.36 -353.49 L 141.12 -352.33 L 144.88 -351.18 L 148.64 -350.03 L 152.40 -348.87 L 156.16 -347.73 L 159.92 -346.58 L 163.68 -345.43 L 167.44 -344.29 L 171.20 -343.15 L 174.96 -342.01 L 178.72 -340.87 L 182.48 -339.74 L 186.24 -338.60 L 190.00 -337.47 L 193.76 -336.34 L 197.52 -335.21 L 201.27 -334.08 L 205.03 -332.96 L 208.79 -331.84 L 212.55 -330.72 L 216.31 -329.60 L 220.07 -328.48 L 223.83 -327.37 L 227.59 -326.26 L 231.35 -325.14 L 235.11 -324.04 L 238.87 -322.93 L 242.63 -321.82 L 246.39 -320.72 L 250.15 -319.62 L 253.91 -318.52 L 257.67 -317.42 L 261.43 -316.33 L 265.19 -315.23 L 268.95 -314.14 L 272.71 -313.05 L 276.47 -311.96 L 280.23 -310.88 L 283.99 -309.79 L 287.75 -308.71 L 291.51 -307.63 L 295.27 -306.55 L 299.03 -305.47 L 302.78 -304.40 L 306.54 -303.33 L 310.30 -302.26 L 310.30 -304.33 L 310.30 -304.33 L 306.54 -305.41 L 302.78 -306.49 L 299.03 -307.57 L 295.27 -308.65 L 291.51 -309.73 L 287.75 -310.82 L 283.99 -311.91 L 280.23 -312.99 L 276.47 -314.08 L 272.71 -315.17 L 268.95 -316.26 L 265.19 -317.36 L 261.43 -318.45 L 257.67 -319.55 L 253.91 -320.65 L 250.15 -321.75 L 246.39 -322.85 L 242.63 -323.95 L 238.87 -325.05 L 235.11 -326.16 L 231.35 -327.26 L 227.59 -328.37 L 223.83 -329.48 L 220.07 -330.59 L 216.31 -331.70 L 212.55 -332.82 L 208.79 -333.93 L 205.03 -335.05 L 201.27 -336.16 L 197.52 -337.28 L 193.76 -338.40 L 190.00 -339.53 L 186.24 -340.65 L 182.48 -341.77 L 178.72 -342.90 L 174.96 -344.03 L 171.20 -345.16 L 167.44 -346.29 L 163.68 -347.42 L 159.92 -348.55 L 156.16 -349.69 L 152.40 -350.83 L 148.64 -351.96 L 144.88 -353.10 L 141.12 -354.24 L 137.36 -355.39 L 133.60 -356.53 L 129.84 -357.67 L 126.08 -358.82 L 122.32 -359.97 L 118.56 -361.12 L 114.80 -362.27 L 111.04 -363.42 L 107.28 -364.57 L 103.52 -365.73 L 99.76 -366.88 L 96.01 -368.04 L 92.25 -369.20 L 88.49 -370.36 z "/></defs><g clip-path="url(#peab2482843)"><use href="#m7ac5c30056" x="0" y="902" style="fill: #1f77b4; fill-opacity: 0.25"/></g></g><g><defs><path id="m5d57465697" d="M 88.49 -348.35 L 88.49 -332.78 L 92.25 -331.95 L 96.01 -331.12 L 99.76 -330.29 L 103.52 -329.45 L 107.28 -328.61 L 111.04 -327.77 L 114.80 -326.92 L 118.56 -326.07 L 122.32 -325.21 L 126.08 -324.35 L 129.84 -323.49 L 133.60 -322.62 L 137.36 -321.75 L 141.12 -320.88 L 144.88 -320.00 L 148.64 -319.11 L 152.40 -318.23 L 156.16 -317.34 L 159.92 -316.44 L 163.68 -315.55 L 167.44 -314.64 L 171.20 -313.74 L 174.96 -312.83 L 178.72 -311.91 L 182.48 -311.00 L 186.24 -310.08 L 190.00 -309.15 L 193.76 -308.22 L 197.52 -307.29 L 201.27 -306.36 L 205.03 -305.42 L 208.79 -304.47 L 212.55 -303.52 L 216.31 -302.57 L 220.07 -301.62 L 223.83 -300.66 L 227.59 -299.70 L 231.35 -298.73 L 235.11 -297.76 L 238.87 -296.78 L 242.63 -295.81 L 246.39 -294.82 L 250.15 -293.84 L 253.91 -292.85 L 257.67 -291.86 L 261.43 -290.86 L 265.19 -289.86 L 268.95 -288.85 L 272.71 -287.84 L 276.47 -286.83 L 280.23 -285.81 L 283.99 -284.79 L 287.75 -283.77 L 291.51 -282.74 L 295.27 -281.71 L 299.03 -280.68 L 302.78 -279.64 L 306.54 -278.59 L 310.30 -277.55 L 310.30 -282.95 L 310.30 -282.95 L 306.54 -283.98 L 302.78 -285.01 L 299.03 -286.05 L 295.27 -287.09 L 291.51 -288.13 L 287.75 -289.18 L 283.99 -290.23 L 280.23 -291.28 L 276.47 -292.33 L 272.71 -293.39 L 268.95 -294.45 L 265.19 -295.51 L 261.43 -296.57 L 257.67 -297.64 L 253.91 -298.71 L 250.15 -299.78 L 246.39 -300.85 L 242.63 -301.93 L 238.87 -303.01 L 235.11 -304.09 L 231.35 -305.18 L 227.59 -306.27 L 223.83 -307.36 L 220.07 -308.45 L 216.31 -309.54 L 212.55 -310.64 L 208.79 -311.74 L 205.03 -312.85 L 201.27 -313.95 L 197.52 -315.06 L 193.76 -316.17 L 190.00 -317.29 L 186.24 -318.40 L 182.48 -319.52 L 178.72 -320.64 L 174.96 -321.77 L 171.20 -322.89 L 167.44 -324.02 L 163.68 -325.16 L 159.92 -326.29 L 156.16 -327.43 L 152.40 -328.57 L 148.64 -329.71 L 144.88 -330.86 L 141.12 -332.01 L 137.36 -333.16 L 133.60 -334.31 L 129.84 -335.46 L 126.08 -336.62 L 122.32 -337.78 L 118.56 -338.95 L 114.80 -340.11 L 111.04 -341.28 L 107.28 -342.45 L 103.52 -343.63 L 99.76 -344.81 L 96.01 -345.99 L 92.25 -347.17 L 88.49 -348.35 z "/></defs><g clip-path="url(#peab2482843)"><use href="#m5d57465697" x="0" y="902" style="fill: #2ca02c; fill-opacity: 0.25"/></g></g><g><use href="#m2c01bbbdb9" x="88.49" y="634.3" style="stroke: #000000; stroke-width: 1.14"/><use href="#m2c01bbbdb9" x="129.89" y="634.3" style="stroke: #000000; stroke-width: 1.14"/><use href="#m2c01bbbdb9" x="156.01" y="634.3" style="stroke: #000000; stroke-width: 1.14"/><use href="#m2c01bbbdb9" x="182.13" y="634.3" style="stroke: #000000; stroke-width: 1.14"/><use href="#m2c01bbbdb9" x="208.25" y="634.3" style="stroke: #000000; stroke-width: 1.14"/><use href="#m2c01bbbdb9" x="234.37" y="634.3" style="stroke: #000000; stroke-width: 1.14"/><use href="#m2c01bbbdb9" x="268.90" y="634.3" style="stroke: #000000; stroke-width: 1.14"/><use href="#m2c01bbbdb9" x="310.30" y="634.3" style="stroke: #000000; stroke-width: 1.14"/><use href="#m645ac34a00" x="80.08" y="634.3" style="stroke: #000000; stroke-width: 0.85"/><use href="#m645ac34a00" x="84.52" y="634.3" style="stroke: #000000; stroke-width: 0.85"/><use href="#m645ac34a00" x="114.61" y="634.3" style="stroke: #000000; stroke-width: 0.85"/><use href="#m645ac34a00" x="140.73" y="634.3" style="stroke: #000000; stroke-width: 0.85"/><use href="#m645ac34a00" x="149.14" y="634.3" style="stroke: #000000; stroke-width: 0.85"/><use href="#m645ac34a00" x="161.82" y="634.3" style="stroke: #000000; stroke-width: 0.85"/><use href="#m645ac34a00" x="166.85" y="634.3" style="stroke: #000000; stroke-width: 0.85"/><use href="#m645ac34a00" x="171.29" y="634.3" style="stroke: #000000; stroke-width: 0.85"/><use href="#m645ac34a00" x="201.38" y="634.3" style="stroke: #000000; stroke-width: 0.85"/><use href="#m645ac34a00" x="216.66" y="634.3" style="stroke: #000000; stroke-width: 0.85"/><use href="#m645ac34a00" x="227.50" y="634.3" style="stroke: #000000; stroke-width: 0.85"/><use href="#m645ac34a00" x="235.91" y="634.3" style="stroke: #000000; stroke-width: 0.85"/><use href="#m645ac34a00" x="242.78" y="634.3" style="stroke: #000000; stroke-width: 0.85"/><use href="#m645ac34a00" x="248.59" y="634.3" style="stroke: #000000; stroke-width: 0.85"/><use href="#m645ac34a00" x="253.62" y="634.3" style="stroke: #000000; stroke-width: 0.85"/><use href="#m645ac34a00" x="258.06" y="634.3" style="stroke: #000000; stroke-width: 0.85"/><use href="#m645ac34a00" x="288.15" y="634.3" style="stroke: #000000; stroke-width: 0.85"/><use href="#m645ac34a00" x="303.43" y="634.3" style="stroke: #000000; stroke-width: 0.85"/><use href="#m645ac34a00" x="314.27" y="634.3" style="stroke: #000000; stroke-width: 0.85"/></g><g><g><g><g><use href="#m370a196e71" x="77.4" y="618.3" style="stroke: #000000; stroke-width: 1.14"/></g></g><g><g transform="translate(33.78 624.73)"><text><tspan x="0" y="-0.49" style="font-size: 14.3px; font-family: 'DejaVu Sans', 'Liberation Sans', sans-serif">1</tspan><tspan x="9.06" y="-0.49" style="font-size: 14.3px; font-family: 'DejaVu Sans', 'Liberation Sans', sans-serif">0</tspan><tspan x="18.26" y="-5.85" style="font-size: 10.01px; font-family: 'DejaVu Sans', 'Liberation Sans', sans-serif">−</tspan><tspan x="26.62" y="-5.85" style="font-size: 10.01px; font-family: 'DejaVu Sans', 'Liberation Sans', sans-serif">1</tspan></text></g></g></g><g><g><g><use href="#m370a196e71" x="77.4" y="572.9" style="stroke: #000000; stroke-width: 1.14"/></g></g><g><g transform="translate(42.22 579.33)"><text><tspan x="0" y="-0.36" style="font-size: 14.3px; font-family: 'DejaVu Sans', 'Liberation Sans', sans-serif">1</tspan><tspan x="9.06" y="-0.36" style="font-size: 14.3px; font-family: 'DejaVu Sans', 'Liberation Sans', sans-serif">0</tspan><tspan x="18.26" y="-5.72" style="font-size: 10.01px; font-family: 'DejaVu Sans', 'Liberation Sans', sans-serif">0</tspan></text></g></g></g><g><g><g><use href="#m370a196e71" x="77.4" y="527.5" style="stroke: #000000; stroke-width: 1.14"/></g></g><g><g transform="translate(42.22 533.93)"><text><tspan x="0" y="-0.49" style="font-size: 14.3px; font-family: 'DejaVu Sans', 'Liberation Sans', sans-serif">1</tspan><tspan x="9.06" y="-0.49" style="font-size: 14.3px; font-family: 'DejaVu Sans', 'Liberation Sans', sans-serif">0</tspan><tspan x="18.26" y="-5.85" style="font-size: 10.01px; font-family: 'DejaVu Sans', 'Liberation Sans', sans-serif">1</tspan></text></g></g></g><use href="#m23b3c730b1" x="77.4" y="631.96" style="stroke: #000000; stroke-width: 0.85"/><use href="#m23b3c730b1" x="77.4" y="628.37" style="stroke: #000000; stroke-width: 0.85"/><use href="#m23b3c730b1" x="77.4" y="625.33" style="stroke: #000000; stroke-width: 0.85"/><use href="#m23b3c730b1" x="77.4" y="622.69" style="stroke: #000000; stroke-width: 0.85"/><use href="#m23b3c730b1" x="77.4" y="620.37" style="stroke: #000000; stroke-width: 0.85"/><use href="#m23b3c730b1" x="77.4" y="604.63" style="stroke: #000000; stroke-width: 0.85"/><use href="#m23b3c730b1" x="77.4" y="596.63" style="stroke: #000000; stroke-width: 0.85"/><use href="#m23b3c730b1" x="77.4" y="590.96" style="stroke: #000000; stroke-width: 0.85"/><use href="#m23b3c730b1" x="77.4" y="586.56" style="stroke: #000000; stroke-width: 0.85"/><use href="#m23b3c730b1" x="77.4" y="582.97" style="stroke: #000000; stroke-width: 0.85"/><use href="#m23b3c730b1" x="77.4" y="579.93" style="stroke: #000000; stroke-width: 0.85"/><use href="#m23b3c730b1" x="77.4" y="577.29" style="stroke: #000000; stroke-width: 0.85"/><use href="#m23b3c730b1" x="77.4" y="574.97" style="stroke: #000000; stroke-width: 0.85"/><use href="#m23b3c730b1" x="77.4" y="559.23" style="stroke: #000000; stroke-width: 0.85"/><use href="#m23b3c730b1" x="77.4" y="551.23" style="stroke: #000000; stroke-width: 0.85"/><use href="#m23b3c730b1" x="77.4" y="545.56" style="stroke: #000000; stroke-width: 0.85"/><use href="#m23b3c730b1" x="77.4" y="541.16" style="stroke: #000000; stroke-width: 0.85"/><use href="#m23b3c730b1" x="77.4" y="537.57" style="stroke: #000000; stroke-width: 0.85"/><use href="#m23b3c730b1" x="77.4" y="534.53" style="stroke: #000000; stroke-width: 0.85"/><use href="#m23b3c730b1" x="77.4" y="531.89" style="stroke: #000000; stroke-width: 0.85"/><use href="#m23b3c730b1" x="77.4" y="529.57" style="stroke: #000000; stroke-width: 0.85"/><use href="#m23b3c730b1" x="77.4" y="513.83" style="stroke: #000000; stroke-width: 0.85"/><g><g transform="translate(22.86 613.87) rotate(-90)"><text><tspan x="0" y="-0.35" style="font-style: oblique; font-size: 14.3px; font-family: 'DejaVu Sans', 'Liberation Sans', sans-serif">μ</tspan><tspan x="16.37" y="-0.35" style="font-style: oblique; font-size: 14.3px; font-family: 'DejaVu Sans', 'Liberation Sans', sans-serif">σ</tspan><tspan x="9.06" y="-0.35" style="font-size: 14.3px; font-family: 'DejaVu Sans', 'Liberation Sans', sans-serif">,</tspan><tspan x="25.40" y="-0.35" style="font-size: 14.3px; font-family: 'DejaVu Sans', 'Liberation Sans', sans-serif"></tspan><tspan x="29.93" y="-0.35" style="font-size: 14.3px; font-family: 'DejaVu Sans', 'Liberation Sans', sans-serif">(</tspan><tspan x="35.49" y="-0.35" style="font-size: 14.3px; font-family: 'DejaVu Sans', 'Liberation Sans', sans-serif">m</tspan><tspan x="49.37" y="-0.35" style="font-size: 14.3px; font-family: 'DejaVu Sans', 'Liberation Sans', sans-serif">m</tspan><tspan x="63.25" y="-0.35" style="font-size: 14.3px; font-family: 'DejaVu Sans', 'Liberation Sans', sans-serif">/</tspan><tspan x="68.05" y="-0.35" style="font-size: 14.3px; font-family: 'DejaVu Sans', 'Liberation Sans', sans-serif">h</tspan><tspan x="77.08" y="-0.35" style="font-size: 14.3px; font-family: 'DejaVu Sans', 'Liberation Sans', sans-serif">)</tspan></text></g></g></g><g><path d="M 88.49 532.46 L 310.30 598.70 " clip-path="url(#peab2482843)" style="fill: none; stroke: #1f77b4; stroke-width: 1.6; stroke-linecap: square"/></g><g><path d="M 88.49 559.87 L 310.30 621.74 " clip-path="url(#peab2482843)" style="fill: none; stroke: #2ca02c; stroke-width: 1.6; stroke-linecap: square"/></g><g><g clip-path="url(#peab2482843)"><use href="#m92d5d42935" x="88.49" y="531.63" style="fill: #1f77b4; stroke: #1f77b4; stroke-width: 1.3"/><use href="#m92d5d42935" x="114.61" y="537.23" style="fill: #1f77b4; stroke: #1f77b4; stroke-width: 1.3"/><use href="#m92d5d42935" x="129.89" y="541.59" style="fill: #1f77b4; stroke: #1f77b4; stroke-width: 1.3"/><use href="#m92d5d42935" x="140.73" y="545.12" style="fill: #1f77b4; stroke: #1f77b4; stroke-width: 1.3"/><use href="#m92d5d42935" x="156.01" y="550.94" style="fill: #1f77b4; stroke: #1f77b4; stroke-width: 1.3"/><use href="#m92d5d42935" x="166.85" y="555.09" style="fill: #1f77b4; stroke: #1f77b4; stroke-width: 1.3"/><use href="#m92d5d42935" x="175.26" y="558.00" style="fill: #1f77b4; stroke: #1f77b4; stroke-width: 1.3"/><use href="#m92d5d42935" x="182.13" y="560.28" style="fill: #1f77b4; stroke: #1f77b4; stroke-width: 1.3"/><use href="#m92d5d42935" x="197.41" y="566.51" style="fill: #1f77b4; stroke: #1f77b4; stroke-width: 1.3"/><use href="#m92d5d42935" x="208.25" y="569.63" style="fill: #1f77b4; stroke: #1f77b4; stroke-width: 1.3"/><use href="#m92d5d42935" x="234.37" y="577.31" style="fill: #1f77b4; stroke: #1f77b4; stroke-width: 1.3"/><use href="#m92d5d42935" x="249.65" y="581.46" style="fill: #1f77b4; stroke: #1f77b4; stroke-width: 1.3"/><use href="#m92d5d42935" x="260.49" y="583.54" style="fill: #1f77b4; stroke: #1f77b4; stroke-width: 1.3"/><use href="#m92d5d42935" x="268.90" y="585.61" style="fill: #1f77b4; stroke: #1f77b4; stroke-width: 1.3"/><use href="#m92d5d42935" x="275.77" y="587.07" style="fill: #1f77b4; stroke: #1f77b4; stroke-width: 1.3"/><use href="#m92d5d42935" x="286.61" y="589.77" style="fill: #1f77b4; stroke: #1f77b4; stroke-width: 1.3"/><use href="#m92d5d42935" x="295.02" y="591.84" style="fill: #1f77b4; stroke: #1f77b4; stroke-width: 1.3"/><use href="#m92d5d42935" x="301.89" y="593.30" style="fill: #1f77b4; stroke: #1f77b4; stroke-width: 1.3"/><use href="#m92d5d42935" x="310.30" y="595.58" style="fill: #1f77b4; stroke: #1f77b4; stroke-width: 1.3"/></g></g><g><g clip-path="url(#peab2482843)"><use href="#m92d5d42935" x="88.49" y="534.12" style="fill: #1f77b4; stroke: #1f77b4; stroke-width: 1.3"/><use href="#m92d5d42935" x="114.61" y="539.73" style="fill: #1f77b4; stroke: #1f77b4; stroke-width: 1.3"/><use href="#m92d5d42935" x="129.89" y="544.09" style="fill: #1f77b4; stroke: #1f77b4; stroke-width: 1.3"/><use href="#m92d5d42935" x="140.73" y="547.62" style="fill: #1f77b4; stroke: #1f77b4; stroke-width: 1.3"/><use href="#m92d5d42935" x="156.01" y="553.43" style="fill: #1f77b4; stroke: #1f77b4; stroke-width: 1.3"/><use href="#m92d5d42935" x="166.85" y="557.58" style="fill: #1f77b4; stroke: #1f77b4; stroke-width: 1.3"/><use href="#m92d5d42935" x="175.26" y="560.49" style="fill: #1f77b4; stroke: #1f77b4; stroke-width: 1.3"/><use href="#m92d5d42935" x="182.13" y="562.77" style="fill: #1f77b4; stroke: #1f77b4; stroke-width: 1.3"/><use href="#m92d5d42935" x="197.41" y="569.00" style="fill: #1f77b4; stroke: #1f77b4; stroke-width: 1.3"/><use href="#m92d5d42935" x="208.25" y="572.12" style="fill: #1f77b4; stroke: #1f77b4; stroke-width: 1.3"/><use href="#m92d5d42935" x="234.37" y="579.80" style="fill: #1f77b4; stroke: #1f77b4; stroke-width: 1.3"/><use href="#m92d5d42935" x="249.65" y="583.95" style="fill: #1f77b4; stroke: #1f77b4; stroke-width: 1.3"/><use href="#m92d5d42935" x="260.49" y="586.03" style="fill: #1f77b4; stroke: #1f77b4; stroke-width: 1.3"/><use href="#m92d5d42935" x="268.90" y="588.11" style="fill: #1f77b4; stroke: #1f77b4; stroke-width: 1.3"/><use href="#m92d5d42935" x="275.77" y="589.56" style="fill: #1f77b4; stroke: #1f77b4; stroke-width: 1.3"/><use href="#m92d5d42935" x="286.61" y="592.26" style="fill: #1f77b4; stroke: #1f77b4; stroke-width: 1.3"/><use href="#m92d5d42935" x="295.02" y="594.34" style="fill: #1f77b4; stroke: #1f77b4; stroke-width: 1.3"/><use href="#m92d5d42935" x="301.89" y="595.79" style="fill: #1f77b4; stroke: #1f77b4; stroke-width: 1.3"/><use href="#m92d5d42935" x="310.30" y="598.07" style="fill: #1f77b4; stroke: #1f77b4; stroke-width: 1.3"/></g></g><g><g clip-path="url(#peab2482843)"><use href="#m8536452fce" x="88.49" y="563.40" style="fill: #2ca02c; stroke: #2ca02c; stroke-width: 1.3"/><use href="#m8536452fce" x="114.61" y="564.02" style="fill: #2ca02c; stroke: #2ca02c; stroke-width: 1.3"/><use href="#m8536452fce" x="129.89" y="566.10" style="fill: #2ca02c; stroke: #2ca02c; stroke-width: 1.3"/><use href="#m8536452fce" x="140.73" y="565.47" style="fill: #2ca02c; stroke: #2ca02c; stroke-width: 1.3"/><use href="#m8536452fce" x="156.01" y="568.59" style="fill: #2ca02c; stroke: #2ca02c; stroke-width: 1.3"/><use href="#m8536452fce" x="166.85" y="571.91" style="fill: #2ca02c; stroke: #2ca02c; stroke-width: 1.3"/><use href="#m8536452fce" x="175.26" y="575.86" style="fill: #2ca02c; stroke: #2ca02c; stroke-width: 1.3"/><use href="#m8536452fce" x="182.13" y="578.97" style="fill: #2ca02c; stroke: #2ca02c; stroke-width: 1.3"/><use href="#m8536452fce" x="197.41" y="584.78" style="fill: #2ca02c; stroke: #2ca02c; stroke-width: 1.3"/><use href="#m8536452fce" x="208.25" y="590.39" style="fill: #2ca02c; stroke: #2ca02c; stroke-width: 1.3"/><use href="#m8536452fce" x="234.37" y="600.77" style="fill: #2ca02c; stroke: #2ca02c; stroke-width: 1.3"/><use href="#m8536452fce" x="249.65" y="603.47" style="fill: #2ca02c; stroke: #2ca02c; stroke-width: 1.3"/><use href="#m8536452fce" x="260.49" y="607.00" style="fill: #2ca02c; stroke: #2ca02c; stroke-width: 1.3"/><use href="#m8536452fce" x="268.90" y="608.66" style="fill: #2ca02c; stroke: #2ca02c; stroke-width: 1.3"/><use href="#m8536452fce" x="275.77" y="610.12" style="fill: #2ca02c; stroke: #2ca02c; stroke-width: 1.3"/><use href="#m8536452fce" x="286.61" y="612.82" style="fill: #2ca02c; stroke: #2ca02c; stroke-width: 1.3"/><use href="#m8536452fce" x="295.02" y="614.48" style="fill: #2ca02c; stroke: #2ca02c; stroke-width: 1.3"/><use href="#m8536452fce" x="301.89" y="615.31" style="fill: #2ca02c; stroke: #2ca02c; stroke-width: 1.3"/><use href="#m8536452fce" x="310.30" y="616.97" style="fill: #2ca02c; stroke: #2ca02c; stroke-width: 1.3"/></g></g><g><g clip-path="url(#peab2482843)"><use href="#m8536452fce" x="88.49" y="570.87" style="fill: #2ca02c; stroke: #2ca02c; stroke-width: 1.3"/><use href="#m8536452fce" x="114.61" y="575.86" style="fill: #2ca02c; stroke: #2ca02c; stroke-width: 1.3"/><use href="#m8536452fce" x="129.89" y="577.93" style="fill: #2ca02c; stroke: #2ca02c; stroke-width: 1.3"/><use href="#m8536452fce" x="140.73" y="579.18" style="fill: #2ca02c; stroke: #2ca02c; stroke-width: 1.3"/><use href="#m8536452fce" x="156.01" y="583.12" style="fill: #2ca02c; stroke: #2ca02c; stroke-width: 1.3"/><use href="#m8536452fce" x="166.85" y="586.45" style="fill: #2ca02c; stroke: #2ca02c; stroke-width: 1.3"/><use href="#m8536452fce" x="175.26" y="589.35" style="fill: #2ca02c; stroke: #2ca02c; stroke-width: 1.3"/><use href="#m8536452fce" x="182.13" y="591.01" style="fill: #2ca02c; stroke: #2ca02c; stroke-width: 1.3"/><use href="#m8536452fce" x="197.41" y="593.71" style="fill: #2ca02c; stroke: #2ca02c; stroke-width: 1.3"/><use href="#m8536452fce" x="208.25" y="598.70" style="fill: #2ca02c; stroke: #2ca02c; stroke-width: 1.3"/><use href="#m8536452fce" x="234.37" y="608.25" style="fill: #2ca02c; stroke: #2ca02c; stroke-width: 1.3"/><use href="#m8536452fce" x="249.65" y="610.12" style="fill: #2ca02c; stroke: #2ca02c; stroke-width: 1.3"/><use href="#m8536452fce" x="260.49" y="613.85" style="fill: #2ca02c; stroke: #2ca02c; stroke-width: 1.3"/><use href="#m8536452fce" x="268.90" y="615.51" style="fill: #2ca02c; stroke: #2ca02c; stroke-width: 1.3"/><use href="#m8536452fce" x="275.77" y="616.97" style="fill: #2ca02c; stroke: #2ca02c; stroke-width: 1.3"/><use href="#m8536452fce" x="286.61" y="620.08" style="fill: #2ca02c; stroke: #2ca02c; stroke-width: 1.3"/><use href="#m8536452fce" x="295.02" y="621.74" style="fill: #2ca02c; stroke: #2ca02c; stroke-width: 1.3"/><use href="#m8536452fce" x="301.89" y="622.16" style="fill: #2ca02c; stroke: #2ca02c; stroke-width: 1.3"/><use href="#m8536452fce" x="310.30" y="624.24" style="fill: #2ca02c; stroke: #2ca02c; stroke-width: 1.3"/></g></g><g><g clip-path="url(#peab2482843)"><use href="#m392b33b074" x="88.49" y="532.87" style="fill: #1f77b4"/><use href="#m392b33b074" x="114.61" y="538.48" style="fill: #1f77b4"/><use href="#m392b33b074" x="129.89" y="542.84" style="fill: #1f77b4"/><use href="#m392b33b074" x="140.73" y="546.37" style="fill: #1f77b4"/><use href="#m392b33b074" x="156.01" y="552.18" style="fill: #1f77b4"/><use href="#m392b33b074" x="166.85" y="556.34" style="fill: #1f77b4"/><use href="#m392b33b074" x="175.26" y="559.24" style="fill: #1f77b4"/><use href="#m392b33b074" x="182.13" y="561.53" style="fill: #1f77b4"/><use href="#m392b33b074" x="197.41" y="567.76" style="fill: #1f77b4"/><use href="#m392b33b074" x="208.25" y="570.87" style="fill: #1f77b4"/><use href="#m392b33b074" x="234.37" y="578.55" style="fill: #1f77b4"/><use href="#m392b33b074" x="249.65" y="582.71" style="fill: #1f77b4"/><use href="#m392b33b074" x="260.49" y="584.78" style="fill: #1f77b4"/><use href="#m392b33b074" x="268.90" y="586.86" style="fill: #1f77b4"/><use href="#m392b33b074" x="275.77" y="588.31" style="fill: #1f77b4"/><use href="#m392b33b074" x="286.61" y="591.01" style="fill: #1f77b4"/><use href="#m392b33b074" x="295.02" y="593.09" style="fill: #1f77b4"/><use href="#m392b33b074" x="301.89" y="594.54" style="fill: #1f77b4"/><use href="#m392b33b074" x="310.30" y="596.83" style="fill: #1f77b4"/></g></g><g><g clip-path="url(#peab2482843)"><use href="#mb3e0cefdb7" x="88.49" y="566.10" style="fill: #2ca02c"/><use href="#mb3e0cefdb7" x="114.61" y="569.21" style="fill: #2ca02c"/><use href="#mb3e0cefdb7" x="129.89" y="571.29" style="fill: #2ca02c"/><use href="#mb3e0cefdb7" x="140.73" y="571.70" style="fill: #2ca02c"/><use href="#mb3e0cefdb7" x="156.01" y="574.82" style="fill: #2ca02c"/><use href="#mb3e0cefdb7" x="166.85" y="578.14" style="fill: #2ca02c"/><use href="#mb3e0cefdb7" x="175.26" y="581.25" style="fill: #2ca02c"/><use href="#mb3e0cefdb7" x="182.13" y="583.33" style="fill: #2ca02c"/><use href="#mb3e0cefdb7" x="197.41" y="588.52" style="fill: #2ca02c"/><use href="#mb3e0cefdb7" x="208.25" y="593.09" style="fill: #2ca02c"/><use href="#mb3e0cefdb7" x="234.37" y="603.47" style="fill: #2ca02c"/><use href="#mb3e0cefdb7" x="249.65" y="605.55" style="fill: #2ca02c"/><use href="#mb3e0cefdb7" x="260.49" y="609.70" style="fill: #2ca02c"/><use href="#mb3e0cefdb7" x="268.90" y="610.74" style="fill: #2ca02c"/><use href="#mb3e0cefdb7" x="275.77" y="612.19" style="fill: #2ca02c"/><use href="#mb3e0cefdb7" x="286.61" y="615.51" style="fill: #2ca02c"/><use href="#mb3e0cefdb7" x="295.02" y="616.97" style="fill: #2ca02c"/><use href="#mb3e0cefdb7" x="301.89" y="617.59" style="fill: #2ca02c"/><use href="#mb3e0cefdb7" x="310.30" y="620.08" style="fill: #2ca02c"/></g></g><g><path d="M 77.4 634.3 L 77.4 510.5 " style="fill: none; stroke: #000000; stroke-width: 1.14; stroke-linejoin: miter; stroke-linecap: square"/></g><g><path d="M 321.4 634.3 L 321.4 510.5 " style="fill: none; stroke: #000000; stroke-width: 1.14; stroke-linejoin: miter; stroke-linecap: square"/></g><g><path d="M 77.4 634.3 L 321.4 634.3 " style="fill: none; stroke: #000000; stroke-width: 1.14; stroke-linejoin: miter; stroke-linecap: square"/></g><g><path d="M 77.4 510.5 L 321.4 510.5 " style="fill: none; stroke: #000000; stroke-width: 1.14; stroke-linejoin: miter; stroke-linecap: square"/></g><g><text style="font-size: 17.16px; font-family: 'DejaVu Sans', 'Liberation Sans', sans-serif; text-anchor: middle" x="199.4" y="502.82" transform="rotate(-0 199.4 502.82)">Nairobi</text></g></g><g><g><path d="M 345.5 634.3 L 589.5 634.3 L 589.5 510.5 L 345.5 510.5 z " style="fill: #ffffff"/></g><g><defs><path id="m658b8d6f02" d="M 356.59 -372.65 L 356.59 -370.57 L 360.35 -369.52 L 364.11 -368.47 L 367.86 -367.42 L 371.62 -366.37 L 375.38 -365.32 L 379.14 -364.27 L 382.90 -363.22 L 386.66 -362.16 L 390.42 -361.11 L 394.18 -360.06 L 397.94 -359.00 L 401.70 -357.95 L 405.46 -356.90 L 409.22 -355.84 L 412.98 -354.78 L 416.74 -353.73 L 420.50 -352.67 L 424.26 -351.61 L 428.02 -350.56 L 431.78 -349.50 L 435.54 -348.44 L 439.30 -347.38 L 443.06 -346.32 L 446.82 -345.26 L 450.58 -344.20 L 454.34 -343.14 L 458.10 -342.08 L 461.86 -341.02 L 465.62 -339.95 L 469.37 -338.89 L 473.13 -337.83 L 476.89 -336.76 L 480.65 -335.70 L 484.41 -334.64 L 488.17 -333.57 L 491.93 -332.51 L 495.69 -331.44 L 499.45 -330.37 L 503.21 -329.31 L 506.97 -328.24 L 510.73 -327.17 L 514.49 -326.10 L 518.25 -325.03 L 522.01 -323.96 L 525.77 -322.89 L 529.53 -321.82 L 533.29 -320.75 L 537.05 -319.68 L 540.81 -318.61 L 544.57 -317.54 L 548.33 -316.46 L 552.09 -315.39 L 555.85 -314.32 L 559.61 -313.24 L 563.37 -312.17 L 567.13 -311.09 L 570.88 -310.01 L 574.64 -308.94 L 578.40 -307.86 L 578.40 -313.68 L 578.40 -313.68 L 574.64 -314.56 L 570.88 -315.46 L 567.13 -316.35 L 563.37 -317.25 L 559.61 -318.16 L 555.85 -319.07 L 552.09 -319.98 L 548.33 -320.89 L 544.57 -321.81 L 540.81 -322.74 L 537.05 -323.66 L 533.29 -324.59 L 529.53 -325.53 L 525.77 -326.47 L 522.01 -327.41 L 518.25 -328.35 L 514.49 -329.30 L 510.73 -330.26 L 506.97 -331.22 L 503.21 -332.18 L 499.45 -333.14 L 495.69 -334.11 L 491.93 -335.08 L 488.17 -336.06 L 484.41 -337.04 L 480.65 -338.03 L 476.89 -339.01 L 473.13 -340.01 L 469.37 -341.00 L 465.62 -342.00 L 461.86 -343.00 L 458.10 -344.01 L 454.34 -345.02 L 450.58 -346.04 L 446.82 -347.05 L 443.06 -348.08 L 439.30 -349.10 L 435.54 -350.13 L 431.78 -351.17 L 428.02 -352.21 L 424.26 -353.25 L 420.50 -354.29 L 416.74 -355.34 L 412.98 -356.39 L 409.22 -357.45 L 405.46 -358.51 L 401.70 -359.58 L 397.94 -360.64 L 394.18 -361.72 L 390.42 -362.79 L 386.66 -363.87 L 382.90 -364.95 L 379.14 -366.04 L 375.38 -367.13 L 371.62 -368.23 L 367.86 -369.33 L 364.11 -370.43 L 360.35 -371.54 L 356.59 -372.65 z "/></defs><g clip-path="url(#pe0b69a8a8d)"><use href="#m658b8d6f02" x="0" y="902" style="fill: #1f77b4; fill-opacity: 0.25"/></g></g><g><defs><path id="m2fc9b1927d" d="M 356.59 -343.16 L 356.59 -335.89 L 360.35 -335.19 L 364.11 -334.49 L 367.86 -333.78 L 371.62 -333.08 L 375.38 -332.37 L 379.14 -331.67 L 382.90 -330.97 L 386.66 -330.26 L 390.42 -329.56 L 394.18 -328.85 L 397.94 -328.15 L 401.70 -327.45 L 405.46 -326.74 L 409.22 -326.04 L 412.98 -325.34 L 416.74 -324.63 L 420.50 -323.93 L 424.26 -323.22 L 428.02 -322.52 L 431.78 -321.82 L 435.54 -321.11 L 439.30 -320.41 L 443.06 -319.70 L 446.82 -319.00 L 450.58 -318.30 L 454.34 -317.59 L 458.10 -316.89 L 461.86 -316.19 L 465.62 -315.48 L 469.37 -314.78 L 473.13 -314.07 L 476.89 -313.37 L 480.65 -312.67 L 484.41 -311.96 L 488.17 -311.26 L 491.93 -310.55 L 495.69 -309.85 L 499.45 -309.15 L 503.21 -308.44 L 506.97 -307.74 L 510.73 -307.04 L 514.49 -306.33 L 518.25 -305.63 L 522.01 -304.92 L 525.77 -304.22 L 529.53 -303.52 L 533.29 -302.81 L 537.05 -302.11 L 540.81 -301.40 L 544.57 -300.70 L 548.33 -300.00 L 552.09 -299.29 L 555.85 -298.59 L 559.61 -297.88 L 563.37 -297.18 L 567.13 -296.48 L 570.88 -295.77 L 574.64 -295.07 L 578.40 -294.37 L 578.40 -303.71 L 578.40 -303.71 L 574.64 -304.31 L 570.88 -304.91 L 567.13 -305.51 L 563.37 -306.12 L 559.61 -306.73 L 555.85 -307.34 L 552.09 -307.96 L 548.33 -308.57 L 544.57 -309.19 L 540.81 -309.81 L 537.05 -310.43 L 533.29 -311.06 L 529.53 -311.69 L 525.77 -312.32 L 522.01 -312.95 L 518.25 -313.59 L 514.49 -314.22 L 510.73 -314.87 L 506.97 -315.51 L 503.21 -316.15 L 499.45 -316.80 L 495.69 -317.45 L 491.93 -318.10 L 488.17 -318.76 L 484.41 -319.41 L 480.65 -320.07 L 476.89 -320.73 L 473.13 -321.40 L 469.37 -322.06 L 465.62 -322.73 L 461.86 -323.40 L 458.10 -324.08 L 454.34 -324.75 L 450.58 -325.43 L 446.82 -326.11 L 443.06 -326.79 L 439.30 -327.48 L 435.54 -328.17 L 431.78 -328.86 L 428.02 -329.55 L 424.26 -330.24 L 420.50 -330.94 L 416.74 -331.64 L 412.98 -332.34 L 409.22 -333.05 L 405.46 -333.75 L 401.70 -334.46 L 397.94 -335.18 L 394.18 -335.89 L 390.42 -336.61 L 386.66 -337.32 L 382.90 -338.05 L 379.14 -338.77 L 375.38 -339.50 L 371.62 -340.22 L 367.86 -340.95 L 364.11 -341.69 L 360.35 -342.42 L 356.59 -343.16 z "/></defs><g clip-path="url(#pe0b69a8a8d)"><use href="#m2fc9b1927d" x="0" y="902" style="fill: #2ca02c; fill-opacity: 0.25"/></g></g><g><use href="#m2c01bbbdb9" x="356.59" y="634.3" style="stroke: #000000; stroke-width: 1.14"/><use href="#m2c01bbbdb9" x="397.99" y="634.3" style="stroke: #000000; stroke-width: 1.14"/><use href="#m2c01bbbdb9" x="424.11" y="634.3" style="stroke: #000000; stroke-width: 1.14"/><use href="#m2c01bbbdb9" x="450.23" y="634.3" style="stroke: #000000; stroke-width: 1.14"/><use href="#m2c01bbbdb9" x="476.35" y="634.3" style="stroke: #000000; stroke-width: 1.14"/><use href="#m2c01bbbdb9" x="502.47" y="634.3" style="stroke: #000000; stroke-width: 1.14"/><use href="#m2c01bbbdb9" x="537.00" y="634.3" style="stroke: #000000; stroke-width: 1.14"/><use href="#m2c01bbbdb9" x="578.40" y="634.3" style="stroke: #000000; stroke-width: 1.14"/><use href="#m645ac34a00" x="348.18" y="634.3" style="stroke: #000000; stroke-width: 0.85"/><use href="#m645ac34a00" x="352.62" y="634.3" style="stroke: #000000; stroke-width: 0.85"/><use href="#m645ac34a00" x="382.71" y="634.3" style="stroke: #000000; stroke-width: 0.85"/><use href="#m645ac34a00" x="408.83" y="634.3" style="stroke: #000000; stroke-width: 0.85"/><use href="#m645ac34a00" x="417.24" y="634.3" style="stroke: #000000; stroke-width: 0.85"/><use href="#m645ac34a00" x="429.92" y="634.3" style="stroke: #000000; stroke-width: 0.85"/><use href="#m645ac34a00" x="434.95" y="634.3" style="stroke: #000000; stroke-width: 0.85"/><use href="#m645ac34a00" x="439.39" y="634.3" style="stroke: #000000; stroke-width: 0.85"/><use href="#m645ac34a00" x="469.48" y="634.3" style="stroke: #000000; stroke-width: 0.85"/><use href="#m645ac34a00" x="484.76" y="634.3" style="stroke: #000000; stroke-width: 0.85"/><use href="#m645ac34a00" x="495.60" y="634.3" style="stroke: #000000; stroke-width: 0.85"/><use href="#m645ac34a00" x="504.01" y="634.3" style="stroke: #000000; stroke-width: 0.85"/><use href="#m645ac34a00" x="510.88" y="634.3" style="stroke: #000000; stroke-width: 0.85"/><use href="#m645ac34a00" x="516.69" y="634.3" style="stroke: #000000; stroke-width: 0.85"/><use href="#m645ac34a00" x="521.72" y="634.3" style="stroke: #000000; stroke-width: 0.85"/><use href="#m645ac34a00" x="526.16" y="634.3" style="stroke: #000000; stroke-width: 0.85"/><use href="#m645ac34a00" x="556.25" y="634.3" style="stroke: #000000; stroke-width: 0.85"/><use href="#m645ac34a00" x="571.53" y="634.3" style="stroke: #000000; stroke-width: 0.85"/><use href="#m645ac34a00" x="582.37" y="634.3" style="stroke: #000000; stroke-width: 0.85"/></g><g><use href="#m370a196e71" x="345.5" y="618.3" style="stroke: #000000; stroke-width: 1.14"/><use href="#m370a196e71" x="345.5" y="572.9" style="stroke: #000000; stroke-width: 1.14"/><use href="#m370a196e71" x="345.5" y="527.5" style="stroke: #000000; stroke-width: 1.14"/><use href="#m23b3c730b1" x="345.5" y="631.96" style="stroke: #000000; stroke-width: 0.85"/><use href="#m23b3c730b1" x="345.5" y="628.37" style="stroke: #000000; stroke-width: 0.85"/><use href="#m23b3c730b1" x="345.5" y="625.33" style="stroke: #000000; stroke-width: 0.85"/><use href="#m23b3c730b1" x="345.5" y="622.69" style="stroke: #000000; stroke-width: 0.85"/><use href="#m23b3c730b1" x="345.5" y="620.37" style="stroke: #000000; stroke-width: 0.85"/><use href="#m23b3c730b1" x="345.5" y="604.63" style="stroke: #000000; stroke-width: 0.85"/><use href="#m23b3c730b1" x="345.5" y="596.63" style="stroke: #000000; stroke-width: 0.85"/><use href="#m23b3c730b1" x="345.5" y="590.96" style="stroke: #000000; stroke-width: 0.85"/><use href="#m23b3c730b1" x="345.5" y="586.56" style="stroke: #000000; stroke-width: 0.85"/><use href="#m23b3c730b1" x="345.5" y="582.97" style="stroke: #000000; stroke-width: 0.85"/><use href="#m23b3c730b1" x="345.5" y="579.93" style="stroke: #000000; stroke-width: 0.85"/><use href="#m23b3c730b1" x="345.5" y="577.29" style="stroke: #000000; stroke-width: 0.85"/><use href="#m23b3c730b1" x="345.5" y="574.97" style="stroke: #000000; stroke-width: 0.85"/><use href="#m23b3c730b1" x="345.5" y="559.23" style="stroke: #000000; stroke-width: 0.85"/><use href="#m23b3c730b1" x="345.5" y="551.23" style="stroke: #000000; stroke-width: 0.85"/><use href="#m23b3c730b1" x="345.5" y="545.56" style="stroke: #000000; stroke-width: 0.85"/><use href="#m23b3c730b1" x="345.5" y="541.16" style="stroke: #000000; stroke-width: 0.85"/><use href="#m23b3c730b1" x="345.5" y="537.57" style="stroke: #000000; stroke-width: 0.85"/><use href="#m23b3c730b1" x="345.5" y="534.53" style="stroke: #000000; stroke-width: 0.85"/><use href="#m23b3c730b1" x="345.5" y="531.89" style="stroke: #000000; stroke-width: 0.85"/><use href="#m23b3c730b1" x="345.5" y="529.57" style="stroke: #000000; stroke-width: 0.85"/><use href="#m23b3c730b1" x="345.5" y="513.83" style="stroke: #000000; stroke-width: 0.85"/></g><g><path d="M 356.59 530.38 L 578.40 593.09 " clip-path="url(#pe0b69a8a8d)" style="fill: none; stroke: #1f77b4; stroke-width: 1.6; stroke-linecap: square"/></g><g><path d="M 356.59 561.94 L 578.40 603.47 " clip-path="url(#pe0b69a8a8d)" style="fill: none; stroke: #2ca02c; stroke-width: 1.6; stroke-linecap: square"/></g><g><g clip-path="url(#pe0b69a8a8d)"><use href="#m92d5d42935" x="356.59" y="539.93" style="fill: #1f77b4; stroke: #1f77b4; stroke-width: 1.3"/><use href="#m92d5d42935" x="382.71" y="540.97" style="fill: #1f77b4; stroke: #1f77b4; stroke-width: 1.3"/><use href="#m92d5d42935" x="397.99" y="542.01" style="fill: #1f77b4; stroke: #1f77b4; stroke-width: 1.3"/><use href="#m92d5d42935" x="408.83" y="543.05" style="fill: #1f77b4; stroke: #1f77b4; stroke-width: 1.3"/><use href="#m92d5d42935" x="424.11" y="545.12" style="fill: #1f77b4; stroke: #1f77b4; stroke-width: 1.3"/><use href="#m92d5d42935" x="434.95" y="546.79" style="fill: #1f77b4; stroke: #1f77b4; stroke-width: 1.3"/><use href="#m92d5d42935" x="443.36" y="548.65" style="fill: #1f77b4; stroke: #1f77b4; stroke-width: 1.3"/><use href="#m92d5d42935" x="450.23" y="550.11" style="fill: #1f77b4; stroke: #1f77b4; stroke-width: 1.3"/><use href="#m92d5d42935" x="465.51" y="553.43" style="fill: #1f77b4; stroke: #1f77b4; stroke-width: 1.3"/><use href="#m92d5d42935" x="476.35" y="556.34" style="fill: #1f77b4; stroke: #1f77b4; stroke-width: 1.3"/><use href="#m92d5d42935" x="502.47" y="564.64" style="fill: #1f77b4; stroke: #1f77b4; stroke-width: 1.3"/><use href="#m92d5d42935" x="517.75" y="571.08" style="fill: #1f77b4; stroke: #1f77b4; stroke-width: 1.3"/><use href="#m92d5d42935" x="528.59" y="574.82" style="fill: #1f77b4; stroke: #1f77b4; stroke-width: 1.3"/><use href="#m92d5d42935" x="537.00" y="577.93" style="fill: #1f77b4; stroke: #1f77b4; stroke-width: 1.3"/><use href="#m92d5d42935" x="543.87" y="580.42" style="fill: #1f77b4; stroke: #1f77b4; stroke-width: 1.3"/><use href="#m92d5d42935" x="554.71" y="584.37" style="fill: #1f77b4; stroke: #1f77b4; stroke-width: 1.3"/><use href="#m92d5d42935" x="563.12" y="588.11" style="fill: #1f77b4; stroke: #1f77b4; stroke-width: 1.3"/><use href="#m92d5d42935" x="569.99" y="589.77" style="fill: #1f77b4; stroke: #1f77b4; stroke-width: 1.3"/><use href="#m92d5d42935" x="578.40" y="592.88" style="fill: #1f77b4; stroke: #1f77b4; stroke-width: 1.3"/></g></g><g><g clip-path="url(#pe0b69a8a8d)"><use href="#m92d5d42935" x="356.59" y="542.43" style="fill: #1f77b4; stroke: #1f77b4; stroke-width: 1.3"/><use href="#m92d5d42935" x="382.71" y="543.46" style="fill: #1f77b4; stroke: #1f77b4; stroke-width: 1.3"/><use href="#m92d5d42935" x="397.99" y="544.50" style="fill: #1f77b4; stroke: #1f77b4; stroke-width: 1.3"/><use href="#m92d5d42935" x="408.83" y="545.54" style="fill: #1f77b4; stroke: #1f77b4; stroke-width: 1.3"/><use href="#m92d5d42935" x="424.11" y="547.62" style="fill: #1f77b4; stroke: #1f77b4; stroke-width: 1.3"/><use href="#m92d5d42935" x="434.95" y="549.28" style="fill: #1f77b4; stroke: #1f77b4; stroke-width: 1.3"/><use href="#m92d5d42935" x="443.36" y="551.56" style="fill: #1f77b4; stroke: #1f77b4; stroke-width: 1.3"/><use href="#m92d5d42935" x="450.23" y="553.01" style="fill: #1f77b4; stroke: #1f77b4; stroke-width: 1.3"/><use href="#m92d5d42935" x="465.51" y="556.75" style="fill: #1f77b4; stroke: #1f77b4; stroke-width: 1.3"/><use href="#m92d5d42935" x="476.35" y="560.07" style="fill: #1f77b4; stroke: #1f77b4; stroke-width: 1.3"/><use href="#m92d5d42935" x="502.47" y="569.63" style="fill: #1f77b4; stroke: #1f77b4; stroke-width: 1.3"/><use href="#m92d5d42935" x="517.75" y="576.48" style="fill: #1f77b4; stroke: #1f77b4; stroke-width: 1.3"/><use href="#m92d5d42935" x="528.59" y="580.22" style="fill: #1f77b4; stroke: #1f77b4; stroke-width: 1.3"/><use href="#m92d5d42935" x="537.00" y="583.33" style="fill: #1f77b4; stroke: #1f77b4; stroke-width: 1.3"/><use href="#m92d5d42935" x="543.87" y="585.82" style="fill: #1f77b4; stroke: #1f77b4; stroke-width: 1.3"/><use href="#m92d5d42935" x="554.71" y="590.18" style="fill: #1f77b4; stroke: #1f77b4; stroke-width: 1.3"/><use href="#m92d5d42935" x="563.12" y="593.92" style="fill: #1f77b4; stroke: #1f77b4; stroke-width: 1.3"/><use href="#m92d5d42935" x="569.99" y="595.58" style="fill: #1f77b4; stroke: #1f77b4; stroke-width: 1.3"/><use href="#m92d5d42935" x="578.40" y="598.70" style="fill: #1f77b4; stroke: #1f77b4; stroke-width: 1.3"/></g></g><g><g clip-path="url(#pe0b69a8a8d)"><use href="#m8536452fce" x="356.59" y="567.55" style="fill: #2ca02c; stroke: #2ca02c; stroke-width: 1.3"/><use href="#m8536452fce" x="382.71" y="568.59" style="fill: #2ca02c; stroke: #2ca02c; stroke-width: 1.3"/><use href="#m8536452fce" x="397.99" y="569.21" style="fill: #2ca02c; stroke: #2ca02c; stroke-width: 1.3"/><use href="#m8536452fce" x="408.83" y="569.21" style="fill: #2ca02c; stroke: #2ca02c; stroke-width: 1.3"/><use href="#m8536452fce" x="424.11" y="569.63" style="fill: #2ca02c; stroke: #2ca02c; stroke-width: 1.3"/><use href="#m8536452fce" x="434.95" y="570.66" style="fill: #2ca02c; stroke: #2ca02c; stroke-width: 1.3"/><use href="#m8536452fce" x="443.36" y="571.29" style="fill: #2ca02c; stroke: #2ca02c; stroke-width: 1.3"/><use href="#m8536452fce" x="450.23" y="571.29" style="fill: #2ca02c; stroke: #2ca02c; stroke-width: 1.3"/><use href="#m8536452fce" x="465.51" y="572.33" style="fill: #2ca02c; stroke: #2ca02c; stroke-width: 1.3"/><use href="#m8536452fce" x="476.35" y="573.99" style="fill: #2ca02c; stroke: #2ca02c; stroke-width: 1.3"/><use href="#m8536452fce" x="502.47" y="578.97" style="fill: #2ca02c; stroke: #2ca02c; stroke-width: 1.3"/><use href="#m8536452fce" x="517.75" y="583.75" style="fill: #2ca02c; stroke: #2ca02c; stroke-width: 1.3"/><use href="#m8536452fce" x="528.59" y="587.90" style="fill: #2ca02c; stroke: #2ca02c; stroke-width: 1.3"/><use href="#m8536452fce" x="537.00" y="591.01" style="fill: #2ca02c; stroke: #2ca02c; stroke-width: 1.3"/><use href="#m8536452fce" x="543.87" y="594.13" style="fill: #2ca02c; stroke: #2ca02c; stroke-width: 1.3"/><use href="#m8536452fce" x="554.71" y="598.70" style="fill: #2ca02c; stroke: #2ca02c; stroke-width: 1.3"/><use href="#m8536452fce" x="563.12" y="600.36" style="fill: #2ca02c; stroke: #2ca02c; stroke-width: 1.3"/><use href="#m8536452fce" x="569.99" y="602.02" style="fill: #2ca02c; stroke: #2ca02c; stroke-width: 1.3"/><use href="#m8536452fce" x="578.40" y="604.51" style="fill: #2ca02c; stroke: #2ca02c; stroke-width: 1.3"/></g></g><g><g clip-path="url(#pe0b69a8a8d)"><use href="#m8536452fce" x="356.59" y="575.02" style="fill: #2ca02c; stroke: #2ca02c; stroke-width: 1.3"/><use href="#m8536452fce" x="382.71" y="575.86" style="fill: #2ca02c; stroke: #2ca02c; stroke-width: 1.3"/><use href="#m8536452fce" x="397.99" y="575.86" style="fill: #2ca02c; stroke: #2ca02c; stroke-width: 1.3"/><use href="#m8536452fce" x="408.83" y="576.48" style="fill: #2ca02c; stroke: #2ca02c; stroke-width: 1.3"/><use href="#m8536452fce" x="424.11" y="577.10" style="fill: #2ca02c; stroke: #2ca02c; stroke-width: 1.3"/><use href="#m8536452fce" x="434.95" y="577.52" style="fill: #2ca02c; stroke: #2ca02c; stroke-width: 1.3"/><use href="#m8536452fce" x="443.36" y="577.52" style="fill: #2ca02c; stroke: #2ca02c; stroke-width: 1.3"/><use href="#m8536452fce" x="450.23" y="578.14" style="fill: #2ca02c; stroke: #2ca02c; stroke-width: 1.3"/><use href="#m8536452fce" x="465.51" y="582.08" style="fill: #2ca02c; stroke: #2ca02c; stroke-width: 1.3"/><use href="#m8536452fce" x="476.35" y="583.75" style="fill: #2ca02c; stroke: #2ca02c; stroke-width: 1.3"/><use href="#m8536452fce" x="502.47" y="588.52" style="fill: #2ca02c; stroke: #2ca02c; stroke-width: 1.3"/><use href="#m8536452fce" x="517.75" y="592.67" style="fill: #2ca02c; stroke: #2ca02c; stroke-width: 1.3"/><use href="#m8536452fce" x="528.59" y="596.83" style="fill: #2ca02c; stroke: #2ca02c; stroke-width: 1.3"/><use href="#m8536452fce" x="537.00" y="599.94" style="fill: #2ca02c; stroke: #2ca02c; stroke-width: 1.3"/><use href="#m8536452fce" x="543.87" y="603.89" style="fill: #2ca02c; stroke: #2ca02c; stroke-width: 1.3"/><use href="#m8536452fce" x="554.71" y="608.25" style="fill: #2ca02c; stroke: #2ca02c; stroke-width: 1.3"/><use href="#m8536452fce" x="563.12" y="610.74" style="fill: #2ca02c; stroke: #2ca02c; stroke-width: 1.3"/><use href="#m8536452fce" x="569.99" y="613.23" style="fill: #2ca02c; stroke: #2ca02c; stroke-width: 1.3"/><use href="#m8536452fce" x="578.40" y="615.31" style="fill: #2ca02c; stroke: #2ca02c; stroke-width: 1.3"/></g></g><g><g clip-path="url(#pe0b69a8a8d)"><use href="#m392b33b074" x="356.59" y="541.18" style="fill: #1f77b4"/><use href="#m392b33b074" x="382.71" y="542.22" style="fill: #1f77b4"/><use href="#m392b33b074" x="397.99" y="543.26" style="fill: #1f77b4"/><use href="#m392b33b074" x="408.83" y="544.29" style="fill: #1f77b4"/><use href="#m392b33b074" x="424.11" y="546.37" style="fill: #1f77b4"/><use href="#m392b33b074" x="434.95" y="548.03" style="fill: #1f77b4"/><use href="#m392b33b074" x="443.36" y="550.11" style="fill: #1f77b4"/><use href="#m392b33b074" x="450.23" y="551.56" style="fill: #1f77b4"/><use href="#m392b33b074" x="465.51" y="555.09" style="fill: #1f77b4"/><use href="#m392b33b074" x="476.35" y="558.21" style="fill: #1f77b4"/><use href="#m392b33b074" x="502.47" y="567.13" style="fill: #1f77b4"/><use href="#m392b33b074" x="517.75" y="573.78" style="fill: #1f77b4"/><use href="#m392b33b074" x="528.59" y="577.52" style="fill: #1f77b4"/><use href="#m392b33b074" x="537.00" y="580.63" style="fill: #1f77b4"/><use href="#m392b33b074" x="543.87" y="583.12" style="fill: #1f77b4"/><use href="#m392b33b074" x="554.71" y="587.28" style="fill: #1f77b4"/><use href="#m392b33b074" x="563.12" y="591.01" style="fill: #1f77b4"/><use href="#m392b33b074" x="569.99" y="592.67" style="fill: #1f77b4"/><use href="#m392b33b074" x="578.40" y="595.79" style="fill: #1f77b4"/></g></g><g><g clip-path="url(#pe0b69a8a8d)"><use href="#mb3e0cefdb7" x="356.59" y="570.25" style="fill: #2ca02c"/><use href="#mb3e0cefdb7" x="382.71" y="571.29" style="fill: #2ca02c"/><use href="#mb3e0cefdb7" x="397.99" y="571.29" style="fill: #2ca02c"/><use href="#mb3e0cefdb7" x="408.83" y="571.70" style="fill: #2ca02c"/><use href="#mb3e0cefdb7" x="424.11" y="572.74" style="fill: #2ca02c"/><use href="#mb3e0cefdb7" x="434.95" y="573.78" style="fill: #2ca02c"/><use href="#mb3e0cefdb7" x="443.36" y="573.99" style="fill: #2ca02c"/><use href="#mb3e0cefdb7" x="450.23" y="574.82" style="fill: #2ca02c"/><use href="#mb3e0cefdb7" x="465.51" y="576.89" style="fill: #2ca02c"/><use href="#mb3e0cefdb7" x="476.35" y="578.55" style="fill: #2ca02c"/><use href="#mb3e0cefdb7" x="502.47" y="583.12" style="fill: #2ca02c"/><use href="#mb3e0cefdb7" x="517.75" y="587.90" style="fill: #2ca02c"/><use href="#mb3e0cefdb7" x="528.59" y="592.05" style="fill: #2ca02c"/><use href="#mb3e0cefdb7" x="537.00" y="594.54" style="fill: #2ca02c"/><use href="#mb3e0cefdb7" x="543.87" y="597.87" style="fill: #2ca02c"/><use href="#mb3e0cefdb7" x="554.71" y="602.43" style="fill: #2ca02c"/><use href="#mb3e0cefdb7" x="563.12" y="604.51" style="fill: #2ca02c"/><use href="#mb3e0cefdb7" x="569.99" y="606.17" style="fill: #2ca02c"/><use href="#mb3e0cefdb7" x="578.40" y="608.25" style="fill: #2ca02c"/></g></g><g><path d="M 345.5 634.3 L 345.5 510.5 " style="fill: none; stroke: #000000; stroke-width: 1.14; stroke-linejoin: miter; stroke-linecap: square"/></g><g><path d="M 589.5 634.3 L 589.5 510.5 " style="fill: none; stroke: #000000; stroke-width: 1.14; stroke-linejoin: miter; stroke-linecap: square"/></g><g><path d="M 345.5 634.3 L 589.5 634.3 " style="fill: none; stroke: #000000; stroke-width: 1.14; stroke-linejoin: miter; stroke-linecap: square"/></g><g><path d="M 345.5 510.5 L 589.5 510.5 " style="fill: none; stroke: #000000; stroke-width: 1.14; stroke-linejoin: miter; stroke-linecap: square"/></g><g><text style="font-size: 17.16px; font-family: 'DejaVu Sans', 'Liberation Sans', sans-serif; text-anchor: middle" x="467.5" y="502.82" transform="rotate(-0 467.5 502.82)">Santiago</text></g></g><g><g><path d="M 77.4 797.3 L 321.4 797.3 L 321.4 673.5 L 77.4 673.5 z " style="fill: #ffffff"/></g><g><defs><path id="m4e6b2b186a" d="M 88.49 -207.99 L 88.49 -206.32 L 92.25 -205.24 L 96.01 -204.16 L 99.76 -203.08 L 103.52 -202.00 L 107.28 -200.93 L 111.04 -199.85 L 114.80 -198.79 L 118.56 -197.72 L 122.32 -196.66 L 126.08 -195.60 L 129.84 -194.55 L 133.60 -193.50 L 137.36 -192.45 L 141.12 -191.40 L 144.88 -190.36 L 148.64 -189.32 L 152.40 -188.29 L 156.16 -187.25 L 159.92 -186.22 L 163.68 -185.19 L 167.44 -184.17 L 171.20 -183.15 L 174.96 -182.13 L 178.72 -181.12 L 182.48 -180.11 L 186.24 -179.10 L 190.00 -178.09 L 193.76 -177.09 L 197.52 -176.09 L 201.27 -175.10 L 205.03 -174.10 L 208.79 -173.11 L 212.55 -172.13 L 216.31 -171.14 L 220.07 -170.16 L 223.83 -169.18 L 227.59 -168.21 L 231.35 -167.24 L 235.11 -166.27 L 238.87 -165.31 L 242.63 -164.34 L 246.39 -163.39 L 250.15 -162.43 L 253.91 -161.48 L 257.67 -160.53 L 261.43 -159.58 L 265.19 -158.64 L 268.95 -157.70 L 272.71 -156.76 L 276.47 -155.83 L 280.23 -154.90 L 283.99 -153.97 L 287.75 -153.04 L 291.51 -152.12 L 295.27 -151.20 L 299.03 -150.29 L 302.78 -149.38 L 306.54 -148.47 L 310.30 -147.56 L 310.30 -149.22 L 310.30 -149.22 L 306.54 -150.13 L 302.78 -151.04 L 299.03 -151.95 L 295.27 -152.87 L 291.51 -153.78 L 287.75 -154.71 L 283.99 -155.63 L 280.23 -156.56 L 276.47 -157.49 L 272.71 -158.42 L 268.95 -159.36 L 265.19 -160.30 L 261.43 -161.24 L 257.67 -162.19 L 253.91 -163.14 L 250.15 -164.09 L 246.39 -165.05 L 242.63 -166.01 L 238.87 -166.97 L 235.11 -167.93 L 231.35 -168.90 L 227.59 -169.87 L 223.83 -170.85 L 220.07 -171.82 L 216.31 -172.80 L 212.55 -173.79 L 208.79 -174.77 L 205.03 -175.76 L 201.27 -176.76 L 197.52 -177.75 L 193.76 -178.75 L 190.00 -179.75 L 186.24 -180.76 L 182.48 -181.77 L 178.72 -182.78 L 174.96 -183.79 L 171.20 -184.81 L 167.44 -185.83 L 163.68 -186.86 L 159.92 -187.88 L 156.16 -188.91 L 152.40 -189.95 L 148.64 -190.98 L 144.88 -192.02 L 141.12 -193.06 L 137.36 -194.11 L 133.60 -195.16 L 129.84 -196.21 L 126.08 -197.27 L 122.32 -198.32 L 118.56 -199.38 L 114.80 -200.45 L 111.04 -201.52 L 107.28 -202.59 L 103.52 -203.66 L 99.76 -204.74 L 96.01 -205.82 L 92.25 -206.90 L 88.49 -207.99 z "/></defs><g clip-path="url(#pc2e4bc1139)"><use href="#m4e6b2b186a" x="0" y="902" style="fill: #1f77b4; fill-opacity: 0.25"/></g></g><g><defs><path id="mc9b7132203" d="M 88.49 -183.90 L 88.49 -167.70 L 92.25 -166.80 L 96.01 -165.91 L 99.76 -165.00 L 103.52 -164.10 L 107.28 -163.20 L 111.04 -162.30 L 114.80 -161.39 L 118.56 -160.49 L 122.32 -159.58 L 126.08 -158.67 L 129.84 -157.76 L 133.60 -156.85 L 137.36 -155.94 L 141.12 -155.02 L 144.88 -154.11 L 148.64 -153.19 L 152.40 -152.27 L 156.16 -151.36 L 159.92 -150.44 L 163.68 -149.52 L 167.44 -148.59 L 171.20 -147.67 L 174.96 -146.75 L 178.72 -145.82 L 182.48 -144.89 L 186.24 -143.97 L 190.00 -143.04 L 193.76 -142.11 L 197.52 -141.18 L 201.27 -140.24 L 205.03 -139.31 L 208.79 -138.37 L 212.55 -137.44 L 216.31 -136.50 L 220.07 -135.56 L 223.83 -134.62 L 227.59 -133.68 L 231.35 -132.74 L 235.11 -131.80 L 238.87 -130.85 L 242.63 -129.91 L 246.39 -128.96 L 250.15 -128.01 L 253.91 -127.06 L 257.67 -126.11 L 261.43 -125.16 L 265.19 -124.21 L 268.95 -123.25 L 272.71 -122.30 L 276.47 -121.34 L 280.23 -120.38 L 283.99 -119.42 L 287.75 -118.46 L 291.51 -117.50 L 295.27 -116.54 L 299.03 -115.58 L 302.78 -114.61 L 306.54 -113.64 L 310.30 -112.68 L 310.30 -119.95 L 310.30 -119.95 L 306.54 -120.90 L 302.78 -121.87 L 299.03 -122.84 L 295.27 -123.81 L 291.51 -124.79 L 287.75 -125.77 L 283.99 -126.75 L 280.23 -127.74 L 276.47 -128.73 L 272.71 -129.73 L 268.95 -130.73 L 265.19 -131.74 L 261.43 -132.75 L 257.67 -133.77 L 253.91 -134.79 L 250.15 -135.81 L 246.39 -136.84 L 242.63 -137.87 L 238.87 -138.91 L 235.11 -139.95 L 231.35 -140.99 L 227.59 -142.04 L 223.83 -143.10 L 220.07 -144.16 L 216.31 -145.22 L 212.55 -146.29 L 208.79 -147.36 L 205.03 -148.43 L 201.27 -149.51 L 197.52 -150.60 L 193.76 -151.68 L 190.00 -152.78 L 186.24 -153.87 L 182.48 -154.97 L 178.72 -156.08 L 174.96 -157.19 L 171.20 -158.30 L 167.44 -159.42 L 163.68 -160.54 L 159.92 -161.67 L 156.16 -162.80 L 152.40 -163.94 L 148.64 -165.08 L 144.88 -166.22 L 141.12 -167.37 L 137.36 -168.52 L 133.60 -169.68 L 129.84 -170.84 L 126.08 -172.01 L 122.32 -173.18 L 118.56 -174.35 L 114.80 -175.53 L 111.04 -176.71 L 107.28 -177.90 L 103.52 -179.09 L 99.76 -180.29 L 96.01 -181.49 L 92.25 -182.69 L 88.49 -183.90 z "/></defs><g clip-path="url(#pc2e4bc1139)"><use href="#mc9b7132203" x="0" y="902" style="fill: #2ca02c; fill-opacity: 0.25"/></g></g><g><g><g><g><use href="#m2c01bbbdb9" x="88.49" y="797.3" style="stroke: #000000; stroke-width: 1.14"/></g></g><g><text style="font-size: 14.3px; font-family: 'DejaVu Sans', 'Liberation Sans', sans-serif; text-anchor: middle" x="88.49" y="818.87" transform="rotate(-0 88.49 818.87)">1</text></g></g><g><g><g><use href="#m2c01bbbdb9" x="129.89" y="797.3" style="stroke: #000000; stroke-width: 1.14"/></g></g><g><text style="font-size: 14.3px; font-family: 'DejaVu Sans', 'Liberation Sans', sans-serif; text-anchor: middle" x="129.89" y="818.87" transform="rotate(-0 129.89 818.87)">3</text></g></g><g><g><g><use href="#m2c01bbbdb9" x="156.01" y="797.3" style="stroke: #000000; stroke-width: 1.14"/></g></g><g><text style="font-size: 14.3px; font-family: 'DejaVu Sans', 'Liberation Sans', sans-serif; text-anchor: middle" x="156.01" y="818.87" transform="rotate(-0 156.01 818.87)">6</text></g></g><g><g><g><use href="#m2c01bbbdb9" x="182.13" y="797.3" style="stroke: #000000; stroke-width: 1.14"/></g></g><g><text style="font-size: 14.3px; font-family: 'DejaVu Sans', 'Liberation Sans', sans-serif; text-anchor: middle" x="182.13" y="818.87" transform="rotate(-0 182.13 818.87)">12</text></g></g><g><g><g><use href="#m2c01bbbdb9" x="208.25" y="797.3" style="stroke: #000000; stroke-width: 1.14"/></g></g><g><text style="font-size: 14.3px; font-family: 'DejaVu Sans', 'Liberation Sans', sans-serif; text-anchor: middle" x="208.25" y="818.87" transform="rotate(-0 208.25 818.87)">24</text></g></g><g><g><g><use href="#m2c01bbbdb9" x="234.37" y="797.3" style="stroke: #000000; stroke-width: 1.14"/></g></g><g><text style="font-size: 14.3px; font-family: 'DejaVu Sans', 'Liberation Sans', sans-serif; text-anchor: middle" x="234.37" y="818.87" transform="rotate(-0 234.37 818.87)">48</text></g></g><g><g><g><use href="#m2c01bbbdb9" x="268.90" y="797.3" style="stroke: #000000; stroke-width: 1.14"/></g></g><g><text style="font-size: 14.3px; font-family: 'DejaVu Sans', 'Liberation Sans', sans-serif; text-anchor: middle" x="268.90" y="818.87" transform="rotate(-0 268.90 818.87)">120</text></g></g><g><g><g><use href="#m2c01bbbdb9" x="310.30" y="797.3" style="stroke: #000000; stroke-width: 1.14"/></g></g><g><text style="font-size: 14.3px; font-family: 'DejaVu Sans', 'Liberation Sans', sans-serif; text-anchor: middle" x="310.30" y="818.87" transform="rotate(-0 310.30 818.87)">360</text></g></g><use href="#m645ac34a00" x="80.08" y="797.3" style="stroke: #000000; stroke-width: 0.85"/><use href="#m645ac34a00" x="84.52" y="797.3" style="stroke: #000000; stroke-width: 0.85"/><use href="#m645ac34a00" x="114.61" y="797.3" style="stroke: #000000; stroke-width: 0.85"/><use href="#m645ac34a00" x="140.73" y="797.3" style="stroke: #000000; stroke-width: 0.85"/><use href="#m645ac34a00" x="149.14" y="797.3" style="stroke: #000000; stroke-width: 0.85"/><use href="#m645ac34a00" x="161.82" y="797.3" style="stroke: #000000; stroke-width: 0.85"/><use href="#m645ac34a00" x="166.85" y="797.3" style="stroke: #000000; stroke-width: 0.85"/><use href="#m645ac34a00" x="171.29" y="797.3" style="stroke: #000000; stroke-width: 0.85"/><use href="#m645ac34a00" x="201.38" y="797.3" style="stroke: #000000; stroke-width: 0.85"/><use href="#m645ac34a00" x="216.66" y="797.3" style="stroke: #000000; stroke-width: 0.85"/><use href="#m645ac34a00" x="227.50" y="797.3" style="stroke: #000000; stroke-width: 0.85"/><use href="#m645ac34a00" x="235.91" y="797.3" style="stroke: #000000; stroke-width: 0.85"/><use href="#m645ac34a00" x="242.78" y="797.3" style="stroke: #000000; stroke-width: 0.85"/><use href="#m645ac34a00" x="248.59" y="797.3" style="stroke: #000000; stroke-width: 0.85"/><use href="#m645ac34a00" x="253.62" y="797.3" style="stroke: #000000; stroke-width: 0.85"/><use href="#m645ac34a00" x="258.06" y="797.3" style="stroke: #000000; stroke-width: 0.85"/><use href="#m645ac34a00" x="288.15" y="797.3" style="stroke: #000000; stroke-width: 0.85"/><use href="#m645ac34a00" x="303.43" y="797.3" style="stroke: #000000; stroke-width: 0.85"/><use href="#m645ac34a00" x="314.27" y="797.3" style="stroke: #000000; stroke-width: 0.85"/><g><g transform="translate(166.86 838.53)"><text><tspan x="0" y="-0.35" style="font-style: oblique; font-size: 14.3px; font-family: 'DejaVu Sans', 'Liberation Sans', sans-serif">d</tspan><tspan x="9.04" y="-0.35" style="font-size: 14.3px; font-family: 'DejaVu Sans', 'Liberation Sans', sans-serif"></tspan><tspan x="13.57" y="-0.35" style="font-size: 14.3px; font-family: 'DejaVu Sans', 'Liberation Sans', sans-serif">(</tspan><tspan x="19.13" y="-0.35" style="font-size: 14.3px; font-family: 'DejaVu Sans', 'Liberation Sans', sans-serif">h</tspan><tspan x="28.16" y="-0.35" style="font-size: 14.3px; font-family: 'DejaVu Sans', 'Liberation Sans', sans-serif">o</tspan><tspan x="36.88" y="-0.35" style="font-size: 14.3px; font-family: 'DejaVu Sans', 'Liberation Sans', sans-serif">u</tspan><tspan x="45.91" y="-0.35" style="font-size: 14.3px; font-family: 'DejaVu Sans', 'Liberation Sans', sans-serif">r</tspan><tspan x="51.77" y="-0.35" style="font-size: 14.3px; font-family: 'DejaVu Sans', 'Liberation Sans', sans-serif">s</tspan><tspan x="59.19" y="-0.35" style="font-size: 14.3px; font-family: 'DejaVu Sans', 'Liberation Sans', sans-serif">)</tspan></text></g></g></g><g><g><g><g><use href="#m370a196e71" x="77.4" y="781.3" style="stroke: #000000; stroke-width: 1.14"/></g></g><g><g transform="translate(33.78 787.73)"><text><tspan x="0" y="-0.49" style="font-size: 14.3px; font-family: 'DejaVu Sans', 'Liberation Sans', sans-serif">1</tspan><tspan x="9.06" y="-0.49" style="font-size: 14.3px; font-family: 'DejaVu Sans', 'Liberation Sans', sans-serif">0</tspan><tspan x="18.26" y="-5.85" style="font-size: 10.01px; font-family: 'DejaVu Sans', 'Liberation Sans', sans-serif">−</tspan><tspan x="26.62" y="-5.85" style="font-size: 10.01px; font-family: 'DejaVu Sans', 'Liberation Sans', sans-serif">1</tspan></text></g></g></g><g><g><g><use href="#m370a196e71" x="77.4" y="735.9" style="stroke: #000000; stroke-width: 1.14"/></g></g><g><g transform="translate(42.22 742.33)"><text><tspan x="0" y="-0.36" style="font-size: 14.3px; font-family: 'DejaVu Sans', 'Liberation Sans', sans-serif">1</tspan><tspan x="9.06" y="-0.36" style="font-size: 14.3px; font-family: 'DejaVu Sans', 'Liberation Sans', sans-serif">0</tspan><tspan x="18.26" y="-5.72" style="font-size: 10.01px; font-family: 'DejaVu Sans', 'Liberation Sans', sans-serif">0</tspan></text></g></g></g><g><g><g><use href="#m370a196e71" x="77.4" y="690.5" style="stroke: #000000; stroke-width: 1.14"/></g></g><g><g transform="translate(42.22 696.93)"><text><tspan x="0" y="-0.49" style="font-size: 14.3px; font-family: 'DejaVu Sans', 'Liberation Sans', sans-serif">1</tspan><tspan x="9.06" y="-0.49" style="font-size: 14.3px; font-family: 'DejaVu Sans', 'Liberation Sans', sans-serif">0</tspan><tspan x="18.26" y="-5.85" style="font-size: 10.01px; font-family: 'DejaVu Sans', 'Liberation Sans', sans-serif">1</tspan></text></g></g></g><use href="#m23b3c730b1" x="77.4" y="794.96" style="stroke: #000000; stroke-width: 0.85"/><use href="#m23b3c730b1" x="77.4" y="791.37" style="stroke: #000000; stroke-width: 0.85"/><use href="#m23b3c730b1" x="77.4" y="788.33" style="stroke: #000000; stroke-width: 0.85"/><use href="#m23b3c730b1" x="77.4" y="785.69" style="stroke: #000000; stroke-width: 0.85"/><use href="#m23b3c730b1" x="77.4" y="783.37" style="stroke: #000000; stroke-width: 0.85"/><use href="#m23b3c730b1" x="77.4" y="767.63" style="stroke: #000000; stroke-width: 0.85"/><use href="#m23b3c730b1" x="77.4" y="759.63" style="stroke: #000000; stroke-width: 0.85"/><use href="#m23b3c730b1" x="77.4" y="753.96" style="stroke: #000000; stroke-width: 0.85"/><use href="#m23b3c730b1" x="77.4" y="749.56" style="stroke: #000000; stroke-width: 0.85"/><use href="#m23b3c730b1" x="77.4" y="745.97" style="stroke: #000000; stroke-width: 0.85"/><use href="#m23b3c730b1" x="77.4" y="742.93" style="stroke: #000000; stroke-width: 0.85"/><use href="#m23b3c730b1" x="77.4" y="740.29" style="stroke: #000000; stroke-width: 0.85"/><use href="#m23b3c730b1" x="77.4" y="737.97" style="stroke: #000000; stroke-width: 0.85"/><use href="#m23b3c730b1" x="77.4" y="722.23" style="stroke: #000000; stroke-width: 0.85"/><use href="#m23b3c730b1" x="77.4" y="714.23" style="stroke: #000000; stroke-width: 0.85"/><use href="#m23b3c730b1" x="77.4" y="708.56" style="stroke: #000000; stroke-width: 0.85"/><use href="#m23b3c730b1" x="77.4" y="704.16" style="stroke: #000000; stroke-width: 0.85"/><use href="#m23b3c730b1" x="77.4" y="700.57" style="stroke: #000000; stroke-width: 0.85"/><use href="#m23b3c730b1" x="77.4" y="697.53" style="stroke: #000000; stroke-width: 0.85"/><use href="#m23b3c730b1" x="77.4" y="694.89" style="stroke: #000000; stroke-width: 0.85"/><use href="#m23b3c730b1" x="77.4" y="692.57" style="stroke: #000000; stroke-width: 0.85"/><use href="#m23b3c730b1" x="77.4" y="676.83" style="stroke: #000000; stroke-width: 0.85"/><g><g transform="translate(22.86 776.87) rotate(-90)"><text><tspan x="0" y="-0.35" style="font-style: oblique; font-size: 14.3px; font-family: 'DejaVu Sans', 'Liberation Sans', sans-serif">μ</tspan><tspan x="16.37" y="-0.35" style="font-style: oblique; font-size: 14.3px; font-family: 'DejaVu Sans', 'Liberation Sans', sans-serif">σ</tspan><tspan x="9.06" y="-0.35" style="font-size: 14.3px; font-family: 'DejaVu Sans', 'Liberation Sans', sans-serif">,</tspan><tspan x="25.40" y="-0.35" style="font-size: 14.3px; font-family: 'DejaVu Sans', 'Liberation Sans', sans-serif"></tspan><tspan x="29.93" y="-0.35" style="font-size: 14.3px; font-family: 'DejaVu Sans', 'Liberation Sans', sans-serif">(</tspan><tspan x="35.49" y="-0.35" style="font-size: 14.3px; font-family: 'DejaVu Sans', 'Liberation Sans', sans-serif">m</tspan><tspan x="49.37" y="-0.35" style="font-size: 14.3px; font-family: 'DejaVu Sans', 'Liberation Sans', sans-serif">m</tspan><tspan x="63.25" y="-0.35" style="font-size: 14.3px; font-family: 'DejaVu Sans', 'Liberation Sans', sans-serif">/</tspan><tspan x="68.05" y="-0.35" style="font-size: 14.3px; font-family: 'DejaVu Sans', 'Liberation Sans', sans-serif">h</tspan><tspan x="77.08" y="-0.35" style="font-size: 14.3px; font-family: 'DejaVu Sans', 'Liberation Sans', sans-serif">)</tspan></text></g></g></g><g><path d="M 88.49 694.84 L 310.30 753.60 " clip-path="url(#pc2e4bc1139)" style="fill: none; stroke: #1f77b4; stroke-width: 1.6; stroke-linecap: square"/></g><g><path d="M 88.49 726.40 L 310.30 785.16 " clip-path="url(#pc2e4bc1139)" style="fill: none; stroke: #2ca02c; stroke-width: 1.6; stroke-linecap: square"/></g><g><g clip-path="url(#pc2e4bc1139)"><use href="#m92d5d42935" x="88.49" y="693.17" style="fill: #1f77b4; stroke: #1f77b4; stroke-width: 1.3"/><use href="#m92d5d42935" x="114.61" y="699.20" style="fill: #1f77b4; stroke: #1f77b4; stroke-width: 1.3"/><use href="#m92d5d42935" x="129.89" y="703.56" style="fill: #1f77b4; stroke: #1f77b4; stroke-width: 1.3"/><use href="#m92d5d42935" x="140.73" y="707.09" style="fill: #1f77b4; stroke: #1f77b4; stroke-width: 1.3"/><use href="#m92d5d42935" x="156.01" y="711.65" style="fill: #1f77b4; stroke: #1f77b4; stroke-width: 1.3"/><use href="#m92d5d42935" x="166.85" y="714.98" style="fill: #1f77b4; stroke: #1f77b4; stroke-width: 1.3"/><use href="#m92d5d42935" x="175.26" y="717.88" style="fill: #1f77b4; stroke: #1f77b4; stroke-width: 1.3"/><use href="#m92d5d42935" x="182.13" y="720.58" style="fill: #1f77b4; stroke: #1f77b4; stroke-width: 1.3"/><use href="#m92d5d42935" x="197.41" y="725.15" style="fill: #1f77b4; stroke: #1f77b4; stroke-width: 1.3"/><use href="#m92d5d42935" x="208.25" y="727.85" style="fill: #1f77b4; stroke: #1f77b4; stroke-width: 1.3"/><use href="#m92d5d42935" x="234.37" y="734.5" style="fill: #1f77b4; stroke: #1f77b4; stroke-width: 1.3"/><use href="#m92d5d42935" x="249.65" y="737.82" style="fill: #1f77b4; stroke: #1f77b4; stroke-width: 1.3"/><use href="#m92d5d42935" x="260.49" y="740.31" style="fill: #1f77b4; stroke: #1f77b4; stroke-width: 1.3"/><use href="#m92d5d42935" x="268.90" y="741.97" style="fill: #1f77b4; stroke: #1f77b4; stroke-width: 1.3"/><use href="#m92d5d42935" x="275.77" y="743.84" style="fill: #1f77b4; stroke: #1f77b4; stroke-width: 1.3"/><use href="#m92d5d42935" x="286.61" y="745.92" style="fill: #1f77b4; stroke: #1f77b4; stroke-width: 1.3"/><use href="#m92d5d42935" x="295.02" y="747.99" style="fill: #1f77b4; stroke: #1f77b4; stroke-width: 1.3"/><use href="#m92d5d42935" x="301.89" y="749.24" style="fill: #1f77b4; stroke: #1f77b4; stroke-width: 1.3"/><use href="#m92d5d42935" x="310.30" y="751.11" style="fill: #1f77b4; stroke: #1f77b4; stroke-width: 1.3"/></g></g><g><g clip-path="url(#pc2e4bc1139)"><use href="#m92d5d42935" x="88.49" y="695.67" style="fill: #1f77b4; stroke: #1f77b4; stroke-width: 1.3"/><use href="#m92d5d42935" x="114.61" y="701.69" style="fill: #1f77b4; stroke: #1f77b4; stroke-width: 1.3"/><use href="#m92d5d42935" x="129.89" y="706.05" style="fill: #1f77b4; stroke: #1f77b4; stroke-width: 1.3"/><use href="#m92d5d42935" x="140.73" y="709.58" style="fill: #1f77b4; stroke: #1f77b4; stroke-width: 1.3"/><use href="#m92d5d42935" x="156.01" y="714.15" style="fill: #1f77b4; stroke: #1f77b4; stroke-width: 1.3"/><use href="#m92d5d42935" x="166.85" y="717.47" style="fill: #1f77b4; stroke: #1f77b4; stroke-width: 1.3"/><use href="#m92d5d42935" x="175.26" y="720.38" style="fill: #1f77b4; stroke: #1f77b4; stroke-width: 1.3"/><use href="#m92d5d42935" x="182.13" y="723.07" style="fill: #1f77b4; stroke: #1f77b4; stroke-width: 1.3"/><use href="#m92d5d42935" x="197.41" y="727.64" style="fill: #1f77b4; stroke: #1f77b4; stroke-width: 1.3"/><use href="#m92d5d42935" x="208.25" y="730.34" style="fill: #1f77b4; stroke: #1f77b4; stroke-width: 1.3"/><use href="#m92d5d42935" x="234.37" y="736.99" style="fill: #1f77b4; stroke: #1f77b4; stroke-width: 1.3"/><use href="#m92d5d42935" x="249.65" y="740.31" style="fill: #1f77b4; stroke: #1f77b4; stroke-width: 1.3"/><use href="#m92d5d42935" x="260.49" y="742.80" style="fill: #1f77b4; stroke: #1f77b4; stroke-width: 1.3"/><use href="#m92d5d42935" x="268.90" y="744.46" style="fill: #1f77b4; stroke: #1f77b4; stroke-width: 1.3"/><use href="#m92d5d42935" x="275.77" y="746.33" style="fill: #1f77b4; stroke: #1f77b4; stroke-width: 1.3"/><use href="#m92d5d42935" x="286.61" y="748.41" style="fill: #1f77b4; stroke: #1f77b4; stroke-width: 1.3"/><use href="#m92d5d42935" x="295.02" y="750.48" style="fill: #1f77b4; stroke: #1f77b4; stroke-width: 1.3"/><use href="#m92d5d42935" x="301.89" y="751.73" style="fill: #1f77b4; stroke: #1f77b4; stroke-width: 1.3"/><use href="#m92d5d42935" x="310.30" y="753.60" style="fill: #1f77b4; stroke: #1f77b4; stroke-width: 1.3"/></g></g><g><g clip-path="url(#pc2e4bc1139)"><use href="#m8536452fce" x="88.49" y="729.72" style="fill: #2ca02c; stroke: #2ca02c; stroke-width: 1.3"/><use href="#m8536452fce" x="114.61" y="728.47" style="fill: #2ca02c; stroke: #2ca02c; stroke-width: 1.3"/><use href="#m8536452fce" x="129.89" y="729.51" style="fill: #2ca02c; stroke: #2ca02c; stroke-width: 1.3"/><use href="#m8536452fce" x="140.73" y="731.80" style="fill: #2ca02c; stroke: #2ca02c; stroke-width: 1.3"/><use href="#m8536452fce" x="156.01" y="733.66" style="fill: #2ca02c; stroke: #2ca02c; stroke-width: 1.3"/><use href="#m8536452fce" x="166.85" y="736.78" style="fill: #2ca02c; stroke: #2ca02c; stroke-width: 1.3"/><use href="#m8536452fce" x="175.26" y="739.48" style="fill: #2ca02c; stroke: #2ca02c; stroke-width: 1.3"/><use href="#m8536452fce" x="182.13" y="741.97" style="fill: #2ca02c; stroke: #2ca02c; stroke-width: 1.3"/><use href="#m8536452fce" x="197.41" y="747.78" style="fill: #2ca02c; stroke: #2ca02c; stroke-width: 1.3"/><use href="#m8536452fce" x="208.25" y="753.39" style="fill: #2ca02c; stroke: #2ca02c; stroke-width: 1.3"/><use href="#m8536452fce" x="234.37" y="764.40" style="fill: #2ca02c; stroke: #2ca02c; stroke-width: 1.3"/><use href="#m8536452fce" x="249.65" y="767.93" style="fill: #2ca02c; stroke: #2ca02c; stroke-width: 1.3"/><use href="#m8536452fce" x="260.49" y="772.70" style="fill: #2ca02c; stroke: #2ca02c; stroke-width: 1.3"/><use href="#m8536452fce" x="268.90" y="776.85" style="fill: #2ca02c; stroke: #2ca02c; stroke-width: 1.3"/><use href="#m8536452fce" x="275.77" y="778.93" style="fill: #2ca02c; stroke: #2ca02c; stroke-width: 1.3"/><use href="#m8536452fce" x="286.61" y="778.93" style="fill: #2ca02c; stroke: #2ca02c; stroke-width: 1.3"/><use href="#m8536452fce" x="295.02" y="779.97" style="fill: #2ca02c; stroke: #2ca02c; stroke-width: 1.3"/><use href="#m8536452fce" x="301.89" y="780.38" style="fill: #2ca02c; stroke: #2ca02c; stroke-width: 1.3"/><use href="#m8536452fce" x="310.30" y="783.08" style="fill: #2ca02c; stroke: #2ca02c; stroke-width: 1.3"/></g></g><g><g clip-path="url(#pc2e4bc1139)"><use href="#m8536452fce" x="88.49" y="741.97" style="fill: #2ca02c; stroke: #2ca02c; stroke-width: 1.3"/><use href="#m8536452fce" x="114.61" y="743.63" style="fill: #2ca02c; stroke: #2ca02c; stroke-width: 1.3"/><use href="#m8536452fce" x="129.89" y="747.16" style="fill: #2ca02c; stroke: #2ca02c; stroke-width: 1.3"/><use href="#m8536452fce" x="140.73" y="750.48" style="fill: #2ca02c; stroke: #2ca02c; stroke-width: 1.3"/><use href="#m8536452fce" x="156.01" y="750.90" style="fill: #2ca02c; stroke: #2ca02c; stroke-width: 1.3"/><use href="#m8536452fce" x="166.85" y="750.90" style="fill: #2ca02c; stroke: #2ca02c; stroke-width: 1.3"/><use href="#m8536452fce" x="175.26" y="752.56" style="fill: #2ca02c; stroke: #2ca02c; stroke-width: 1.3"/><use href="#m8536452fce" x="182.13" y="753.39" style="fill: #2ca02c; stroke: #2ca02c; stroke-width: 1.3"/><use href="#m8536452fce" x="197.41" y="757.13" style="fill: #2ca02c; stroke: #2ca02c; stroke-width: 1.3"/><use href="#m8536452fce" x="208.25" y="762.32" style="fill: #2ca02c; stroke: #2ca02c; stroke-width: 1.3"/><use href="#m8536452fce" x="234.37" y="773.32" style="fill: #2ca02c; stroke: #2ca02c; stroke-width: 1.3"/><use href="#m8536452fce" x="249.65" y="778.51" style="fill: #2ca02c; stroke: #2ca02c; stroke-width: 1.3"/><use href="#m8536452fce" x="260.49" y="781.63" style="fill: #2ca02c; stroke: #2ca02c; stroke-width: 1.3"/><use href="#m8536452fce" x="268.90" y="783.08" style="fill: #2ca02c; stroke: #2ca02c; stroke-width: 1.3"/><use href="#m8536452fce" x="275.77" y="785.16" style="fill: #2ca02c; stroke: #2ca02c; stroke-width: 1.3"/><use href="#m8536452fce" x="286.61" y="785.16" style="fill: #2ca02c; stroke: #2ca02c; stroke-width: 1.3"/><use href="#m8536452fce" x="295.02" y="786.20" style="fill: #2ca02c; stroke: #2ca02c; stroke-width: 1.3"/><use href="#m8536452fce" x="301.89" y="786.20" style="fill: #2ca02c; stroke: #2ca02c; stroke-width: 1.3"/><use href="#m8536452fce" x="310.30" y="789.31" style="fill: #2ca02c; stroke: #2ca02c; stroke-width: 1.3"/></g></g><g><g clip-path="url(#pc2e4bc1139)"><use href="#m392b33b074" x="88.49" y="694.42" style="fill: #1f77b4"/><use href="#m392b33b074" x="114.61" y="700.44" style="fill: #1f77b4"/><use href="#m392b33b074" x="129.89" y="704.80" style="fill: #1f77b4"/><use href="#m392b33b074" x="140.73" y="708.33" style="fill: #1f77b4"/><use href="#m392b33b074" x="156.01" y="712.90" style="fill: #1f77b4"/><use href="#m392b33b074" x="166.85" y="716.22" style="fill: #1f77b4"/><use href="#m392b33b074" x="175.26" y="719.13" style="fill: #1f77b4"/><use href="#m392b33b074" x="182.13" y="721.83" style="fill: #1f77b4"/><use href="#m392b33b074" x="197.41" y="726.40" style="fill: #1f77b4"/><use href="#m392b33b074" x="208.25" y="729.10" style="fill: #1f77b4"/><use href="#m392b33b074" x="234.37" y="735.74" style="fill: #1f77b4"/><use href="#m392b33b074" x="249.65" y="739.06" style="fill: #1f77b4"/><use href="#m392b33b074" x="260.49" y="741.55" style="fill: #1f77b4"/><use href="#m392b33b074" x="268.90" y="743.22" style="fill: #1f77b4"/><use href="#m392b33b074" x="275.77" y="745.08" style="fill: #1f77b4"/><use href="#m392b33b074" x="286.61" y="747.16" style="fill: #1f77b4"/><use href="#m392b33b074" x="295.02" y="749.24" style="fill: #1f77b4"/><use href="#m392b33b074" x="301.89" y="750.48" style="fill: #1f77b4"/><use href="#m392b33b074" x="310.30" y="752.35" style="fill: #1f77b4"/></g></g><g><g clip-path="url(#pc2e4bc1139)"><use href="#mb3e0cefdb7" x="88.49" y="735.95" style="fill: #2ca02c"/><use href="#mb3e0cefdb7" x="114.61" y="735.33" style="fill: #2ca02c"/><use href="#mb3e0cefdb7" x="129.89" y="737.82" style="fill: #2ca02c"/><use href="#mb3e0cefdb7" x="140.73" y="740.10" style="fill: #2ca02c"/><use href="#mb3e0cefdb7" x="156.01" y="741.14" style="fill: #2ca02c"/><use href="#mb3e0cefdb7" x="166.85" y="743.01" style="fill: #2ca02c"/><use href="#mb3e0cefdb7" x="175.26" y="744.67" style="fill: #2ca02c"/><use href="#mb3e0cefdb7" x="182.13" y="746.33" style="fill: #2ca02c"/><use href="#mb3e0cefdb7" x="197.41" y="751.52" style="fill: #2ca02c"/><use href="#mb3e0cefdb7" x="208.25" y="757.13" style="fill: #2ca02c"/><use href="#mb3e0cefdb7" x="234.37" y="767.93" style="fill: #2ca02c"/><use href="#mb3e0cefdb7" x="249.65" y="772.70" style="fill: #2ca02c"/><use href="#mb3e0cefdb7" x="260.49" y="775.82" style="fill: #2ca02c"/><use href="#mb3e0cefdb7" x="268.90" y="778.51" style="fill: #2ca02c"/><use href="#mb3e0cefdb7" x="275.77" y="780.38" style="fill: #2ca02c"/><use href="#mb3e0cefdb7" x="286.61" y="780.38" style="fill: #2ca02c"/><use href="#mb3e0cefdb7" x="295.02" y="782.04" style="fill: #2ca02c"/><use href="#mb3e0cefdb7" x="301.89" y="782.46" style="fill: #2ca02c"/><use href="#mb3e0cefdb7" x="310.30" y="785.16" style="fill: #2ca02c"/></g></g><g><path d="M 77.4 797.3 L 77.4 673.5 " style="fill: none; stroke: #000000; stroke-width: 1.14; stroke-linejoin: miter; stroke-linecap: square"/></g><g><path d="M 321.4 797.3 L 321.4 673.5 " style="fill: none; stroke: #000000; stroke-width: 1.14; stroke-linejoin: miter; stroke-linecap: square"/></g><g><path d="M 77.4 797.3 L 321.4 797.3 " style="fill: none; stroke: #000000; stroke-width: 1.14; stroke-linejoin: miter; stroke-linecap: square"/></g><g><path d="M 77.4 673.5 L 321.4 673.5 " style="fill: none; stroke: #000000; stroke-width: 1.14; stroke-linejoin: miter; stroke-linecap: square"/></g><g><text style="font-size: 17.16px; font-family: 'DejaVu Sans', 'Liberation Sans', sans-serif; text-anchor: middle" x="199.4" y="665.82" transform="rotate(-0 199.4 665.82)">Mexico City</text></g></g><g><g><path d="M 345.5 797.3 L 589.5 797.3 L 589.5 673.5 L 345.5 673.5 z " style="fill: #ffffff"/></g><g><defs><path id="m2cf2303723" d="M 356.59 -211.72 L 356.59 -202.59 L 360.35 -201.66 L 364.11 -200.74 L 367.86 -199.82 L 371.62 -198.89 L 375.38 -197.96 L 379.14 -197.04 L 382.90 -196.11 L 386.66 -195.18 L 390.42 -194.25 L 394.18 -193.32 L 397.94 -192.39 L 401.70 -191.45 L 405.46 -190.52 L 409.22 -189.58 L 412.98 -188.65 L 416.74 -187.71 L 420.50 -186.77 L 424.26 -185.83 L 428.02 -184.89 L 431.78 -183.95 L 435.54 -183.01 L 439.30 -182.07 L 443.06 -181.13 L 446.82 -180.18 L 450.58 -179.24 L 454.34 -178.29 L 458.10 -177.34 L 461.86 -176.39 L 465.62 -175.45 L 469.37 -174.49 L 473.13 -173.54 L 476.89 -172.59 L 480.65 -171.64 L 484.41 -170.68 L 488.17 -169.73 L 491.93 -168.77 L 495.69 -167.82 L 499.45 -166.86 L 503.21 -165.90 L 506.97 -164.94 L 510.73 -163.98 L 514.49 -163.02 L 518.25 -162.06 L 522.01 -161.09 L 525.77 -160.13 L 529.53 -159.16 L 533.29 -158.20 L 537.05 -157.23 L 540.81 -156.26 L 544.57 -155.29 L 548.33 -154.32 L 552.09 -153.35 L 555.85 -152.38 L 559.61 -151.40 L 563.37 -150.43 L 567.13 -149.45 L 570.88 -148.48 L 574.64 -147.50 L 578.40 -146.52 L 578.40 -151.51 L 578.40 -151.51 L 574.64 -152.50 L 570.88 -153.49 L 567.13 -154.49 L 563.37 -155.48 L 559.61 -156.48 L 555.85 -157.48 L 552.09 -158.48 L 548.33 -159.48 L 544.57 -160.48 L 540.81 -161.48 L 537.05 -162.48 L 533.29 -163.48 L 529.53 -164.49 L 525.77 -165.49 L 522.01 -166.50 L 518.25 -167.51 L 514.49 -168.52 L 510.73 -169.53 L 506.97 -170.54 L 503.21 -171.55 L 499.45 -172.56 L 495.69 -173.57 L 491.93 -174.59 L 488.17 -175.60 L 484.41 -176.62 L 480.65 -177.63 L 476.89 -178.65 L 473.13 -179.67 L 469.37 -180.69 L 465.62 -181.71 L 461.86 -182.73 L 458.10 -183.75 L 454.34 -184.78 L 450.58 -185.80 L 446.82 -186.83 L 443.06 -187.85 L 439.30 -188.88 L 435.54 -189.91 L 431.78 -190.94 L 428.02 -191.97 L 424.26 -193.00 L 420.50 -194.03 L 416.74 -195.06 L 412.98 -196.10 L 409.22 -197.13 L 405.46 -198.17 L 401.70 -199.21 L 397.94 -200.24 L 394.18 -201.28 L 390.42 -202.32 L 386.66 -203.36 L 382.90 -204.40 L 379.14 -205.45 L 375.38 -206.49 L 371.62 -207.54 L 367.86 -208.58 L 364.11 -209.63 L 360.35 -210.67 L 356.59 -211.72 z "/></defs><g clip-path="url(#paa1442e814)"><use href="#m2cf2303723" x="0" y="902" style="fill: #1f77b4; fill-opacity: 0.25"/></g></g><g><defs><path id="mb81a18db42" d="M 356.59 -201.55 L 356.59 -194.28 L 360.35 -193.12 L 364.11 -191.96 L 367.86 -190.80 L 371.62 -189.64 L 375.38 -188.47 L 379.14 -187.30 L 382.90 -186.13 L 386.66 -184.96 L 390.42 -183.79 L 394.18 -182.62 L 397.94 -181.44 L 401.70 -180.27 L 405.46 -179.09 L 409.22 -177.91 L 412.98 -176.72 L 416.74 -175.54 L 420.50 -174.36 L 424.26 -173.17 L 428.02 -171.98 L 431.78 -170.79 L 435.54 -169.60 L 439.30 -168.40 L 443.06 -167.21 L 446.82 -166.01 L 450.58 -164.81 L 454.34 -163.61 L 458.10 -162.41 L 461.86 -161.21 L 465.62 -160.00 L 469.37 -158.79 L 473.13 -157.58 L 476.89 -156.37 L 480.65 -155.16 L 484.41 -153.95 L 488.17 -152.73 L 491.93 -151.52 L 495.69 -150.30 L 499.45 -149.08 L 503.21 -147.85 L 506.97 -146.63 L 510.73 -145.40 L 514.49 -144.18 L 518.25 -142.95 L 522.01 -141.72 L 525.77 -140.49 L 529.53 -139.25 L 533.29 -138.02 L 537.05 -136.78 L 540.81 -135.54 L 544.57 -134.30 L 548.33 -133.06 L 552.09 -131.81 L 555.85 -130.57 L 559.61 -129.32 L 563.37 -128.07 L 567.13 -126.82 L 570.88 -125.57 L 574.64 -124.32 L 578.40 -123.06 L 578.40 -132.40 L 578.40 -132.40 L 574.64 -133.62 L 570.88 -134.84 L 567.13 -136.06 L 563.37 -137.28 L 559.61 -138.49 L 555.85 -139.70 L 552.09 -140.91 L 548.33 -142.12 L 544.57 -143.33 L 540.81 -144.53 L 537.05 -145.74 L 533.29 -146.94 L 529.53 -148.14 L 525.77 -149.34 L 522.01 -150.53 L 518.25 -151.73 L 514.49 -152.92 L 510.73 -154.11 L 506.97 -155.31 L 503.21 -156.49 L 499.45 -157.68 L 495.69 -158.87 L 491.93 -160.05 L 488.17 -161.23 L 484.41 -162.41 L 480.65 -163.59 L 476.89 -164.77 L 473.13 -165.94 L 469.37 -167.12 L 465.62 -168.29 L 461.86 -169.46 L 458.10 -170.63 L 454.34 -171.79 L 450.58 -172.96 L 446.82 -174.12 L 443.06 -175.28 L 439.30 -176.45 L 435.54 -177.60 L 431.78 -178.76 L 428.02 -179.92 L 424.26 -181.07 L 420.50 -182.22 L 416.74 -183.37 L 412.98 -184.52 L 409.22 -185.67 L 405.46 -186.81 L 401.70 -187.96 L 397.94 -189.10 L 394.18 -190.24 L 390.42 -191.38 L 386.66 -192.51 L 382.90 -193.65 L 379.14 -194.78 L 375.38 -195.91 L 371.62 -197.04 L 367.86 -198.17 L 364.11 -199.30 L 360.35 -200.42 L 356.59 -201.55 z "/></defs><g clip-path="url(#paa1442e814)"><use href="#mb81a18db42" x="0" y="902" style="fill: #2ca02c; fill-opacity: 0.25"/></g></g><g><g><g><g><use href="#m2c01bbbdb9" x="356.59" y="797.3" style="stroke: #000000; stroke-width: 1.14"/></g></g><g><text style="font-size: 14.3px; font-family: 'DejaVu Sans', 'Liberation Sans', sans-serif; text-anchor: middle" x="356.59" y="818.87" transform="rotate(-0 356.59 818.87)">1</text></g></g><g><g><g><use href="#m2c01bbbdb9" x="397.99" y="797.3" style="stroke: #000000; stroke-width: 1.14"/></g></g><g><text style="font-size: 14.3px; font-family: 'DejaVu Sans', 'Liberation Sans', sans-serif; text-anchor: middle" x="397.99" y="818.87" transform="rotate(-0 397.99 818.87)">3</text></g></g><g><g><g><use href="#m2c01bbbdb9" x="424.11" y="797.3" style="stroke: #000000; stroke-width: 1.14"/></g></g><g><text style="font-size: 14.3px; font-family: 'DejaVu Sans', 'Liberation Sans', sans-serif; text-anchor: middle" x="424.11" y="818.87" transform="rotate(-0 424.11 818.87)">6</text></g></g><g><g><g><use href="#m2c01bbbdb9" x="450.23" y="797.3" style="stroke: #000000; stroke-width: 1.14"/></g></g><g><text style="font-size: 14.3px; font-family: 'DejaVu Sans', 'Liberation Sans', sans-serif; text-anchor: middle" x="450.23" y="818.87" transform="rotate(-0 450.23 818.87)">12</text></g></g><g><g><g><use href="#m2c01bbbdb9" x="476.35" y="797.3" style="stroke: #000000; stroke-width: 1.14"/></g></g><g><text style="font-size: 14.3px; font-family: 'DejaVu Sans', 'Liberation Sans', sans-serif; text-anchor: middle" x="476.35" y="818.87" transform="rotate(-0 476.35 818.87)">24</text></g></g><g><g><g><use href="#m2c01bbbdb9" x="502.47" y="797.3" style="stroke: #000000; stroke-width: 1.14"/></g></g><g><text style="font-size: 14.3px; font-family: 'DejaVu Sans', 'Liberation Sans', sans-serif; text-anchor: middle" x="502.47" y="818.87" transform="rotate(-0 502.47 818.87)">48</text></g></g><g><g><g><use href="#m2c01bbbdb9" x="537.00" y="797.3" style="stroke: #000000; stroke-width: 1.14"/></g></g><g><text style="font-size: 14.3px; font-family: 'DejaVu Sans', 'Liberation Sans', sans-serif; text-anchor: middle" x="537.00" y="818.87" transform="rotate(-0 537.00 818.87)">120</text></g></g><g><g><g><use href="#m2c01bbbdb9" x="578.40" y="797.3" style="stroke: #000000; stroke-width: 1.14"/></g></g><g><text style="font-size: 14.3px; font-family: 'DejaVu Sans', 'Liberation Sans', sans-serif; text-anchor: middle" x="578.40" y="818.87" transform="rotate(-0 578.40 818.87)">360</text></g></g><use href="#m645ac34a00" x="348.18" y="797.3" style="stroke: #000000; stroke-width: 0.85"/><use href="#m645ac34a00" x="352.62" y="797.3" style="stroke: #000000; stroke-width: 0.85"/><use href="#m645ac34a00" x="382.71" y="797.3" style="stroke: #000000; stroke-width: 0.85"/><use href="#m645ac34a00" x="408.83" y="797.3" style="stroke: #000000; stroke-width: 0.85"/><use href="#m645ac34a00" x="417.24" y="797.3" style="stroke: #000000; stroke-width: 0.85"/><use href="#m645ac34a00" x="429.92" y="797.3" style="stroke: #000000; stroke-width: 0.85"/><use href="#m645ac34a00" x="434.95" y="797.3" style="stroke: #000000; stroke-width: 0.85"/><use href="#m645ac34a00" x="439.39" y="797.3" style="stroke: #000000; stroke-width: 0.85"/><use href="#m645ac34a00" x="469.48" y="797.3" style="stroke: #000000; stroke-width: 0.85"/><use href="#m645ac34a00" x="484.76" y="797.3" style="stroke: #000000; stroke-width: 0.85"/><use href="#m645ac34a00" x="495.60" y="797.3" style="stroke: #000000; stroke-width: 0.85"/><use href="#m645ac34a00" x="504.01" y="797.3" style="stroke: #000000; stroke-width: 0.85"/><use href="#m645ac34a00" x="510.88" y="797.3" style="stroke: #000000; stroke-width: 0.85"/><use href="#m645ac34a00" x="516.69" y="797.3" style="stroke: #000000; stroke-width: 0.85"/><use href="#m645ac34a00" x="521.72" y="797.3" style="stroke: #000000; stroke-width: 0.85"/><use href="#m645ac34a00" x="526.16" y="797.3" style="stroke: #000000; stroke-width: 0.85"/><use href="#m645ac34a00" x="556.25" y="797.3" style="stroke: #000000; stroke-width: 0.85"/><use href="#m645ac34a00" x="571.53" y="797.3" style="stroke: #000000; stroke-width: 0.85"/><use href="#m645ac34a00" x="582.37" y="797.3" style="stroke: #000000; stroke-width: 0.85"/><g><g transform="translate(434.96 838.53)"><text><tspan x="0" y="-0.35" style="font-style: oblique; font-size: 14.3px; font-family: 'DejaVu Sans', 'Liberation Sans', sans-serif">d</tspan><tspan x="9.04" y="-0.35" style="font-size: 14.3px; font-family: 'DejaVu Sans', 'Liberation Sans', sans-serif"></tspan><tspan x="13.57" y="-0.35" style="font-size: 14.3px; font-family: 'DejaVu Sans', 'Liberation Sans', sans-serif">(</tspan><tspan x="19.13" y="-0.35" style="font-size: 14.3px; font-family: 'DejaVu Sans', 'Liberation Sans', sans-serif">h</tspan><tspan x="28.16" y="-0.35" style="font-size: 14.3px; font-family: 'DejaVu Sans', 'Liberation Sans', sans-serif">o</tspan><tspan x="36.88" y="-0.35" style="font-size: 14.3px; font-family: 'DejaVu Sans', 'Liberation Sans', sans-serif">u</tspan><tspan x="45.91" y="-0.35" style="font-size: 14.3px; font-family: 'DejaVu Sans', 'Liberation Sans', sans-serif">r</tspan><tspan x="51.77" y="-0.35" style="font-size: 14.3px; font-family: 'DejaVu Sans', 'Liberation Sans', sans-serif">s</tspan><tspan x="59.19" y="-0.35" style="font-size: 14.3px; font-family: 'DejaVu Sans', 'Liberation Sans', sans-serif">)</tspan></text></g></g></g><g><use href="#m370a196e71" x="345.5" y="781.3" style="stroke: #000000; stroke-width: 1.14"/><use href="#m370a196e71" x="345.5" y="735.9" style="stroke: #000000; stroke-width: 1.14"/><use href="#m370a196e71" x="345.5" y="690.5" style="stroke: #000000; stroke-width: 1.14"/><use href="#m23b3c730b1" x="345.5" y="794.96" style="stroke: #000000; stroke-width: 0.85"/><use href="#m23b3c730b1" x="345.5" y="791.37" style="stroke: #000000; stroke-width: 0.85"/><use href="#m23b3c730b1" x="345.5" y="788.33" style="stroke: #000000; stroke-width: 0.85"/><use href="#m23b3c730b1" x="345.5" y="785.69" style="stroke: #000000; stroke-width: 0.85"/><use href="#m23b3c730b1" x="345.5" y="783.37" style="stroke: #000000; stroke-width: 0.85"/><use href="#m23b3c730b1" x="345.5" y="767.63" style="stroke: #000000; stroke-width: 0.85"/><use href="#m23b3c730b1" x="345.5" y="759.63" style="stroke: #000000; stroke-width: 0.85"/><use href="#m23b3c730b1" x="345.5" y="753.96" style="stroke: #000000; stroke-width: 0.85"/><use href="#m23b3c730b1" x="345.5" y="749.56" style="stroke: #000000; stroke-width: 0.85"/><use href="#m23b3c730b1" x="345.5" y="745.97" style="stroke: #000000; stroke-width: 0.85"/><use href="#m23b3c730b1" x="345.5" y="742.93" style="stroke: #000000; stroke-width: 0.85"/><use href="#m23b3c730b1" x="345.5" y="740.29" style="stroke: #000000; stroke-width: 0.85"/><use href="#m23b3c730b1" x="345.5" y="737.97" style="stroke: #000000; stroke-width: 0.85"/><use href="#m23b3c730b1" x="345.5" y="722.23" style="stroke: #000000; stroke-width: 0.85"/><use href="#m23b3c730b1" x="345.5" y="714.23" style="stroke: #000000; stroke-width: 0.85"/><use href="#m23b3c730b1" x="345.5" y="708.56" style="stroke: #000000; stroke-width: 0.85"/><use href="#m23b3c730b1" x="345.5" y="704.16" style="stroke: #000000; stroke-width: 0.85"/><use href="#m23b3c730b1" x="345.5" y="700.57" style="stroke: #000000; stroke-width: 0.85"/><use href="#m23b3c730b1" x="345.5" y="697.53" style="stroke: #000000; stroke-width: 0.85"/><use href="#m23b3c730b1" x="345.5" y="694.89" style="stroke: #000000; stroke-width: 0.85"/><use href="#m23b3c730b1" x="345.5" y="692.57" style="stroke: #000000; stroke-width: 0.85"/><use href="#m23b3c730b1" x="345.5" y="676.83" style="stroke: #000000; stroke-width: 0.85"/></g><g><path d="M 356.59 694.84 L 578.40 752.98 " clip-path="url(#paa1442e814)" style="fill: none; stroke: #1f77b4; stroke-width: 1.6; stroke-linecap: square"/></g><g><path d="M 356.59 701.69 L 578.40 774.36 " clip-path="url(#paa1442e814)" style="fill: none; stroke: #2ca02c; stroke-width: 1.6; stroke-linecap: square"/></g><g><g clip-path="url(#paa1442e814)"><use href="#m92d5d42935" x="356.59" y="698.37" style="fill: #1f77b4; stroke: #1f77b4; stroke-width: 1.3"/><use href="#m92d5d42935" x="382.71" y="699.61" style="fill: #1f77b4; stroke: #1f77b4; stroke-width: 1.3"/><use href="#m92d5d42935" x="397.99" y="701.06" style="fill: #1f77b4; stroke: #1f77b4; stroke-width: 1.3"/><use href="#m92d5d42935" x="408.83" y="702.73" style="fill: #1f77b4; stroke: #1f77b4; stroke-width: 1.3"/><use href="#m92d5d42935" x="424.11" y="705.63" style="fill: #1f77b4; stroke: #1f77b4; stroke-width: 1.3"/><use href="#m92d5d42935" x="434.95" y="708.75" style="fill: #1f77b4; stroke: #1f77b4; stroke-width: 1.3"/><use href="#m92d5d42935" x="443.36" y="710.82" style="fill: #1f77b4; stroke: #1f77b4; stroke-width: 1.3"/><use href="#m92d5d42935" x="450.23" y="712.49" style="fill: #1f77b4; stroke: #1f77b4; stroke-width: 1.3"/><use href="#m92d5d42935" x="465.51" y="717.05" style="fill: #1f77b4; stroke: #1f77b4; stroke-width: 1.3"/><use href="#m92d5d42935" x="476.35" y="721.41" style="fill: #1f77b4; stroke: #1f77b4; stroke-width: 1.3"/><use href="#m92d5d42935" x="502.47" y="729.10" style="fill: #1f77b4; stroke: #1f77b4; stroke-width: 1.3"/><use href="#m92d5d42935" x="517.75" y="733.87" style="fill: #1f77b4; stroke: #1f77b4; stroke-width: 1.3"/><use href="#m92d5d42935" x="528.59" y="736.99" style="fill: #1f77b4; stroke: #1f77b4; stroke-width: 1.3"/><use href="#m92d5d42935" x="537.00" y="739.48" style="fill: #1f77b4; stroke: #1f77b4; stroke-width: 1.3"/><use href="#m92d5d42935" x="543.87" y="741.14" style="fill: #1f77b4; stroke: #1f77b4; stroke-width: 1.3"/><use href="#m92d5d42935" x="554.71" y="744.25" style="fill: #1f77b4; stroke: #1f77b4; stroke-width: 1.3"/><use href="#m92d5d42935" x="563.12" y="746.75" style="fill: #1f77b4; stroke: #1f77b4; stroke-width: 1.3"/><use href="#m92d5d42935" x="569.99" y="748.41" style="fill: #1f77b4; stroke: #1f77b4; stroke-width: 1.3"/><use href="#m92d5d42935" x="578.40" y="749.86" style="fill: #1f77b4; stroke: #1f77b4; stroke-width: 1.3"/></g></g><g><g clip-path="url(#paa1442e814)"><use href="#m92d5d42935" x="356.59" y="705.63" style="fill: #1f77b4; stroke: #1f77b4; stroke-width: 1.3"/><use href="#m92d5d42935" x="382.71" y="706.26" style="fill: #1f77b4; stroke: #1f77b4; stroke-width: 1.3"/><use href="#m92d5d42935" x="397.99" y="708.75" style="fill: #1f77b4; stroke: #1f77b4; stroke-width: 1.3"/><use href="#m92d5d42935" x="408.83" y="710.41" style="fill: #1f77b4; stroke: #1f77b4; stroke-width: 1.3"/><use href="#m92d5d42935" x="424.11" y="714.15" style="fill: #1f77b4; stroke: #1f77b4; stroke-width: 1.3"/><use href="#m92d5d42935" x="434.95" y="717.26" style="fill: #1f77b4; stroke: #1f77b4; stroke-width: 1.3"/><use href="#m92d5d42935" x="443.36" y="719.34" style="fill: #1f77b4; stroke: #1f77b4; stroke-width: 1.3"/><use href="#m92d5d42935" x="450.23" y="720.17" style="fill: #1f77b4; stroke: #1f77b4; stroke-width: 1.3"/><use href="#m92d5d42935" x="465.51" y="726.40" style="fill: #1f77b4; stroke: #1f77b4; stroke-width: 1.3"/><use href="#m92d5d42935" x="476.35" y="729.10" style="fill: #1f77b4; stroke: #1f77b4; stroke-width: 1.3"/><use href="#m92d5d42935" x="502.47" y="735.95" style="fill: #1f77b4; stroke: #1f77b4; stroke-width: 1.3"/><use href="#m92d5d42935" x="517.75" y="740.93" style="fill: #1f77b4; stroke: #1f77b4; stroke-width: 1.3"/><use href="#m92d5d42935" x="528.59" y="744.05" style="fill: #1f77b4; stroke: #1f77b4; stroke-width: 1.3"/><use href="#m92d5d42935" x="537.00" y="746.33" style="fill: #1f77b4; stroke: #1f77b4; stroke-width: 1.3"/><use href="#m92d5d42935" x="543.87" y="748.20" style="fill: #1f77b4; stroke: #1f77b4; stroke-width: 1.3"/><use href="#m92d5d42935" x="554.71" y="751.31" style="fill: #1f77b4; stroke: #1f77b4; stroke-width: 1.3"/><use href="#m92d5d42935" x="563.12" y="752.98" style="fill: #1f77b4; stroke: #1f77b4; stroke-width: 1.3"/><use href="#m92d5d42935" x="569.99" y="754.64" style="fill: #1f77b4; stroke: #1f77b4; stroke-width: 1.3"/><use href="#m92d5d42935" x="578.40" y="756.09" style="fill: #1f77b4; stroke: #1f77b4; stroke-width: 1.3"/></g></g><g><g clip-path="url(#paa1442e814)"><use href="#m8536452fce" x="356.59" y="710.41" style="fill: #2ca02c; stroke: #2ca02c; stroke-width: 1.3"/><use href="#m8536452fce" x="382.71" y="710.82" style="fill: #2ca02c; stroke: #2ca02c; stroke-width: 1.3"/><use href="#m8536452fce" x="397.99" y="711.86" style="fill: #2ca02c; stroke: #2ca02c; stroke-width: 1.3"/><use href="#m8536452fce" x="408.83" y="714.56" style="fill: #2ca02c; stroke: #2ca02c; stroke-width: 1.3"/><use href="#m8536452fce" x="424.11" y="718.09" style="fill: #2ca02c; stroke: #2ca02c; stroke-width: 1.3"/><use href="#m8536452fce" x="434.95" y="720.79" style="fill: #2ca02c; stroke: #2ca02c; stroke-width: 1.3"/><use href="#m8536452fce" x="443.36" y="722.24" style="fill: #2ca02c; stroke: #2ca02c; stroke-width: 1.3"/><use href="#m8536452fce" x="450.23" y="723.91" style="fill: #2ca02c; stroke: #2ca02c; stroke-width: 1.3"/><use href="#m8536452fce" x="465.51" y="728.06" style="fill: #2ca02c; stroke: #2ca02c; stroke-width: 1.3"/><use href="#m8536452fce" x="476.35" y="731.80" style="fill: #2ca02c; stroke: #2ca02c; stroke-width: 1.3"/><use href="#m8536452fce" x="502.47" y="743.01" style="fill: #2ca02c; stroke: #2ca02c; stroke-width: 1.3"/><use href="#m8536452fce" x="517.75" y="749.45" style="fill: #2ca02c; stroke: #2ca02c; stroke-width: 1.3"/><use href="#m8536452fce" x="528.59" y="752.98" style="fill: #2ca02c; stroke: #2ca02c; stroke-width: 1.3"/><use href="#m8536452fce" x="537.00" y="756.71" style="fill: #2ca02c; stroke: #2ca02c; stroke-width: 1.3"/><use href="#m8536452fce" x="543.87" y="759.20" style="fill: #2ca02c; stroke: #2ca02c; stroke-width: 1.3"/><use href="#m8536452fce" x="554.71" y="764.81" style="fill: #2ca02c; stroke: #2ca02c; stroke-width: 1.3"/><use href="#m8536452fce" x="563.12" y="769.59" style="fill: #2ca02c; stroke: #2ca02c; stroke-width: 1.3"/><use href="#m8536452fce" x="569.99" y="770.62" style="fill: #2ca02c; stroke: #2ca02c; stroke-width: 1.3"/><use href="#m8536452fce" x="578.40" y="772.29" style="fill: #2ca02c; stroke: #2ca02c; stroke-width: 1.3"/></g></g><g><g clip-path="url(#paa1442e814)"><use href="#m8536452fce" x="356.59" y="717.26" style="fill: #2ca02c; stroke: #2ca02c; stroke-width: 1.3"/><use href="#m8536452fce" x="382.71" y="718.09" style="fill: #2ca02c; stroke: #2ca02c; stroke-width: 1.3"/><use href="#m8536452fce" x="397.99" y="718.71" style="fill: #2ca02c; stroke: #2ca02c; stroke-width: 1.3"/><use href="#m8536452fce" x="408.83" y="719.34" style="fill: #2ca02c; stroke: #2ca02c; stroke-width: 1.3"/><use href="#m8536452fce" x="424.11" y="722.87" style="fill: #2ca02c; stroke: #2ca02c; stroke-width: 1.3"/><use href="#m8536452fce" x="434.95" y="725.57" style="fill: #2ca02c; stroke: #2ca02c; stroke-width: 1.3"/><use href="#m8536452fce" x="443.36" y="728.06" style="fill: #2ca02c; stroke: #2ca02c; stroke-width: 1.3"/><use href="#m8536452fce" x="450.23" y="730.13" style="fill: #2ca02c; stroke: #2ca02c; stroke-width: 1.3"/><use href="#m8536452fce" x="465.51" y="737.40" style="fill: #2ca02c; stroke: #2ca02c; stroke-width: 1.3"/><use href="#m8536452fce" x="476.35" y="741.14" style="fill: #2ca02c; stroke: #2ca02c; stroke-width: 1.3"/><use href="#m8536452fce" x="502.47" y="753.39" style="fill: #2ca02c; stroke: #2ca02c; stroke-width: 1.3"/><use href="#m8536452fce" x="517.75" y="759.20" style="fill: #2ca02c; stroke: #2ca02c; stroke-width: 1.3"/><use href="#m8536452fce" x="528.59" y="762.73" style="fill: #2ca02c; stroke: #2ca02c; stroke-width: 1.3"/><use href="#m8536452fce" x="537.00" y="765.85" style="fill: #2ca02c; stroke: #2ca02c; stroke-width: 1.3"/><use href="#m8536452fce" x="543.87" y="768.55" style="fill: #2ca02c; stroke: #2ca02c; stroke-width: 1.3"/><use href="#m8536452fce" x="554.71" y="773.32" style="fill: #2ca02c; stroke: #2ca02c; stroke-width: 1.3"/><use href="#m8536452fce" x="563.12" y="776.44" style="fill: #2ca02c; stroke: #2ca02c; stroke-width: 1.3"/><use href="#m8536452fce" x="569.99" y="776.85" style="fill: #2ca02c; stroke: #2ca02c; stroke-width: 1.3"/><use href="#m8536452fce" x="578.40" y="778.93" style="fill: #2ca02c; stroke: #2ca02c; stroke-width: 1.3"/></g></g><g><g clip-path="url(#paa1442e814)"><use href="#m392b33b074" x="356.59" y="702.10" style="fill: #1f77b4"/><use href="#m392b33b074" x="382.71" y="703.14" style="fill: #1f77b4"/><use href="#m392b33b074" x="397.99" y="705.22" style="fill: #1f77b4"/><use href="#m392b33b074" x="408.83" y="706.88" style="fill: #1f77b4"/><use href="#m392b33b074" x="424.11" y="710.41" style="fill: #1f77b4"/><use href="#m392b33b074" x="434.95" y="713.52" style="fill: #1f77b4"/><use href="#m392b33b074" x="443.36" y="715.60" style="fill: #1f77b4"/><use href="#m392b33b074" x="450.23" y="716.64" style="fill: #1f77b4"/><use href="#m392b33b074" x="465.51" y="721.83" style="fill: #1f77b4"/><use href="#m392b33b074" x="476.35" y="725.57" style="fill: #1f77b4"/><use href="#m392b33b074" x="502.47" y="732.63" style="fill: #1f77b4"/><use href="#m392b33b074" x="517.75" y="737.40" style="fill: #1f77b4"/><use href="#m392b33b074" x="528.59" y="740.52" style="fill: #1f77b4"/><use href="#m392b33b074" x="537.00" y="743.01" style="fill: #1f77b4"/><use href="#m392b33b074" x="543.87" y="744.67" style="fill: #1f77b4"/><use href="#m392b33b074" x="554.71" y="747.78" style="fill: #1f77b4"/><use href="#m392b33b074" x="563.12" y="749.86" style="fill: #1f77b4"/><use href="#m392b33b074" x="569.99" y="751.52" style="fill: #1f77b4"/><use href="#m392b33b074" x="578.40" y="752.98" style="fill: #1f77b4"/></g></g><g><g clip-path="url(#paa1442e814)"><use href="#mb3e0cefdb7" x="356.59" y="713.11" style="fill: #2ca02c"/><use href="#mb3e0cefdb7" x="382.71" y="713.52" style="fill: #2ca02c"/><use href="#mb3e0cefdb7" x="397.99" y="714.56" style="fill: #2ca02c"/><use href="#mb3e0cefdb7" x="408.83" y="716.22" style="fill: #2ca02c"/><use href="#mb3e0cefdb7" x="424.11" y="719.75" style="fill: #2ca02c"/><use href="#mb3e0cefdb7" x="434.95" y="722.87" style="fill: #2ca02c"/><use href="#mb3e0cefdb7" x="443.36" y="725.36" style="fill: #2ca02c"/><use href="#mb3e0cefdb7" x="450.23" y="727.44" style="fill: #2ca02c"/><use href="#mb3e0cefdb7" x="465.51" y="732.63" style="fill: #2ca02c"/><use href="#mb3e0cefdb7" x="476.35" y="736.36" style="fill: #2ca02c"/><use href="#mb3e0cefdb7" x="502.47" y="747.78" style="fill: #2ca02c"/><use href="#mb3e0cefdb7" x="517.75" y="753.60" style="fill: #2ca02c"/><use href="#mb3e0cefdb7" x="528.59" y="757.13" style="fill: #2ca02c"/><use href="#mb3e0cefdb7" x="537.00" y="760.87" style="fill: #2ca02c"/><use href="#mb3e0cefdb7" x="543.87" y="763.36" style="fill: #2ca02c"/><use href="#mb3e0cefdb7" x="554.71" y="767.93" style="fill: #2ca02c"/><use href="#mb3e0cefdb7" x="563.12" y="772.08" style="fill: #2ca02c"/><use href="#mb3e0cefdb7" x="569.99" y="772.70" style="fill: #2ca02c"/><use href="#mb3e0cefdb7" x="578.40" y="775.19" style="fill: #2ca02c"/></g></g><g><path d="M 345.5 797.3 L 345.5 673.5 " style="fill: none; stroke: #000000; stroke-width: 1.14; stroke-linejoin: miter; stroke-linecap: square"/></g><g><path d="M 589.5 797.3 L 589.5 673.5 " style="fill: none; stroke: #000000; stroke-width: 1.14; stroke-linejoin: miter; stroke-linecap: square"/></g><g><path d="M 345.5 797.3 L 589.5 797.3 " style="fill: none; stroke: #000000; stroke-width: 1.14; stroke-linejoin: miter; stroke-linecap: square"/></g><g><path d="M 345.5 673.5 L 589.5 673.5 " style="fill: none; stroke: #000000; stroke-width: 1.14; stroke-linejoin: miter; stroke-linecap: square"/></g><g><text style="font-size: 17.16px; font-family: 'DejaVu Sans', 'Liberation Sans', sans-serif; text-anchor: middle" x="467.5" y="665.82" transform="rotate(-0 467.5 665.82)">Natal</text></g></g><g><g><path d="M 118.41 31.37 L 125.09 29.06 L 128.58 28.61 L 131.54 29.10 L 136.14 29.48 L 136.78 29.52 L 140.46 29.19 L 143.24 29.90 L 149.92 30.20 L 152.87 30.18 L 156.63 29.93 L 157.93 29.78 L 159.98 29.43 L 160.14 30.90 L 155.62 32.45 L 151.79 33.96 L 151.21 35.35 L 152.82 36.74 L 155.38 37.72 L 155.67 40.10 L 156.80 38.05 L 159.19 35.79 L 160.37 33.20 L 162.75 33.37 L 163.89 33.96 L 166.08 34.55 L 166.90 36.50 L 167.14 37.72 L 168.47 39.75 L 165.76 42.59 L 162.65 41.87 L 162.22 43.69 L 163.97 44.44 L 158.85 45.76 L 158.20 45.95 L 157.70 47.33 L 154.98 48.27 L 153.39 50.25 L 152.30 52.68 L 148.32 55.57 L 147.76 59.77 L 147.25 60.93 L 146.55 59.81 L 146.06 56.83 L 143.61 56.58 L 142.02 57.68 L 139.63 57.17 L 136.98 58.95 L 135.37 63.71 L 135.98 66.35 L 136.83 67.06 L 139.23 66.53 L 139.95 64.59 L 142.33 64.15 L 141.00 68.13 L 140.59 69.02 L 143.42 69.20 L 143.32 72.15 L 143.03 73.51 L 144.07 75.31 L 145.79 74.86 L 147.06 75.77 L 147.06 75.77 " clip-path="url(#p00a1719387)" style="fill: none; stroke: #777777; stroke-width: 0.5; stroke-linecap: square"/></g><g><path d="M 147.03 76.22 L 145.31 76.85 L 142.25 74.82 L 141.67 74.41 L 140.75 71.71 L 138.20 70.81 L 136.81 69.02 L 134.79 69.20 L 132.41 67.68 L 130.02 65.03 L 130.58 62.84 L 128.95 59.17 L 127.93 56.79 L 127.16 55.40 L 127.75 60.89 L 127.98 62.84 L 126.82 61.28 L 126.24 58.46 L 126.06 56.43 L 125.97 54.43 L 125.69 53.50 L 124.58 53.09 L 124.66 50.65 L 125.11 48.27 L 126.20 46.33 L 128.37 43.07 L 128.75 42.30 L 130.03 41.87 L 128.66 40.45 L 129.67 36.58 L 129.77 36.10 L 128.19 35.29 L 127.66 34.74 L 125.41 34.07 L 120.76 35.30 L 118.81 36.10 L 116.33 36.42 L 112.21 37.81 L 110.91 38.05 L 117.67 35.35 L 115.98 33.96 L 118.08 32.68 L 120.87 31.96 L 118.53 31.91 L 118.41 31.37 L 118.41 31.37 " clip-path="url(#p00a1719387)" style="fill: none; stroke: #777777; stroke-width: 0.5; stroke-linecap: square"/></g><g><path d="M 168.23 26.12 L 169.03 25.94 L 169.81 25.76 L 170.58 25.60 L 171.34 25.44 L 172.14 25.35 L 172.94 25.26 L 173.72 25.18 L 174.51 25.10 L 176.62 25.02 L 178.72 24.95 L 180.80 24.88 L 182.88 24.81 L 184.40 24.84 L 185.92 24.86 L 187.44 24.88 L 188.97 24.90 L 189.66 24.97 L 190.36 25.05 L 191.06 25.13 L 191.76 25.21 L 191.51 25.41 L 191.25 25.63 L 190.99 25.87 L 190.71 26.12 L 190.76 26.36 L 190.81 26.60 L 190.86 26.86 L 190.91 27.13 L 190.52 27.41 L 190.12 27.70 L 189.72 28.00 L 189.31 28.31 L 189.26 28.53 L 189.21 28.74 L 189.15 28.97 L 189.10 29.19 L 188.60 29.37 L 188.09 29.54 L 187.59 29.72 L 187.07 29.90 L 186.24 29.96 L 185.40 30.02 L 184.57 30.08 L 183.73 30.15 L 183.04 30.44 L 182.34 30.75 L 181.64 31.06 L 180.92 31.37 L 180.26 31.86 L 179.59 32.35 L 178.91 32.85 L 178.23 33.37 L 177.87 33.66 L 177.51 33.96 L 177.15 34.25 L 176.78 34.55 L 176.33 34.40 L 175.88 34.25 L 175.43 34.10 L 174.99 33.96 L 174.83 33.59 L 174.67 33.23 L 174.52 32.87 L 174.37 32.52 L 174.29 32.17 L 174.21 31.83 L 174.13 31.49 L 174.06 31.16 L 174.11 30.71 L 174.17 30.27 L 174.23 29.84 L 174.28 29.43 L 174.30 29.19 L 174.32 28.97 L 174.33 28.74 L 174.35 28.53 L 174.27 28.10 L 174.19 27.70 L 174.11 27.31 L 174.03 26.95 L 173.22 26.86 L 172.42 26.77 L 171.62 26.68 L 170.83 26.60 L 170.17 26.48 L 169.52 26.36 L 168.88 26.24 L 168.23 26.12 " clip-path="url(#p00a1719387)" style="fill: none; stroke: #777777; stroke-width: 0.5; stroke-linecap: square"/></g><g><path d="M 159.69 27.82 L 160.37 28.14 L 161.07 28.48 L 161.77 28.83 L 162.48 29.19 L 162.87 29.43 L 163.25 29.66 L 163.64 29.90 L 164.04 30.15 L 164.25 30.33 L 164.47 30.52 L 164.68 30.71 L 164.90 30.90 L 163.99 31.18 L 163.07 31.45 L 162.15 31.73 L 161.21 32.02 L 161.78 32.07 L 162.35 32.13 L 162.92 32.18 L 163.50 32.24 L 164.31 32.49 L 165.13 32.74 L 165.97 33.00 L 166.81 33.25 L 166.94 33.14 L 167.07 33.02 L 167.20 32.91 L 167.32 32.80 L 168.00 32.27 L 168.68 31.75 L 169.34 31.24 L 170.00 30.75 L 169.44 30.31 L 168.90 29.88 L 168.38 29.46 L 167.86 29.06 L 166.98 28.79 L 166.11 28.53 L 165.25 28.27 L 164.40 28.02 L 163.22 27.97 L 162.04 27.92 L 160.86 27.87 L 159.69 27.82 " clip-path="url(#p00a1719387)" style="fill: none; stroke: #777777; stroke-width: 0.5; stroke-linecap: square"/></g><g><path d="M 164.81 26.60 L 163.77 26.56 L 162.74 26.52 L 161.71 26.48 L 160.69 26.44 L 160.77 26.16 L 160.84 25.90 L 160.90 25.66 L 160.95 25.44 L 162.88 25.29 L 164.78 25.15 L 166.66 25.02 L 168.52 24.90 L 169.70 24.95 L 170.89 25.00 L 172.08 25.05 L 173.27 25.10 L 172.46 25.21 L 171.65 25.32 L 170.82 25.44 L 169.98 25.56 L 168.73 25.80 L 167.45 26.05 L 166.15 26.32 L 164.81 26.60 " clip-path="url(#p00a1719387)" style="fill: none; stroke: #777777; stroke-width: 0.5; stroke-linecap: square"/></g><g><path d="M 144.47 29.66 L 145.09 29.72 L 145.72 29.78 L 146.35 29.84 L 146.97 29.90 L 148.32 29.84 L 149.67 29.78 L 151.01 29.72 L 152.35 29.66 L 152.66 29.37 L 152.97 29.08 L 153.27 28.80 L 153.57 28.53 L 153.14 28.31 L 152.70 28.10 L 152.27 27.90 L 151.85 27.70 L 150.94 27.72 L 150.03 27.74 L 149.12 27.76 L 148.20 27.78 L 147.52 27.96 L 146.84 28.14 L 146.14 28.33 L 145.44 28.53 L 145.20 28.80 L 144.96 29.08 L 144.72 29.37 L 144.47 29.66 " clip-path="url(#p00a1719387)" style="fill: none; stroke: #777777; stroke-width: 0.5; stroke-linecap: square"/></g><g><path d="M 142.73 28.53 L 143.27 28.55 L 143.80 28.57 L 144.34 28.59 L 144.88 28.61 L 145.64 28.38 L 146.39 28.14 L 147.13 27.92 L 147.86 27.70 L 147.22 27.60 L 146.58 27.50 L 145.94 27.41 L 145.31 27.31 L 144.68 27.60 L 144.04 27.90 L 143.39 28.21 L 142.73 28.53 " clip-path="url(#p00a1719387)" style="fill: none; stroke: #777777; stroke-width: 0.5; stroke-linecap: square"/></g><g><path d="M 156.51 28.31 L 157.34 28.05 L 158.16 27.80 L 158.97 27.55 L 159.76 27.31 L 159.14 27.17 L 158.53 27.04 L 157.92 26.90 L 157.31 26.77 L 156.78 26.95 L 156.25 27.13 L 155.71 27.31 L 155.17 27.50 L 155.50 27.70 L 155.83 27.90 L 156.17 28.10 L 156.51 28.31 " clip-path="url(#p00a1719387)" style="fill: none; stroke: #777777; stroke-width: 0.5; stroke-linecap: square"/></g><g><path d="M 151.47 26.95 L 152.12 26.86 L 152.77 26.77 L 153.42 26.68 L 154.06 26.60 L 153.09 26.52 L 152.13 26.44 L 151.17 26.36 L 150.21 26.28 L 149.72 26.40 L 149.23 26.52 L 148.74 26.64 L 148.24 26.77 L 149.04 26.81 L 149.85 26.86 L 150.66 26.90 L 151.47 26.95 " clip-path="url(#p00a1719387)" style="fill: none; stroke: #777777; stroke-width: 0.5; stroke-linecap: square"/></g><g><path d="M 143.71 63.80 L 144.25 63.56 L 144.79 63.32 L 145.33 63.08 L 145.86 62.84 L 146.54 63.10 L 147.22 63.36 L 147.90 63.63 L 148.59 63.89 L 149.06 64.24 L 149.54 64.59 L 150.02 64.94 L 150.50 65.29 L 149.95 65.36 L 149.40 65.43 L 148.84 65.49 L 148.29 65.56 L 147.87 65.14 L 147.45 64.72 L 147.04 64.30 L 146.63 63.89 L 145.90 63.87 L 145.17 63.84 L 144.44 63.82 L 143.71 63.80 " clip-path="url(#p00a1719387)" style="fill: none; stroke: #777777; stroke-width: 0.5; stroke-linecap: square"/></g><g><path d="M 150.05 66.88 L 150.38 66.55 L 150.71 66.22 L 151.05 65.89 L 151.38 65.56 L 151.99 65.62 L 152.61 65.69 L 153.22 65.76 L 153.83 65.82 L 153.90 66.04 L 153.97 66.26 L 154.03 66.49 L 154.10 66.71 L 153.56 66.93 L 153.02 67.15 L 152.47 67.37 L 151.93 67.59 L 151.46 67.42 L 150.99 67.24 L 150.52 67.06 L 150.05 66.88 " clip-path="url(#p00a1719387)" style="fill: none; stroke: #777777; stroke-width: 0.5; stroke-linecap: square"/></g><g><path d="M 96.46 66.35 L 96.66 66.24 L 96.86 66.13 L 97.07 66.02 L 97.27 65.91 L 97.19 65.76 L 97.11 65.60 L 97.03 65.45 L 96.95 65.29 L 96.83 65.56 L 96.70 65.82 L 96.58 66.09 L 96.46 66.35 " clip-path="url(#p00a1719387)" style="fill: none; stroke: #777777; stroke-width: 0.5; stroke-linecap: square"/></g><g><path d="M 147.06 75.77 L 148.55 73.96 L 151.02 72.60 L 151.23 73.96 L 154.93 73.87 L 156.78 73.82 L 158.28 73.96 L 160.75 78.03 L 164.10 78.94 L 165.22 82.68 L 165.38 83.5 L 167.93 85.09 L 169.12 85.77 L 172.16 86.05 L 174.52 88.02 L 175.44 88.50 L 175.67 91.68 L 173.90 95.40 L 173.25 97.08 L 173.44 99.75 L 172.51 103.17 L 171.88 104.15 L 170.01 104.85 L 168.00 106.75 L 168.12 108.89 L 166.65 112.04 L 165.99 113.39 L 165.26 114.31 L 163.72 114.31 L 164.41 115.94 L 164.11 117.14 L 161.81 117.54 L 161.97 119.11 L 160.74 119.89 L 161.58 120.66 L 160.36 122.93 L 161.65 124.03 L 161.22 126.37 L 161.18 126.89 L 162.25 128.01 L 163.67 129.27 L 162.55 129.17 L 161.80 129.27 L 159.87 128.26 L 158.33 127.24 L 156.41 124.40 L 155.56 119.50 L 154.47 116.34 L 154.62 112.67 L 153.57 108.46 L 152.90 100.19 L 150.03 97.53 L 148.53 96.18 L 146.69 92.69 L 144.52 88.05 L 145.11 85.32 L 144.76 83.5 L 145.70 81.79 L 146.49 80.76 L 147.02 78.94 L 147.03 76.22 L 147.03 76.22 " clip-path="url(#p00a1719387)" style="fill: none; stroke: #777777; stroke-width: 0.5; stroke-linecap: square"/></g><g><path d="M 195.63 52.02 L 197.96 52.59 L 201.03 51.21 L 205.29 50.81 L 205.96 52.27 L 205.40 53.50 L 206.36 54.32 L 208.58 54.82 L 211.20 56.58 L 211.73 55.15 L 213.56 54.65 L 214.88 55.40 L 217.46 56.07 L 220.70 55.74 L 221.07 57.25 L 219.76 56.92 L 222.30 62.62 L 223.55 64.59 L 225.20 68.35 L 226.05 69.84 L 227.19 71.28 L 228.14 72.15 L 228.71 73.96 L 233.33 72.78 L 233.54 73.96 L 232.87 76.67 L 231.28 79.97 L 230.29 81.67 L 227.59 84.41 L 226.22 86.68 L 225.49 89.41 L 226.13 97.08 L 223.63 99.75 L 222.43 102.40 L 222.20 105.02 L 220.36 106.75 L 219.89 108.89 L 218.35 111.42 L 216.24 112.87 L 215.01 113.49 L 212.51 113.78 L 211.55 114.15 L 210.67 113.49 L 210.38 111.42 L 209.13 107.61 L 208.63 104.15 L 207.33 100.08 L 207.02 98.42 L 208.23 94.39 L 207.81 91.00 L 207.30 87.82 L 207.17 86.68 L 205.62 84.41 L 205.71 80.19 L 205.75 79.85 L 204.93 79.40 L 203.25 79.58 L 202.23 77.76 L 200.21 77.85 L 197.84 79.22 L 196.16 78.76 L 194.13 79.49 L 192.11 77.85 L 191.45 77.22 L 188.86 73.17 L 188.03 72.15 L 187.75 70.18 L 188.26 68.57 L 188.55 65.65 L 188.07 64.59 L 190.18 60.46 L 190.88 58.95 L 192.86 57.25 L 193.04 55.57 L 193.90 54.07 L 195.17 53.09 L 195.63 52.02 L 195.63 52.02 " clip-path="url(#p00a1719387)" style="fill: none; stroke: #777777; stroke-width: 0.5; stroke-linecap: square"/></g><g><path d="M 232.18 94.39 L 232.33 95.17 L 232.47 95.96 L 232.61 96.74 L 232.75 97.53 L 232.54 97.97 L 232.34 98.42 L 232.13 98.86 L 231.92 99.31 L 231.38 100.97 L 230.82 102.62 L 230.25 104.26 L 229.67 105.89 L 229.30 106.00 L 228.94 106.10 L 228.57 106.21 L 228.20 106.32 L 228.04 105.67 L 227.87 105.02 L 227.71 104.37 L 227.53 103.71 L 227.67 103.17 L 227.81 102.62 L 227.95 102.07 L 228.09 101.52 L 228.21 100.75 L 228.33 99.97 L 228.45 99.20 L 228.56 98.42 L 228.94 98.24 L 229.32 98.06 L 229.70 97.88 L 230.08 97.70 L 230.36 97.21 L 230.65 96.72 L 230.94 96.23 L 231.22 95.73 L 231.46 95.40 L 231.70 95.06 L 231.94 94.72 L 232.18 94.39 " clip-path="url(#p00a1719387)" style="fill: none; stroke: #777777; stroke-width: 0.5; stroke-linecap: square"/></g><g><path d="M 195.76 51.86 L 195.35 51.21 L 193.76 51.05 L 193.47 49.45 L 193.92 46.87 L 193.74 46.18 L 194.52 45.79 L 197.95 46.02 L 198.32 46.02 L 198.50 44.06 L 197.94 43.18 L 196.64 42.66 L 196.66 42.16 L 198.35 42.08 L 201.12 40.17 L 201.91 38.86 L 203.79 38.66 L 203.61 36.90 L 203.50 36.42 L 204.68 36.10 L 204.91 37.72 L 205.07 38.39 L 207.34 38.29 L 209.46 37.84 L 210.47 37.39 L 210.31 36.42 L 211.72 36.10 L 211.49 34.92 L 213.77 34.78 L 214.48 34.55 L 211.17 34.55 L 210.04 33.96 L 209.82 32.80 L 211.39 31.69 L 209.75 31.27 L 209.51 31.96 L 207.89 33.08 L 207.87 33.96 L 208.72 34.55 L 207.81 36.10 L 207.91 36.94 L 206.80 37.39 L 205.97 37.07 L 204.59 35.04 L 202.83 35.79 L 202.02 35.16 L 201.70 33.66 L 202.65 32.80 L 204.30 31.96 L 205.35 30.65 L 206.96 29.61 L 207.91 29.19 L 210.39 28.81 L 211.91 28.74 L 216.48 30.00 L 218.56 30.49 L 218.83 31.16 L 215.89 31.69 L 217.33 32.35 L 218.90 31.96 L 220.22 31.06 L 219.71 29.90 L 223.07 30.08 L 224.96 29.91 L 227.75 29.90 L 230.80 29.76 L 230.33 27.90 L 232.34 28.74 L 232.72 28.10 L 237.90 27.04 L 241.83 26.48 L 243.42 26.21 L 247.56 26.77 L 249.20 27.70 L 256.97 28.26 L 258.68 28.74 L 261.78 28.10 L 268.44 28.74 L 273.01 29.43 L 277.21 29.19 L 282.63 29.66 L 282.63 29.66 " clip-path="url(#p00a1719387)" style="fill: none; stroke: #777777; stroke-width: 0.5; stroke-linecap: square"/></g><g><path d="M 115.71 29.66 L 115.97 29.90 L 116.23 30.15 L 116.49 30.39 L 116.76 30.65 L 117.08 30.74 L 117.40 30.83 L 117.73 30.92 L 118.05 31.01 L 117.43 31.24 L 116.79 31.48 L 116.16 31.72 L 115.52 31.96 L 115.03 31.90 L 114.53 31.83 L 114.04 31.76 L 113.54 31.69 L 113.25 31.65 L 112.95 31.61 L 112.66 31.57 L 112.37 31.53 " clip-path="url(#p00a1719387)" style="fill: none; stroke: #777777; stroke-width: 0.5; stroke-linecap: square"/></g><g><path d="M 285.98 31.53 L 285.79 31.96 L 287.11 33.08 L 285.94 33.96 L 284.27 34.55 L 282.40 34.68 L 284.13 35.79 L 284.89 37.23 L 285.83 38.73 L 285.77 40.45 L 280.86 36.42 L 281.28 35.79 L 280.55 34.25 L 278.70 34.98 L 274.64 35.01 L 272.55 34.98 L 271.91 36.74 L 273.05 38.39 L 276.21 39.41 L 278.51 42.23 L 278.59 44.72 L 278.57 45.57 L 275.66 46.87 L 276.15 49.05 L 278.15 51.05 L 278.70 52.51 L 277.46 53.09 L 275.98 50.65 L 274.34 49.05 L 272.08 48.27 L 272.46 49.45 L 270.35 49.45 L 270.53 50.01 L 271.81 51.05 L 273.94 51.05 L 272.74 52.68 L 276.08 56.16 L 276.58 57.68 L 276.21 60.67 L 274.96 62.84 L 273.19 63.45 L 271.53 64.59 L 270.81 64.06 L 269.06 65.21 L 268.96 66.80 L 271.48 69.46 L 272.33 72.60 L 270.65 74.36 L 269.67 75.59 L 269.63 73.96 L 267.38 72.09 L 266.27 71.35 L 265.79 74.41 L 266.78 77.13 L 267.60 77.31 L 269.07 79.12 L 269.65 82.22 L 269.10 82.22 L 267.66 80.94 L 266.90 78.94 L 265.36 76.22 L 265.10 72.60 L 263.89 68.57 L 261.78 69.02 L 261.23 66.35 L 259.27 64.33 L 258.21 63.54 L 257.02 64.06 L 255.12 66.09 L 253.75 68.57 L 252.51 69.20 L 252.76 72.31 L 252.74 74.14 L 251.35 76.13 L 250.12 73.91 L 248.14 69.40 L 247.61 67.90 L 246.76 64.41 L 245.02 64.59 L 242.92 61.84 L 242.09 60.84 L 239.20 60.93 L 236.23 60.50 L 235.33 59.38 L 233.84 59.64 L 232.08 58.70 L 230.82 56.83 L 229.56 56.83 L 229.57 56.94 L 229.62 57.25 L 232.54 61.71 L 234.17 61.80 L 235.37 59.98 L 235.77 61.71 L 238.15 63.28 L 237.35 65.38 L 236.45 66.75 L 235.10 68.06 L 232.63 70.00 L 231.52 70.81 L 228.98 71.93 L 228.14 72.06 L 227.63 69.46 L 226.56 66.80 L 224.69 64.15 L 223.01 60.78 L 221.54 58.21 L 221.19 57.25 L 220.91 58.70 L 219.82 56.92 L 219.82 56.92 " clip-path="url(#p00a1719387)" style="fill: none; stroke: #777777; stroke-width: 0.5; stroke-linecap: square"/></g><g><path d="M 220.70 55.74 L 221.07 53.81 L 221.33 51.37 L 219.04 51.68 L 217.48 51.52 L 216.30 51.21 L 215.22 49.85 L 214.97 48.39 L 214.70 48.03 L 213.28 48.66 L 213.02 50.53 L 212.65 51.37 L 211.63 49.45 L 210.85 48.27 L 210.73 47.10 L 208.57 45.95 L 207.12 44.66 L 206.31 44.59 L 206.49 45.57 L 207.45 46.71 L 210.27 48.50 L 208.98 50.05 L 208.72 50.25 L 208.87 49.05 L 208.47 48.50 L 206.07 47.02 L 204.32 45.26 L 203.29 45.87 L 201.83 45.95 L 201.04 46.85 L 201.09 47.25 L 199.67 47.88 L 199.01 49.05 L 199.32 49.69 L 198.56 50.75 L 197.91 51.29 L 196.44 51.37 L 195.76 51.86 L 195.76 51.86 " clip-path="url(#p00a1719387)" style="fill: none; stroke: #777777; stroke-width: 0.5; stroke-linecap: square"/></g><g><path d="M 215.84 47.64 L 215.85 47.22 L 215.86 46.79 L 215.88 46.37 L 215.89 45.95 L 216.04 45.51 L 216.19 45.07 L 216.34 44.64 L 216.48 44.21 L 216.91 44.17 L 217.33 44.14 L 217.76 44.10 L 218.18 44.06 L 218.31 44.34 L 218.43 44.62 L 218.55 44.90 L 218.68 45.19 L 219.09 45.06 L 219.50 44.92 L 219.91 44.79 L 220.32 44.66 L 220.47 44.32 L 220.61 43.99 L 220.75 43.65 L 220.90 43.32 L 221.11 43.32 L 221.32 43.32 L 221.54 43.32 L 221.75 43.32 L 221.58 43.51 L 221.41 43.69 L 221.23 43.88 L 221.06 44.06 L 221.04 44.30 L 221.02 44.55 L 221.00 44.79 L 220.97 45.04 L 221.40 45.32 L 221.82 45.60 L 222.24 45.89 L 222.67 46.18 L 222.97 46.50 L 223.28 46.83 L 223.58 47.16 L 223.89 47.49 L 223.23 47.58 L 222.56 47.68 L 221.90 47.78 L 221.23 47.88 L 220.90 47.68 L 220.56 47.49 L 220.23 47.29 L 219.90 47.10 L 219.34 47.25 L 218.77 47.41 L 218.20 47.56 L 217.63 47.72 L 217.18 47.70 L 216.73 47.68 L 216.29 47.66 L 215.84 47.64 " clip-path="url(#p00a1719387)" style="fill: none; stroke: #777777; stroke-width: 0.5; stroke-linecap: square"/></g><g><path d="M 226.43 44.81 L 226.79 44.53 L 227.15 44.25 L 227.50 43.97 L 227.86 43.69 L 228.36 43.93 L 228.86 44.17 L 229.36 44.42 L 229.87 44.66 L 229.70 44.85 L 229.54 45.04 L 229.38 45.22 L 229.21 45.41 L 229.55 45.83 L 229.88 46.25 L 230.22 46.67 L 230.55 47.10 L 230.73 47.49 L 230.91 47.88 L 231.08 48.27 L 231.26 48.66 L 231.44 49.19 L 231.62 49.73 L 231.79 50.27 L 231.97 50.81 L 231.56 50.91 L 231.16 51.01 L 230.76 51.11 L 230.35 51.21 L 229.99 50.97 L 229.63 50.73 L 229.28 50.49 L 228.92 50.25 L 228.90 49.79 L 228.87 49.33 L 228.84 48.88 L 228.81 48.42 L 228.50 48.09 L 228.20 47.76 L 227.90 47.43 L 227.59 47.10 L 227.35 46.71 L 227.11 46.33 L 226.87 45.95 L 226.63 45.57 L 226.58 45.38 L 226.53 45.19 L 226.48 45.00 L 226.43 44.81 " clip-path="url(#p00a1719387)" style="fill: none; stroke: #777777; stroke-width: 0.5; stroke-linecap: square"/></g><g><path d="M 196.02 41.15 L 197.01 40.94 L 198.00 40.73 L 198.99 40.52 L 199.97 40.31 L 200.01 40.05 L 200.05 39.79 L 200.08 39.53 L 200.12 39.27 L 199.89 39.13 L 199.66 39.00 L 199.43 38.86 L 199.2 38.73 L 198.99 38.39 L 198.79 38.05 L 198.59 37.72 L 198.40 37.39 L 198.34 37.03 L 198.27 36.68 L 198.21 36.33 L 198.15 35.98 L 198.03 35.83 L 197.90 35.69 L 197.77 35.55 L 197.65 35.41 L 197.39 35.41 L 197.13 35.41 L 196.87 35.41 L 196.61 35.41 L 196.45 35.58 L 196.29 35.76 L 196.12 35.93 L 195.96 36.10 L 196.04 36.42 L 196.11 36.74 L 196.19 37.07 L 196.27 37.39 L 196.58 37.51 L 196.90 37.62 L 197.22 37.74 L 197.54 37.86 L 197.54 38.09 L 197.55 38.32 L 197.56 38.56 L 197.57 38.79 L 197.34 38.90 L 197.10 39.00 L 196.87 39.10 L 196.63 39.20 L 196.56 39.39 L 196.49 39.58 L 196.41 39.77 L 196.34 39.96 L 196.64 40.03 L 196.94 40.10 L 197.24 40.17 L 197.54 40.24 L 197.16 40.47 L 196.78 40.69 L 196.40 40.92 L 196.02 41.15 " clip-path="url(#p00a1719387)" style="fill: none; stroke: #777777; stroke-width: 0.5; stroke-linecap: square"/></g><g><path d="M 195.91 39.61 L 195.92 39.32 L 195.93 39.03 L 195.95 38.74 L 195.96 38.46 L 195.77 38.22 L 195.58 37.99 L 195.39 37.76 L 195.20 37.52 L 195.06 37.67 L 194.91 37.82 L 194.77 37.97 L 194.63 38.12 L 194.42 38.27 L 194.21 38.42 L 193.99 38.57 L 193.78 38.73 L 193.70 39.03 L 193.63 39.34 L 193.55 39.65 L 193.48 39.96 L 193.81 39.96 L 194.14 39.96 L 194.47 39.96 L 194.80 39.96 L 195.07 39.87 L 195.35 39.79 L 195.63 39.70 L 195.91 39.61 " clip-path="url(#p00a1719387)" style="fill: none; stroke: #777777; stroke-width: 0.5; stroke-linecap: square"/></g><g><path d="M 188.19 32.24 L 188.05 32.03 L 187.91 31.83 L 187.78 31.63 L 187.64 31.43 L 188.03 31.32 L 188.41 31.21 L 188.79 31.11 L 189.17 31.01 L 189.89 30.98 L 190.61 30.95 L 191.33 30.93 L 192.05 30.90 L 192.20 31.10 L 192.35 31.29 L 192.51 31.49 L 192.66 31.69 L 192.09 31.91 L 191.51 32.13 L 190.93 32.35 L 190.34 32.57 L 189.80 32.49 L 189.26 32.40 L 188.73 32.32 L 188.19 32.24 " clip-path="url(#p00a1719387)" style="fill: none; stroke: #777777; stroke-width: 0.5; stroke-linecap: square"/></g><g><path d="M 203.84 25.97 L 204.35 25.87 L 204.86 25.76 L 205.37 25.66 L 205.87 25.56 L 207.02 25.56 L 208.17 25.56 L 209.31 25.56 L 210.46 25.56 L 209.99 25.73 L 209.52 25.90 L 209.05 26.09 L 208.57 26.28 L 208.00 26.36 L 207.43 26.44 L 206.86 26.52 L 206.29 26.60 L 205.67 26.44 L 205.05 26.28 L 204.44 26.12 L 203.84 25.97 " clip-path="url(#p00a1719387)" style="fill: none; stroke: #777777; stroke-width: 0.5; stroke-linecap: square"/></g><g><path d="M 222.68 28.53 L 223.00 28.10 L 223.31 27.70 L 223.62 27.31 L 223.93 26.95 L 225.04 26.83 L 226.15 26.72 L 227.25 26.61 L 228.34 26.50 L 227.71 26.65 L 227.07 26.81 L 226.43 26.96 L 225.79 27.13 L 225.30 27.36 L 224.80 27.60 L 224.29 27.85 L 223.78 28.10 L 223.51 28.21 L 223.24 28.31 L 222.96 28.42 L 222.68 28.53 " clip-path="url(#p00a1719387)" style="fill: none; stroke: #777777; stroke-width: 0.5; stroke-linecap: square"/></g><g><path d="M 280.39 53.50 L 281.08 53.60 L 281.77 53.70 L 282.46 53.81 L 283.15 53.91 L 283.76 53.60 L 284.37 53.29 L 284.98 52.98 L 285.58 52.68 L 285.38 52.06 L 285.17 51.46 L 284.96 50.85 L 284.73 50.25 L 284.39 49.59 L 284.03 48.94 L 283.67 48.29 L 283.30 47.64 L 283.19 47.80 L 283.07 47.95 L 282.95 48.11 L 282.84 48.27 L 283.09 48.76 L 283.34 49.25 L 283.58 49.75 L 283.82 50.25 L 283.49 50.45 L 283.16 50.65 L 282.82 50.85 L 282.49 51.05 L 282.13 51.35 L 281.77 51.66 L 281.40 51.96 L 281.04 52.27 L 280.88 52.57 L 280.72 52.88 L 280.56 53.19 L 280.39 53.50 " clip-path="url(#p00a1719387)" style="fill: none; stroke: #777777; stroke-width: 0.5; stroke-linecap: square"/></g><g><path d="M 282.30 47.49 L 282.00 46.75 L 281.69 46.02 L 281.36 45.30 L 281.02 44.59 L 281.90 44.96 L 282.77 45.34 L 283.65 45.72 L 284.53 46.10 L 284.35 46.35 L 284.17 46.60 L 283.99 46.85 L 283.80 47.10 L 283.43 47.20 L 283.05 47.29 L 282.68 47.39 L 282.30 47.49 " clip-path="url(#p00a1719387)" style="fill: none; stroke: #777777; stroke-width: 0.5; stroke-linecap: square"/></g><g><path d="M 280.04 54.16 L 280.29 54.03 L 280.54 53.91 L 280.79 53.78 L 281.03 53.66 L 281.20 54.18 L 281.37 54.70 L 281.53 55.22 L 281.68 55.74 L 281.53 55.76 L 281.38 55.78 L 281.24 55.80 L 281.09 55.82 L 280.83 55.40 L 280.57 54.99 L 280.31 54.57 L 280.04 54.16 " clip-path="url(#p00a1719387)" style="fill: none; stroke: #777777; stroke-width: 0.5; stroke-linecap: square"/></g><g><path d="M 280.89 44.06 L 280.65 43.51 L 280.41 42.96 L 280.15 42.41 L 279.88 41.87 L 279.00 40.98 L 278.11 40.10 L 277.21 39.24 L 276.29 38.39 L 276.17 38.34 L 276.05 38.29 L 275.93 38.24 L 275.81 38.19 L 276.31 38.74 L 276.80 39.31 L 277.28 39.87 L 277.75 40.45 L 278.56 41.33 L 279.36 42.23 L 280.13 43.14 L 280.89 44.06 " clip-path="url(#p00a1719387)" style="fill: none; stroke: #777777; stroke-width: 0.5; stroke-linecap: square"/></g><g><path d="M 277.56 60.84 L 277.51 61.34 L 277.44 61.84 L 277.38 62.34 L 277.31 62.84 L 277.49 63.08 L 277.68 63.32 L 277.86 63.56 L 278.05 63.80 L 278.06 63.23 L 278.06 62.67 L 278.06 62.10 L 278.06 61.54 L 277.93 61.36 L 277.81 61.19 L 277.69 61.02 L 277.56 60.84 " clip-path="url(#p00a1719387)" style="fill: none; stroke: #777777; stroke-width: 0.5; stroke-linecap: square"/></g><g><path d="M 270.74 66.18 L 270.99 65.98 L 271.24 65.78 L 271.48 65.58 L 271.73 65.38 L 271.84 65.49 L 271.95 65.60 L 272.06 65.71 L 272.17 65.82 L 272.01 66.13 L 271.85 66.44 L 271.69 66.75 L 271.53 67.06 L 271.33 66.84 L 271.13 66.62 L 270.94 66.40 L 270.74 66.18 " clip-path="url(#p00a1719387)" style="fill: none; stroke: #777777; stroke-width: 0.5; stroke-linecap: square"/></g><g><path d="M 278.66 66.80 L 278.94 66.80 L 279.22 66.80 L 279.50 66.80 L 279.78 66.80 L 279.88 67.35 L 279.98 67.90 L 280.07 68.46 L 280.16 69.02 L 280.63 69.69 L 281.10 70.36 L 281.56 71.03 L 282.02 71.71 L 281.56 71.48 L 281.10 71.26 L 280.64 71.03 L 280.19 70.81 L 279.90 70.63 L 279.62 70.45 L 279.33 70.27 L 279.05 70.09 L 278.97 69.26 L 278.88 68.44 L 278.77 67.62 L 278.66 66.80 " clip-path="url(#p00a1719387)" style="fill: none; stroke: #777777; stroke-width: 0.5; stroke-linecap: square"/></g><g><path d="M 281.40 77.13 L 281.93 76.51 L 282.45 75.90 L 282.97 75.29 L 283.48 74.68 L 283.72 75.29 L 283.97 75.90 L 284.20 76.51 L 284.43 77.13 L 284.29 77.40 L 284.14 77.67 L 284.00 77.94 L 283.85 78.22 L 283.48 77.83 L 283.11 77.44 L 282.74 77.06 L 282.36 76.67 L 282.12 76.79 L 281.88 76.90 L 281.64 77.01 L 281.40 77.13 " clip-path="url(#p00a1719387)" style="fill: none; stroke: #777777; stroke-width: 0.5; stroke-linecap: square"/></g><g><path d="M 281.76 74.41 L 281.89 74.07 L 282.01 73.73 L 282.12 73.39 L 282.24 73.06 L 282.42 73.17 L 282.61 73.28 L 282.79 73.39 L 282.98 73.51 L 282.93 73.78 L 282.89 74.05 L 282.84 74.32 L 282.80 74.59 L 282.54 74.54 L 282.28 74.50 L 282.02 74.45 L 281.76 74.41 " clip-path="url(#p00a1719387)" style="fill: none; stroke: #777777; stroke-width: 0.5; stroke-linecap: square"/></g><g><path d="M 272.89 82.13 L 273.31 81.90 L 273.73 81.67 L 274.14 81.45 L 274.56 81.22 L 274.89 80.99 L 275.22 80.76 L 275.55 80.54 L 275.88 80.31 L 276.27 79.63 L 276.65 78.94 L 277.02 78.26 L 277.39 77.58 L 277.66 77.74 L 277.92 77.90 L 278.19 78.06 L 278.45 78.22 L 278.72 78.40 L 278.99 78.58 L 279.25 78.76 L 279.52 78.94 L 279.40 79.85 L 279.27 80.76 L 279.13 81.67 L 278.98 82.58 L 278.90 83.04 L 278.82 83.5 L 278.73 83.95 L 278.64 84.41 L 278.38 85.04 L 278.11 85.68 L 277.83 86.32 L 277.55 86.96 L 277.30 86.89 L 277.05 86.82 L 276.80 86.75 L 276.55 86.68 L 275.97 86.57 L 275.38 86.45 L 274.79 86.34 L 274.20 86.23 L 274.05 85.89 L 273.89 85.54 L 273.73 85.20 L 273.57 84.86 L 273.41 84.18 L 273.24 83.5 L 273.07 82.81 L 272.89 82.13 " clip-path="url(#p00a1719387)" style="fill: none; stroke: #777777; stroke-width: 0.5; stroke-linecap: square"/></g><g><path d="M 263.50 78.49 L 263.87 78.56 L 264.25 78.62 L 264.62 78.69 L 265.00 78.76 L 265.50 79.44 L 266.01 80.13 L 266.50 80.81 L 266.99 81.49 L 267.58 82.17 L 268.17 82.86 L 268.74 83.54 L 269.31 84.22 L 269.70 84.77 L 270.07 85.32 L 270.45 85.86 L 270.82 86.41 L 270.76 87.00 L 270.70 87.59 L 270.63 88.18 L 270.56 88.77 L 270.34 88.80 L 270.12 88.82 L 269.90 88.84 L 269.68 88.86 L 269.37 88.43 L 269.06 88.00 L 268.74 87.57 L 268.43 87.14 L 268.12 86.45 L 267.80 85.77 L 267.48 85.09 L 267.15 84.41 L 266.87 83.77 L 266.58 83.13 L 266.29 82.49 L 265.99 81.86 L 265.38 81.01 L 264.76 80.17 L 264.13 79.33 L 263.50 78.49 " clip-path="url(#p00a1719387)" style="fill: none; stroke: #777777; stroke-width: 0.5; stroke-linecap: square"/></g><g><path d="M 270.09 89.68 L 270.65 89.61 L 271.22 89.55 L 271.78 89.48 L 272.34 89.41 L 272.76 89.39 L 273.18 89.36 L 273.61 89.34 L 274.03 89.32 L 274.60 89.61 L 275.16 89.91 L 275.73 90.20 L 276.29 90.50 L 276.26 90.73 L 276.24 90.95 L 276.22 91.18 L 276.19 91.40 L 275.45 91.27 L 274.71 91.13 L 273.97 91.00 L 273.22 90.86 L 272.56 90.70 L 271.91 90.54 L 271.25 90.39 L 270.59 90.23 L 270.46 90.09 L 270.34 89.95 L 270.22 89.82 L 270.09 89.68 " clip-path="url(#p00a1719387)" style="fill: none; stroke: #777777; stroke-width: 0.5; stroke-linecap: square"/></g><g><path d="M 276.57 91.04 L 276.72 91.18 L 276.88 91.31 L 277.03 91.45 L 277.18 91.59 L 277.70 91.50 L 278.21 91.40 L 278.73 91.31 L 279.24 91.22 L 279.40 91.29 L 279.56 91.36 L 279.72 91.43 L 279.88 91.50 L 280.40 91.38 L 280.92 91.27 L 281.43 91.16 L 281.95 91.04 " clip-path="url(#p00a1719387)" style="fill: none; stroke: #777777; stroke-width: 0.5; stroke-linecap: square"/></g><g><path d="M 282.42 92.67 L 282.98 92.29 L 283.53 91.90 L 284.08 91.52 L 284.63 91.13 L 284.28 91.25 L 283.93 91.36 L 283.58 91.47 L 283.23 91.59 L 283.03 91.86 L 282.83 92.13 L 282.63 92.40 L 282.42 92.67 " clip-path="url(#p00a1719387)" style="fill: none; stroke: #777777; stroke-width: 0.5; stroke-linecap: square"/></g><g><path d="M 279.82 88.50 L 279.77 88.05 L 279.71 87.59 L 279.65 87.14 L 279.59 86.68 L 279.57 86.45 L 279.54 86.23 L 279.52 86.00 L 279.49 85.77 L 279.68 85.20 L 279.86 84.63 L 280.03 84.06 L 280.20 83.5 L 280.32 83.27 L 280.44 83.04 L 280.56 82.81 L 280.67 82.58 L 281.43 82.49 L 282.19 82.40 L 282.95 82.31 L 283.71 82.22 L 283.04 82.40 L 282.36 82.58 L 281.69 82.77 L 281.01 82.95 L 281.10 83.29 L 281.18 83.63 L 281.27 83.97 L 281.35 84.31 L 281.65 84.31 L 281.96 84.31 L 282.26 84.31 L 282.57 84.31 L 282.23 84.54 L 281.88 84.77 L 281.54 85.00 L 281.20 85.23 L 281.38 85.82 L 281.56 86.41 L 281.74 87.00 L 281.91 87.59 L 281.66 87.59 L 281.40 87.59 L 281.15 87.59 L 280.90 87.59 L 280.81 87.23 L 280.73 86.86 L 280.65 86.50 L 280.56 86.14 L 280.54 86.73 L 280.51 87.32 L 280.47 87.91 L 280.43 88.50 L 280.28 88.50 L 280.13 88.50 L 279.98 88.50 L 279.82 88.50 " clip-path="url(#p00a1719387)" style="fill: none; stroke: #777777; stroke-width: 0.5; stroke-linecap: square"/></g><g><path d="M 285.40 82.13 L 285.57 82.58 L 285.75 83.04 L 285.92 83.5 L 286.09 83.95 L 286.00 84.06 L 285.91 84.18 L 285.83 84.29 L 285.74 84.41 L 285.66 83.84 L 285.58 83.27 L 285.49 82.70 L 285.40 82.13 " clip-path="url(#p00a1719387)" style="fill: none; stroke: #777777; stroke-width: 0.5; stroke-linecap: square"/></g><g><path d="M 287.77 84.68 L 288.31 84.59 L 288.85 84.50 L 289.39 84.41 L 289.94 84.31 L 290.24 84.52 L 290.54 84.72 L 290.84 84.93 L 291.14 85.13 L 291.48 85.09 L 291.82 85.04 L 292.15 85.00 L 292.49 84.95 L 293.00 85.18 L 293.50 85.41 L 293.99 85.64 L 294.49 85.86 L 295.07 86.14 L 295.65 86.41 L 296.23 86.68 L 296.80 86.96 L 297.03 87.34 L 297.26 87.73 L 297.48 88.12 L 297.70 88.50 L 297.99 88.68 L 298.28 88.86 L 298.56 89.05 L 298.85 89.23 L 298.72 89.50 L 298.59 89.77 L 298.46 90.05 L 298.33 90.32 L 298.66 90.77 L 298.98 91.22 L 299.31 91.68 L 299.62 92.13 L 299.81 92.35 L 299.99 92.58 L 300.17 92.81 L 300.35 93.03 L 299.98 92.94 L 299.61 92.85 L 299.24 92.76 L 298.87 92.67 L 298.52 92.24 L 298.16 91.81 L 297.80 91.38 L 297.44 90.95 L 297.02 90.95 L 296.60 90.95 L 296.18 90.95 L 295.76 90.95 L 295.56 91.20 L 295.35 91.45 L 295.15 91.70 L 294.95 91.95 L 294.70 91.90 L 294.46 91.86 L 294.21 91.81 L 293.97 91.77 L 293.68 91.54 L 293.39 91.31 L 293.10 91.09 L 292.81 90.86 L 292.68 90.25 L 292.54 89.64 L 292.40 89.02 L 292.25 88.41 L 291.77 88.18 L 291.30 87.96 L 290.83 87.73 L 290.35 87.50 L 289.99 87.41 L 289.62 87.32 L 289.26 87.23 L 288.89 87.14 L 288.62 86.52 L 288.34 85.91 L 288.06 85.29 L 287.77 84.68 " clip-path="url(#p00a1719387)" style="fill: none; stroke: #777777; stroke-width: 0.5; stroke-linecap: square"/></g><g><path d="M 300.40 88.50 L 300.77 88.21 L 301.13 87.91 L 301.49 87.62 L 301.85 87.32 L 302.01 87.46 L 302.16 87.59 L 302.32 87.73 L 302.48 87.87 L 302.21 88.14 L 301.93 88.41 L 301.65 88.68 L 301.37 88.96 L 301.13 88.84 L 300.89 88.73 L 300.65 88.62 L 300.40 88.50 " clip-path="url(#p00a1719387)" style="fill: none; stroke: #777777; stroke-width: 0.5; stroke-linecap: square"/></g><g><path d="M 303.73 88.96 L 304.03 89.30 L 304.33 89.64 L 304.63 89.98 L 304.93 90.32 L 305.37 90.77 L 305.81 91.22 L 306.25 91.68 L 306.68 92.13 L 306.89 92.35 L 307.11 92.58 L 307.32 92.81 L 307.53 93.03 " clip-path="url(#p00a1719387)" style="fill: none; stroke: #777777; stroke-width: 0.5; stroke-linecap: square"/></g><g><path d="M 273.59 103.28 L 272.49 106.21 L 272.51 107.18 L 272.10 109.74 L 271.15 113.08 L 270.42 113.74 L 272.00 114.31 L 274.87 113.16 L 277.65 112.23 L 278.56 111.94 L 280.58 111.48 L 281.79 111.42 L 282.95 112.50 L 282.95 114.15 L 285.32 112.25 L 283.80 114.72 L 284.89 114.97 L 284.49 116.74 L 286.22 117.44 L 287.37 117.62 L 288.91 116.66 L 290.46 116.34 L 293.06 113.39 L 294.75 111.84 L 296.93 108.89 L 298.06 105.89 L 297.44 103.71 L 296.44 101.96 L 295.54 100.64 L 295.87 96.99 L 294.85 96.18 L 294.75 93.21 L 293.79 95.19 L 293.28 97.53 L 292.14 99.40 L 291.28 99.13 L 289.33 97.08 L 290.68 94.66 L 290.08 94.30 L 288.27 93.93 L 286.82 94.57 L 285.35 96.99 L 284.37 96.90 L 283.19 96.18 L 281.74 98.33 L 280.49 98.86 L 279.58 100.22 L 278.76 101.08 L 276.31 101.92 L 275.69 102.05 L 273.59 103.28 L 273.59 103.28 " clip-path="url(#p00a1719387)" style="fill: none; stroke: #777777; stroke-width: 0.5; stroke-linecap: square"/></g><g><path d="M 285.53 118.88 L 286.04 118.92 L 286.55 118.96 L 287.06 119.00 L 287.57 119.04 L 287.20 119.48 L 286.82 119.93 L 286.44 120.37 L 286.06 120.81 L 285.70 120.89 L 285.35 120.97 L 285.00 121.04 L 284.65 121.12 L 284.69 120.87 L 284.73 120.62 L 284.78 120.37 L 284.81 120.12 L 285.00 119.81 L 285.18 119.50 L 285.36 119.19 L 285.53 118.88 " clip-path="url(#p00a1719387)" style="fill: none; stroke: #777777; stroke-width: 0.5; stroke-linecap: square"/></g><g><path d="M 306.09 113.82 L 306.07 114.25 L 306.05 114.68 L 306.02 115.11 L 305.98 115.53 L 306.09 115.68 L 306.19 115.82 L 306.30 115.96 L 306.41 116.10 L 306.72 116.20 L 307.04 116.30 L 307.36 116.40 L 307.67 116.50 L 307.16 116.86 L 306.64 117.22 L 306.13 117.58 L 305.61 117.94 L 305.00 118.35 L 304.40 118.76 L 303.79 119.17 L 303.19 119.58 L 303.13 119.52 L 303.08 119.46 L 303.03 119.41 L 302.97 119.35 L 303.26 119.06 L 303.53 118.76 L 303.81 118.47 L 304.09 118.17 L 304.04 118.05 L 303.98 117.94 L 303.93 117.82 L 303.87 117.70 L 304.33 117.26 L 304.78 116.82 L 305.23 116.38 L 305.67 115.94 L 305.79 115.41 L 305.90 114.89 L 306.00 114.36 L 306.09 113.82 " clip-path="url(#p00a1719387)" style="fill: none; stroke: #777777; stroke-width: 0.5; stroke-linecap: square"/></g><g><path d="M 302.37 118.72 L 302.45 118.92 L 302.52 119.11 L 302.59 119.31 L 302.66 119.50 L 302.08 119.95 L 301.49 120.39 L 300.90 120.83 L 300.31 121.27 L 299.92 121.41 L 299.54 121.54 L 299.15 121.67 L 298.77 121.80 L 298.12 122.20 L 297.47 122.59 L 296.82 122.98 L 296.17 123.37 L 295.87 123.26 L 295.58 123.15 L 295.29 123.04 L 294.99 122.93 L 295.56 122.55 L 296.12 122.18 L 296.69 121.80 L 297.25 121.42 L 297.79 121.23 L 298.32 121.04 L 298.86 120.85 L 299.40 120.66 L 300.15 120.18 L 300.89 119.70 L 301.63 119.21 L 302.37 118.72 " clip-path="url(#p00a1719387)" style="fill: none; stroke: #777777; stroke-width: 0.5; stroke-linecap: square"/></g><g><path d="M 252.85 74.59 L 253.21 75.11 L 253.57 75.63 L 253.93 76.15 L 254.28 76.67 L 254.20 76.97 L 254.12 77.26 L 254.03 77.56 L 253.95 77.85 L 253.75 77.90 L 253.55 77.94 L 253.35 77.99 L 253.15 78.03 L 253.07 77.53 L 252.99 77.04 L 252.91 76.54 L 252.83 76.04 L 252.83 75.68 L 252.84 75.31 L 252.84 74.95 L 252.85 74.59 " clip-path="url(#p00a1719387)" style="fill: none; stroke: #777777; stroke-width: 0.5; stroke-linecap: square"/></g><g><path d="M 165.59 126.89 L 165.99 126.86 L 166.39 126.82 L 166.79 126.79 L 167.19 126.75 L 167.12 126.93 L 167.05 127.10 L 166.98 127.27 L 166.91 127.44 L 166.58 127.31 L 166.25 127.17 L 165.92 127.03 L 165.59 126.89 " clip-path="url(#p00a1719387)" style="fill: none; stroke: #777777; stroke-width: 0.5; stroke-linecap: square"/></g><g><path d="M 307.38 101.96 L 307.58 102.29 L 307.78 102.62 L 307.98 102.95 L 308.17 103.28 L 308.05 103.17 L 307.93 103.06 L 307.81 102.95 L 307.69 102.84 L 307.62 102.62 L 307.54 102.40 L 307.46 102.18 L 307.38 101.96 " clip-path="url(#p00a1719387)" style="fill: none; stroke: #777777; stroke-width: 0.5; stroke-linecap: square"/></g><g><path d="M 316.89 99.31 L 317.13 99.09 L 317.37 98.86 L 317.61 98.64 L 317.85 98.42 L 317.66 98.75 L 317.46 99.09 L 317.26 99.42 L 317.07 99.75 L 317.02 99.64 L 316.98 99.53 L 316.93 99.42 L 316.89 99.31 " clip-path="url(#p00a1719387)" style="fill: none; stroke: #777777; stroke-width: 0.5; stroke-linecap: square"/></g><g><path d="M 123.05 140.96 L 129.80 141.16 L 132.17 141.29 L 136.72 140.31 L 142.13 139.60 L 146.25 139.41 L 151.00 139.68 L 157.05 139.19 L 160.33 139.14 L 163.79 139.29 L 166.21 137.56 L 167.32 136.84 L 167.91 135.56 L 169.70 134.47 L 171.12 134.36 L 169.87 135.83 L 169.67 136.09 L 169.98 137.33 L 171.96 138.94 L 172.47 139.68 L 169.11 140.39 L 173.75 140.87 L 180.03 140.71 L 182.16 140.71 L 188.04 139.34 L 191.13 138.78 L 199.2 137.91 L 202.64 137.80 L 209.50 137.90 L 210.63 137.93 L 214.50 137.33 L 217.65 137.56 L 222.88 136.34 L 226.26 136.24 L 230.33 136.72 L 231.83 137.09 L 232.23 137.80 L 234.51 137.39 L 237.79 136.66 L 241.11 136.09 L 245.12 136.00 L 247.18 135.72 L 251.87 135.83 L 255.10 136.34 L 263.84 135.83 L 266.61 136.24 L 269.13 137.09 L 272.62 137.80 L 274.69 138.68 L 272.27 140.39 L 269.18 140.87 L 275.34 140.96 L 275.34 140.96 " clip-path="url(#p00a1719387)" style="fill: none; stroke: #777777; stroke-width: 0.5; stroke-linecap: square"/></g><g><path d="M 271.31 142.74 L 275.54 140.87 L 280.08 138.68 L 285.38 135.83 L 289.06 133.62 L 292.70 131.20 L 296.23 128.60 L 299.60 125.84 L 302.76 122.93 L 305.69 119.89 L 308.39 116.74 L 310.85 113.49 L 313.05 110.16 L 314.98 106.75 L 316.66 103.28 L 318.06 99.75 L 319.18 96.18 L 320.03 92.58 L 320.59 88.96 L 320.88 85.32 L 320.88 81.67 L 320.59 78.03 L 320.03 74.41 L 319.18 70.81 L 318.06 67.24 L 316.66 63.71 L 314.98 60.24 L 313.05 56.83 L 310.85 53.50 L 308.39 50.25 L 305.69 47.10 L 302.76 44.06 L 299.60 41.15 L 296.23 38.39 L 292.70 35.79 L 289.06 33.37 L 285.38 31.16 L 280.08 28.31 L 274.31 25.56 L 271.31 24.25 L 126.96 24.31 L 121.46 26.77 L 116.60 29.19 L 113.01 31.16 L 109.33 33.37 L 105.69 35.79 L 102.16 38.39 L 98.79 41.15 L 95.63 44.06 L 92.70 47.10 L 90.00 50.25 L 87.54 53.50 L 85.34 56.83 L 83.41 60.24 L 81.73 63.71 L 80.33 67.24 L 79.21 70.81 L 78.36 74.41 L 77.80 78.03 L 77.51 81.67 L 77.51 85.32 L 77.80 88.96 L 78.36 92.58 L 79.21 96.18 L 80.33 99.75 L 81.73 103.28 L 83.41 106.75 L 85.34 110.16 L 87.54 113.49 L 90.00 116.74 L 92.70 119.89 L 95.63 122.93 L 98.79 125.84 L 102.16 128.60 L 105.69 131.20 L 109.33 133.62 L 113.01 135.83 L 118.31 138.68 L 124.08 141.43 L 127.08 142.74 L 271.31 142.74 L 271.31 142.74 " clip-path="url(#p00a1719387)" style="fill: none; stroke: #000000; stroke-width: 1.45; stroke-linejoin: miter; stroke-linecap: square"/></g><g><defs><path id="mbb9404c1d7" d="M 0 4.3 C 1.14 4.3 2.23 3.84 3.04 3.04 C 3.84 2.23 4.3 1.14 4.3 0 C 4.3 -1.14 3.84 -2.23 3.04 -3.04 C 2.23 -3.84 1.14 -4.3 0 -4.3 C -1.14 -4.3 -2.23 -3.84 -3.04 -3.04 C -3.84 -2.23 -4.3 -1.14 -4.3 0 C -4.3 1.14 -3.84 2.23 -3.04 3.04 C -2.23 3.84 -1.14 4.3 0 4.3 z "/></defs><g clip-path="url(#p00a1719387)"><use href="#mbb9404c1d7" x="271.25" y="89.14" style="fill: #1f77b4"/></g></g><g><g clip-path="url(#p00a1719387)"><use href="#mbb9404c1d7" x="293.05" y="113.39" style="fill: #1f77b4"/></g></g><g><g clip-path="url(#p00a1719387)"><use href="#mbb9404c1d7" x="269.00" y="48.74" style="fill: #1f77b4"/></g></g><g><g clip-path="url(#p00a1719387)"><use href="#mbb9404c1d7" x="248.33" y="58.02" style="fill: #1f77b4"/></g></g><g><g clip-path="url(#p00a1719387)"><use href="#mbb9404c1d7" x="200.60" y="71.26" style="fill: #1f77b4"/></g></g><g><g clip-path="url(#p00a1719387)"><use href="#mbb9404c1d7" x="224.09" y="84.67" style="fill: #1f77b4"/></g></g><g><g clip-path="url(#p00a1719387)"><use href="#mbb9404c1d7" x="155.25" y="113.04" style="fill: #1f77b4"/></g></g><g><g clip-path="url(#p00a1719387)"><use href="#mbb9404c1d7" x="133.99" y="65.97" style="fill: #1f77b4"/></g></g><g><g clip-path="url(#p00a1719387)"><use href="#mbb9404c1d7" x="175.45" y="88.77" style="fill: #1f77b4"/></g></g></g><g><text style="font-size: 17.16px; font-family: 'DejaVu Sans', 'Liberation Sans', sans-serif; text-anchor: middle" x="199.2" y="15.9" transform="rotate(-0 199.2 15.9)">Sample sites location</text></g><g><g><path d="M 4.56 900.6 L 597.64 900.6 Q 600.5 900.6 600.5 897.74 L 600.5 855.41 Q 600.5 852.55 597.64 852.55 L 4.56 852.55 Q 1.7 852.55 1.7 855.41 L 1.7 897.74 Q 1.7 900.6 4.56 900.6 z " style="fill: #ffffff; opacity: 0.8; stroke: #cccccc; stroke-linejoin: miter"/></g><g><defs><path id="m691acd1d80" d="M 0 2 C 0.53 2 1.03 1.78 1.41 1.41 C 1.78 1.03 2 0.53 2 0 C 2 -0.53 1.78 -1.03 1.41 -1.41 C 1.03 -1.78 0.53 -2 0 -2 C -0.53 -2 -1.03 -1.78 -1.41 -1.41 C -1.78 -1.03 -2 -0.53 -2 0 C -2 0.53 -1.78 1.03 -1.41 1.41 C -1.03 1.78 -0.53 2 0 2 z "/></defs><g><use href="#m691acd1d80" x="21.72" y="864.13" style="fill: #1f77b4"/></g></g><g><g transform="translate(47.46 869.14)"><text><tspan x="0" y="-0.35" style="font-size: 14.3px; font-family: 'DejaVu Sans', 'Liberation Sans', sans-serif">L</tspan><tspan x="7.93" y="-0.35" style="font-size: 14.3px; font-family: 'DejaVu Sans', 'Liberation Sans', sans-serif">o</tspan><tspan x="16.65" y="-0.35" style="font-size: 14.3px; font-family: 'DejaVu Sans', 'Liberation Sans', sans-serif">c</tspan><tspan x="24.49" y="-0.35" style="font-size: 14.3px; font-family: 'DejaVu Sans', 'Liberation Sans', sans-serif">a</tspan><tspan x="33.22" y="-0.35" style="font-size: 14.3px; font-family: 'DejaVu Sans', 'Liberation Sans', sans-serif">t</tspan><tspan x="38.81" y="-0.35" style="font-size: 14.3px; font-family: 'DejaVu Sans', 'Liberation Sans', sans-serif">i</tspan><tspan x="42.77" y="-0.35" style="font-size: 14.3px; font-family: 'DejaVu Sans', 'Liberation Sans', sans-serif">o</tspan><tspan x="51.48" y="-0.35" style="font-size: 14.3px; font-family: 'DejaVu Sans', 'Liberation Sans', sans-serif">n</tspan><tspan x="60.52" y="-0.35" style="font-size: 14.3px; font-family: 'DejaVu Sans', 'Liberation Sans', sans-serif"></tspan><tspan x="65.05" y="-0.35" style="font-style: oblique; font-size: 14.3px; font-family: 'DejaVu Sans', 'Liberation Sans', sans-serif">μ</tspan></text></g></g><g><g><use href="#m92d5d42935" x="21.72" y="886.87" style="fill: #1f77b4; stroke: #1f77b4; stroke-width: 1.3"/></g></g><g><g transform="translate(47.46 891.87)"><text><tspan x="0" y="-0.35" style="font-size: 14.3px; font-family: 'DejaVu Sans', 'Liberation Sans', sans-serif">L</tspan><tspan x="7.93" y="-0.35" style="font-size: 14.3px; font-family: 'DejaVu Sans', 'Liberation Sans', sans-serif">o</tspan><tspan x="16.65" y="-0.35" style="font-size: 14.3px; font-family: 'DejaVu Sans', 'Liberation Sans', sans-serif">c</tspan><tspan x="24.49" y="-0.35" style="font-size: 14.3px; font-family: 'DejaVu Sans', 'Liberation Sans', sans-serif">a</tspan><tspan x="33.22" y="-0.35" style="font-size: 14.3px; font-family: 'DejaVu Sans', 'Liberation Sans', sans-serif">t</tspan><tspan x="38.81" y="-0.35" style="font-size: 14.3px; font-family: 'DejaVu Sans', 'Liberation Sans', sans-serif">i</tspan><tspan x="42.77" y="-0.35" style="font-size: 14.3px; font-family: 'DejaVu Sans', 'Liberation Sans', sans-serif">o</tspan><tspan x="51.48" y="-0.35" style="font-size: 14.3px; font-family: 'DejaVu Sans', 'Liberation Sans', sans-serif">n</tspan><tspan x="60.52" y="-0.35" style="font-size: 14.3px; font-family: 'DejaVu Sans', 'Liberation Sans', sans-serif"></tspan><tspan x="74.11" y="-0.35" style="font-size: 14.3px; font-family: 'DejaVu Sans', 'Liberation Sans', sans-serif"></tspan><tspan x="78.64" y="-0.35" style="font-size: 14.3px; font-family: 'DejaVu Sans', 'Liberation Sans', sans-serif">9</tspan><tspan x="87.71" y="-0.35" style="font-size: 14.3px; font-family: 'DejaVu Sans', 'Liberation Sans', sans-serif">5</tspan><tspan x="96.77" y="-0.35" style="font-size: 14.3px; font-family: 'DejaVu Sans', 'Liberation Sans', sans-serif">%</tspan><tspan x="110.31" y="-0.35" style="font-size: 14.3px; font-family: 'DejaVu Sans', 'Liberation Sans', sans-serif"></tspan><tspan x="114.84" y="-0.35" style="font-size: 14.3px; font-family: 'DejaVu Sans', 'Liberation Sans', sans-serif">C</tspan><tspan x="124.79" y="-0.35" style="font-size: 14.3px; font-family: 'DejaVu Sans', 'Liberation Sans', sans-serif">I</tspan><tspan x="65.05" y="-0.35" style="font-style: oblique; font-size: 14.3px; font-family: 'DejaVu Sans', 'Liberation Sans', sans-serif">μ</tspan></text></g></g><g><defs><path id="m78a5d2daba" d="M 0 2 C 0.53 2 1.03 1.78 1.41 1.41 C 1.78 1.03 2 0.53 2 0 C 2 -0.53 1.78 -1.03 1.41 -1.41 C 1.03 -1.78 0.53 -2 0 -2 C -0.53 -2 -1.03 -1.78 -1.41 -1.41 C -1.78 -1.03 -2 -0.53 -2 0 C -2 0.53 -1.78 1.03 -1.41 1.41 C -1.03 1.78 -0.53 2 0 2 z "/></defs><g><use href="#m78a5d2daba" x="219.07" y="864.13" style="fill: #2ca02c"/></g></g><g><g transform="translate(244.81 869.14)"><text><tspan x="0" y="-0.35" style="font-size: 14.3px; font-family: 'DejaVu Sans', 'Liberation Sans', sans-serif">S</tspan><tspan x="9.04" y="-0.35" style="font-size: 14.3px; font-family: 'DejaVu Sans', 'Liberation Sans', sans-serif">c</tspan><tspan x="16.88" y="-0.35" style="font-size: 14.3px; font-family: 'DejaVu Sans', 'Liberation Sans', sans-serif">a</tspan><tspan x="25.61" y="-0.35" style="font-size: 14.3px; font-family: 'DejaVu Sans', 'Liberation Sans', sans-serif">l</tspan><tspan x="29.57" y="-0.35" style="font-size: 14.3px; font-family: 'DejaVu Sans', 'Liberation Sans', sans-serif">e</tspan><tspan x="38.33" y="-0.35" style="font-size: 14.3px; font-family: 'DejaVu Sans', 'Liberation Sans', sans-serif"></tspan><tspan x="42.86" y="-0.35" style="font-style: oblique; font-size: 14.3px; font-family: 'DejaVu Sans', 'Liberation Sans', sans-serif">σ</tspan></text></g></g><g><g><use href="#m8536452fce" x="219.07" y="886.84" style="fill: #2ca02c; stroke: #2ca02c; stroke-width: 1.3"/></g></g><g><g transform="translate(244.81 891.84)"><text><tspan x="0" y="-0.35" style="font-size: 14.3px; font-family: 'DejaVu Sans', 'Liberation Sans', sans-serif">S</tspan><tspan x="9.04" y="-0.35" style="font-size: 14.3px; font-family: 'DejaVu Sans', 'Liberation Sans', sans-serif">c</tspan><tspan x="16.88" y="-0.35" style="font-size: 14.3px; font-family: 'DejaVu Sans', 'Liberation Sans', sans-serif">a</tspan><tspan x="25.61" y="-0.35" style="font-size: 14.3px; font-family: 'DejaVu Sans', 'Liberation Sans', sans-serif">l</tspan><tspan x="29.57" y="-0.35" style="font-size: 14.3px; font-family: 'DejaVu Sans', 'Liberation Sans', sans-serif">e</tspan><tspan x="38.33" y="-0.35" style="font-size: 14.3px; font-family: 'DejaVu Sans', 'Liberation Sans', sans-serif"></tspan><tspan x="51.89" y="-0.35" style="font-size: 14.3px; font-family: 'DejaVu Sans', 'Liberation Sans', sans-serif"></tspan><tspan x="56.42" y="-0.35" style="font-size: 14.3px; font-family: 'DejaVu Sans', 'Liberation Sans', sans-serif">9</tspan><tspan x="65.49" y="-0.35" style="font-size: 14.3px; font-family: 'DejaVu Sans', 'Liberation Sans', sans-serif">5</tspan><tspan x="74.56" y="-0.35" style="font-size: 14.3px; font-family: 'DejaVu Sans', 'Liberation Sans', sans-serif">%</tspan><tspan x="88.10" y="-0.35" style="font-size: 14.3px; font-family: 'DejaVu Sans', 'Liberation Sans', sans-serif"></tspan><tspan x="92.63" y="-0.35" style="font-size: 14.3px; font-family: 'DejaVu Sans', 'Liberation Sans', sans-serif">C</tspan><tspan x="102.58" y="-0.35" style="font-size: 14.3px; font-family: 'DejaVu Sans', 'Liberation Sans', sans-serif">I</tspan><tspan x="42.86" y="-0.35" style="font-style: oblique; font-size: 14.3px; font-family: 'DejaVu Sans', 'Liberation Sans', sans-serif">σ</tspan></text></g></g><g><path d="M 379.83 864.13 L 394.13 864.13 L 408.43 864.13 " style="fill: none; stroke: #1f77b4; stroke-width: 1.43; stroke-linecap: square"/></g><g><g transform="translate(419.87 869.14)"><text><tspan x="0" y="-0.13" style="font-style: oblique; font-size: 14.3px; font-family: 'DejaVu Sans', 'Liberation Sans', sans-serif">a</tspan><tspan x="8.73" y="-0.13" style="font-style: oblique; font-size: 14.3px; font-family: 'DejaVu Sans', 'Liberation Sans', sans-serif">d</tspan><tspan x="18.82" y="-5.49" style="font-style: oblique; font-size: 10.01px; font-family: 'DejaVu Sans', 'Liberation Sans', sans-serif">α</tspan></text></g></g><g><path d="M 379.83 886.84 L 394.13 886.84 L 408.43 886.84 " style="fill: none; stroke: #2ca02c; stroke-width: 1.43; stroke-linecap: square"/></g><g><g transform="translate(419.87 891.84)"><text><tspan x="0" y="-0.13" style="font-style: oblique; font-size: 14.3px; font-family: 'DejaVu Sans', 'Liberation Sans', sans-serif">b</tspan><tspan x="9.04" y="-0.13" style="font-style: oblique; font-size: 14.3px; font-family: 'DejaVu Sans', 'Liberation Sans', sans-serif">d</tspan><tspan x="19.13" y="-5.49" style="font-style: oblique; font-size: 10.01px; font-family: 'DejaVu Sans', 'Liberation Sans', sans-serif">β</tspan></text></g></g><g><path d="M 473.65 869.14 L 502.25 869.14 L 502.25 859.13 L 473.65 859.13 z " style="fill: #1f77b4; opacity: 0.25"/></g><g><g transform="translate(513.69 869.14)"><text><tspan x="0" y="-0.13" style="font-style: oblique; font-size: 14.3px; font-family: 'DejaVu Sans', 'Liberation Sans', sans-serif">a</tspan><tspan x="8.73" y="-0.13" style="font-style: oblique; font-size: 14.3px; font-family: 'DejaVu Sans', 'Liberation Sans', sans-serif">d</tspan><tspan x="18.82" y="-5.49" style="font-style: oblique; font-size: 10.01px; font-family: 'DejaVu Sans', 'Liberation Sans', sans-serif">α</tspan><tspan x="25.77" y="-0.13" style="font-size: 14.3px; font-family: 'DejaVu Sans', 'Liberation Sans', sans-serif"></tspan><tspan x="30.30" y="-0.13" style="font-size: 14.3px; font-family: 'DejaVu Sans', 'Liberation Sans', sans-serif">9</tspan><tspan x="39.37" y="-0.13" style="font-size: 14.3px; font-family: 'DejaVu Sans', 'Liberation Sans', sans-serif">5</tspan><tspan x="48.44" y="-0.13" style="font-size: 14.3px; font-family: 'DejaVu Sans', 'Liberation Sans', sans-serif">%</tspan><tspan x="61.98" y="-0.13" style="font-size: 14.3px; font-family: 'DejaVu Sans', 'Liberation Sans', sans-serif"></tspan><tspan x="66.51" y="-0.13" style="font-size: 14.3px; font-family: 'DejaVu Sans', 'Liberation Sans', sans-serif">C</tspan><tspan x="76.46" y="-0.13" style="font-size: 14.3px; font-family: 'DejaVu Sans', 'Liberation Sans', sans-serif">I</tspan></text></g></g><g><path d="M 473.65 891.84 L 502.25 891.84 L 502.25 881.83 L 473.65 881.83 z " style="fill: #2ca02c; opacity: 0.25"/></g><g><g transform="translate(513.69 891.84)"><text><tspan x="0" y="-0.13" style="font-style: oblique; font-size: 14.3px; font-family: 'DejaVu Sans', 'Liberation Sans', sans-serif">b</tspan><tspan x="9.04" y="-0.13" style="font-style: oblique; font-size: 14.3px; font-family: 'DejaVu Sans', 'Liberation Sans', sans-serif">d</tspan><tspan x="19.13" y="-5.49" style="font-style: oblique; font-size: 10.01px; font-family: 'DejaVu Sans', 'Liberation Sans', sans-serif">β</tspan><tspan x="25.88" y="-0.13" style="font-size: 14.3px; font-family: 'DejaVu Sans', 'Liberation Sans', sans-serif"></tspan><tspan x="30.41" y="-0.13" style="font-size: 14.3px; font-family: 'DejaVu Sans', 'Liberation Sans', sans-serif">9</tspan><tspan x="39.47" y="-0.13" style="font-size: 14.3px; font-family: 'DejaVu Sans', 'Liberation Sans', sans-serif">5</tspan><tspan x="48.54" y="-0.13" style="font-size: 14.3px; font-family: 'DejaVu Sans', 'Liberation Sans', sans-serif">%</tspan><tspan x="62.08" y="-0.13" style="font-size: 14.3px; font-family: 'DejaVu Sans', 'Liberation Sans', sans-serif"></tspan><tspan x="66.61" y="-0.13" style="font-size: 14.3px; font-family: 'DejaVu Sans', 'Liberation Sans', sans-serif">C</tspan><tspan x="76.56" y="-0.13" style="font-size: 14.3px; font-family: 'DejaVu Sans', 'Liberation Sans', sans-serif">I</tspan></text></g></g></g></g><defs><clipPath id="pa91a265807"><rect x="345.5" y="21.6" width="244" height="123.8"/></clipPath><clipPath id="pf2905efbd2"><rect x="77.4" y="184.5" width="244" height="123.8"/></clipPath><clipPath id="p554a6df7d1"><rect x="345.5" y="184.5" width="244" height="123.8"/></clipPath><clipPath id="p6c016c74ef"><rect x="77.4" y="347.5" width="244" height="123.8"/></clipPath><clipPath id="p555539c6d3"><rect x="345.5" y="347.5" width="244" height="123.8"/></clipPath><clipPath id="peab2482843"><rect x="77.4" y="510.5" width="244" height="123.8"/></clipPath><clipPath id="pe0b69a8a8d"><rect x="345.5" y="510.5" width="244" height="123.8"/></clipPath><clipPath id="pc2e4bc1139"><rect x="77.4" y="673.5" width="244" height="123.8"/></clipPath><clipPath id="paa1442e814"><rect x="345.5" y="673.5" width="244" height="123.8"/></clipPath><clipPath id="p00a1719387"><rect x="77.48" y="24.26" width="243.43" height="118.47"/></clipPath></defs></svg> 
</body></html>
